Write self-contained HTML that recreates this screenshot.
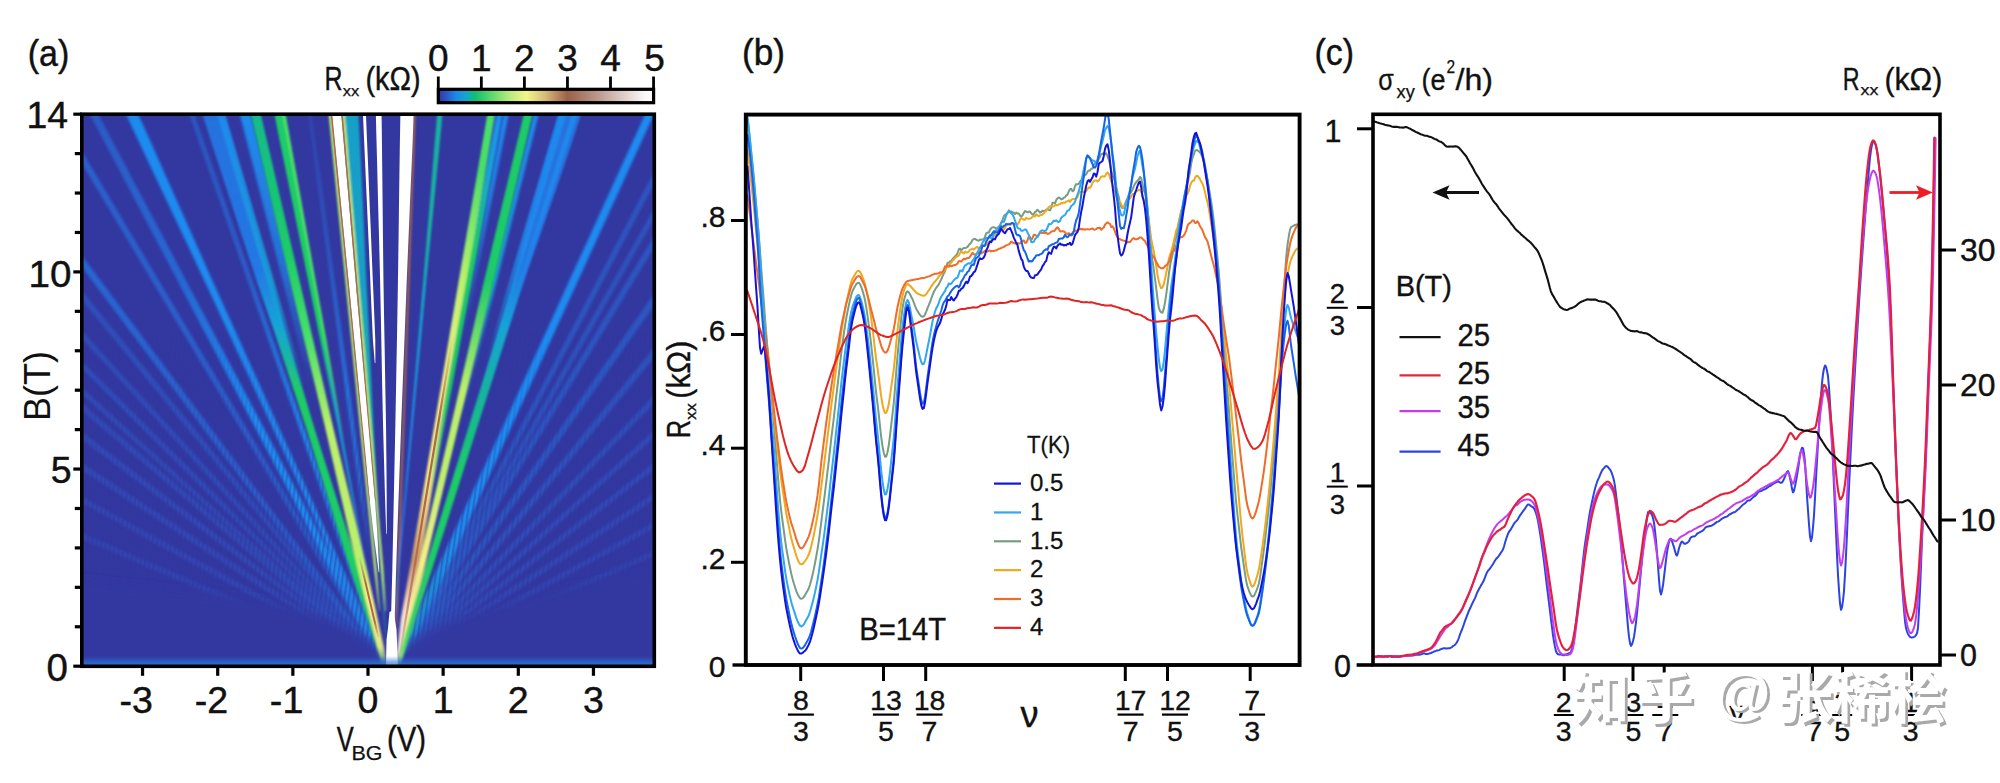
<!DOCTYPE html>
<html lang="en"><head><meta charset="utf-8"><title>Figure</title>
<style>
html,body{margin:0;padding:0;background:#fff;}
body{width:2000px;height:783px;overflow:hidden;font-family:"Liberation Sans", "Noto Sans CJK SC", sans-serif;}
svg{display:block;font-family:"Liberation Sans", "Noto Sans CJK SC", sans-serif;}
</style></head><body>
<svg width="2000" height="783" viewBox="0 0 2000 783">
<rect x="0" y="0" width="2000" height="783" fill="#ffffff"/>
<defs>
<clipPath id="clipA"><rect x="81.8" y="114.2" width="572.5" height="552.0999999999999"/></clipPath>
<filter id="blA" x="-5%" y="-5%" width="110%" height="110%"><feGaussianBlur stdDeviation="1.1"/></filter>
<filter id="blA0" x="-5%" y="-5%" width="110%" height="110%"><feGaussianBlur stdDeviation="0.6"/></filter>
<pattern id="dotsA" width="4.6" height="12" patternUnits="userSpaceOnUse" patternTransform="rotate(8)"><rect width="2.0" height="12" fill="#3337a0"/></pattern>
<linearGradient id="dotsG" gradientUnits="userSpaceOnUse" x1="0" y1="330" x2="0" y2="520"><stop offset="0" stop-color="#fff" stop-opacity="0"/><stop offset="1" stop-color="#fff" stop-opacity="1"/></linearGradient>
<mask id="dotsM" maskUnits="userSpaceOnUse" x="80" y="110" width="580" height="560"><rect x="80" y="110" width="580" height="560" fill="url(#dotsG)"/></mask>
<filter id="blA3" x="-5%" y="-20%" width="110%" height="140%"><feGaussianBlur stdDeviation="5"/></filter>
<filter id="blA2" x="-5%" y="-5%" width="110%" height="110%"><feGaussianBlur stdDeviation="1.6"/></filter>
<linearGradient id="cbar" x1="0" y1="0" x2="1" y2="0"><stop offset="0" stop-color="#3338a0"/><stop offset="0.03" stop-color="#2c50c0"/><stop offset="0.085" stop-color="#1c8ae8"/><stop offset="0.13" stop-color="#12a8c8"/><stop offset="0.175" stop-color="#14c070"/><stop offset="0.26" stop-color="#6cdc6c"/><stop offset="0.34" stop-color="#c0ec80"/><stop offset="0.41" stop-color="#f4f48c"/><stop offset="0.5" stop-color="#d4b878"/><stop offset="0.6" stop-color="#9c6048"/><stop offset="0.7" stop-color="#b08878"/><stop offset="0.85" stop-color="#dcc8c4"/><stop offset="0.95" stop-color="#f8f4f4"/><stop offset="1" stop-color="#ffffff"/></linearGradient>
<linearGradient id="botA" x1="0" y1="0" x2="0" y2="1"><stop offset="0" stop-color="#2a6cd8" stop-opacity="0"/><stop offset="0.6" stop-color="#2a78dc" stop-opacity="0.75"/><stop offset="1" stop-color="#2a84e0" stop-opacity="1"/></linearGradient>
<linearGradient id="fa0" gradientUnits="userSpaceOnUse" x1="0" y1="666.0" x2="0" y2="115.0"><stop offset="0.0" stop-color="#2a70e0" stop-opacity="0.0"/><stop offset="0.05" stop-color="#2a70e0" stop-opacity="0.125"/><stop offset="0.1" stop-color="#2a70e0" stop-opacity="0.25"/><stop offset="0.43" stop-color="#2a70e0" stop-opacity="0.25"/><stop offset="1.0" stop-color="#2a70e0" stop-opacity="0.22"/></linearGradient>
<linearGradient id="fa1" gradientUnits="userSpaceOnUse" x1="0" y1="666.0" x2="0" y2="115.0"><stop offset="0.0" stop-color="#2a70e0" stop-opacity="0.0"/><stop offset="0.05" stop-color="#2a70e0" stop-opacity="0.14"/><stop offset="0.1" stop-color="#2a70e0" stop-opacity="0.28"/><stop offset="0.43" stop-color="#2a70e0" stop-opacity="0.28"/><stop offset="1.0" stop-color="#2a70e0" stop-opacity="0.25"/></linearGradient>
<linearGradient id="fa2" gradientUnits="userSpaceOnUse" x1="0" y1="666.0" x2="0" y2="115.0"><stop offset="0.0" stop-color="#2a70e0" stop-opacity="0.0"/><stop offset="0.05" stop-color="#2a70e0" stop-opacity="0.15"/><stop offset="0.1" stop-color="#2a70e0" stop-opacity="0.3"/><stop offset="0.43" stop-color="#2a70e0" stop-opacity="0.32"/><stop offset="1.0" stop-color="#2a70e0" stop-opacity="0.28"/></linearGradient>
<linearGradient id="fa3" gradientUnits="userSpaceOnUse" x1="0" y1="666.0" x2="0" y2="115.0"><stop offset="0.0" stop-color="#2a70e0" stop-opacity="0.0"/><stop offset="0.05" stop-color="#2a70e0" stop-opacity="0.16"/><stop offset="0.1" stop-color="#2a70e0" stop-opacity="0.32"/><stop offset="0.43" stop-color="#2a70e0" stop-opacity="0.35"/><stop offset="1.0" stop-color="#2a70e0" stop-opacity="0.3"/></linearGradient>
<linearGradient id="fa4" gradientUnits="userSpaceOnUse" x1="0" y1="666.0" x2="0" y2="115.0"><stop offset="0.0" stop-color="#2a70e0" stop-opacity="0.0"/><stop offset="0.05" stop-color="#2a70e0" stop-opacity="0.16"/><stop offset="0.1" stop-color="#2a70e0" stop-opacity="0.32"/><stop offset="0.43" stop-color="#2a70e0" stop-opacity="0.35"/><stop offset="1.0" stop-color="#2a70e0" stop-opacity="0.3"/></linearGradient>
<linearGradient id="fa5" gradientUnits="userSpaceOnUse" x1="0" y1="666.0" x2="0" y2="115.0"><stop offset="0.0" stop-color="#2a70e0" stop-opacity="0.0"/><stop offset="0.05" stop-color="#2a70e0" stop-opacity="0.16"/><stop offset="0.1" stop-color="#2a70e0" stop-opacity="0.32"/><stop offset="0.43" stop-color="#2a70e0" stop-opacity="0.36"/><stop offset="1.0" stop-color="#2a70e0" stop-opacity="0.32"/></linearGradient>
<linearGradient id="fa6" gradientUnits="userSpaceOnUse" x1="0" y1="666.0" x2="0" y2="115.0"><stop offset="0.0" stop-color="#2a70e0" stop-opacity="0.0"/><stop offset="0.05" stop-color="#2a70e0" stop-opacity="0.175"/><stop offset="0.1" stop-color="#2a70e0" stop-opacity="0.35"/><stop offset="0.43" stop-color="#2a70e0" stop-opacity="0.4"/><stop offset="1.0" stop-color="#2a70e0" stop-opacity="0.38"/></linearGradient>
<linearGradient id="fa7" gradientUnits="userSpaceOnUse" x1="0" y1="666.0" x2="0" y2="115.0"><stop offset="0.0" stop-color="#2a70e0" stop-opacity="0.0"/><stop offset="0.05" stop-color="#2a70e0" stop-opacity="0.175"/><stop offset="0.1" stop-color="#2a70e0" stop-opacity="0.35"/><stop offset="0.43" stop-color="#2a70e0" stop-opacity="0.38"/><stop offset="1.0" stop-color="#2a70e0" stop-opacity="0.35"/></linearGradient>
<linearGradient id="fa8" gradientUnits="userSpaceOnUse" x1="0" y1="666.0" x2="0" y2="115.0"><stop offset="0.0" stop-color="#2a70e0" stop-opacity="0.0"/><stop offset="0.05" stop-color="#2a70e0" stop-opacity="0.19"/><stop offset="0.1" stop-color="#2a70e0" stop-opacity="0.38"/><stop offset="0.43" stop-color="#2a70e0" stop-opacity="0.42"/><stop offset="1.0" stop-color="#2a70e0" stop-opacity="0.4"/></linearGradient>
<linearGradient id="fa9" gradientUnits="userSpaceOnUse" x1="0" y1="666.0" x2="0" y2="115.0"><stop offset="0.0" stop-color="#2478e4" stop-opacity="0.0"/><stop offset="0.05" stop-color="#2478e4" stop-opacity="0.25"/><stop offset="0.1" stop-color="#2478e4" stop-opacity="0.5"/><stop offset="0.43" stop-color="#2478e4" stop-opacity="0.65"/><stop offset="1.0" stop-color="#2478e4" stop-opacity="0.8"/></linearGradient>
<linearGradient id="fa10" gradientUnits="userSpaceOnUse" x1="0" y1="666.0" x2="0" y2="115.0"><stop offset="0.0" stop-color="#2478e4" stop-opacity="0.0"/><stop offset="0.05" stop-color="#2478e4" stop-opacity="0.25"/><stop offset="0.1" stop-color="#2478e4" stop-opacity="0.5"/><stop offset="0.43" stop-color="#2478e4" stop-opacity="0.6"/><stop offset="1.0" stop-color="#2478e4" stop-opacity="0.65"/></linearGradient>
<linearGradient id="fa11" gradientUnits="userSpaceOnUse" x1="0" y1="666.0" x2="0" y2="115.0"><stop offset="0.0" stop-color="#1e8cf0" stop-opacity="0.0"/><stop offset="0.05" stop-color="#1e8cf0" stop-opacity="0.35"/><stop offset="0.06" stop-color="#1e8cf0" stop-opacity="0.7"/><stop offset="0.2" stop-color="#1e8cf0" stop-opacity="1"/><stop offset="0.45" stop-color="#1e8cf0" stop-opacity="1.0"/><stop offset="0.7" stop-color="#2478e4" stop-opacity="0.75"/><stop offset="1" stop-color="#2478e4" stop-opacity="0.55"/></linearGradient>
<linearGradient id="fa12" gradientUnits="userSpaceOnUse" x1="0" y1="666.0" x2="0" y2="115.0"><stop offset="0.0" stop-color="#1e8cf0" stop-opacity="0.0"/><stop offset="0.05" stop-color="#1e8cf0" stop-opacity="0.35"/><stop offset="0.06" stop-color="#1e8cf0" stop-opacity="0.7"/><stop offset="0.2" stop-color="#1e8cf0" stop-opacity="0.95"/><stop offset="0.45" stop-color="#1e8cf0" stop-opacity="0.95"/><stop offset="0.7" stop-color="#1e8cf0" stop-opacity="1"/><stop offset="1" stop-color="#1e8cf0" stop-opacity="1"/></linearGradient>
<linearGradient id="fa13" gradientUnits="userSpaceOnUse" x1="0" y1="666.0" x2="0" y2="115.0"><stop offset="0.0" stop-color="#1e8cf0" stop-opacity="0.0"/><stop offset="0.05" stop-color="#1e8cf0" stop-opacity="0.3"/><stop offset="0.08" stop-color="#1e8cf0" stop-opacity="0.6"/><stop offset="0.43" stop-color="#1e8cf0" stop-opacity="0.95"/><stop offset="0.7" stop-color="#2478e4" stop-opacity="0.6"/><stop offset="1" stop-color="#2478e4" stop-opacity="0.5"/></linearGradient>
<linearGradient id="fa14" gradientUnits="userSpaceOnUse" x1="0" y1="666.0" x2="0" y2="115.0"><stop offset="0.0" stop-color="#1ccc68" stop-opacity="0.0"/><stop offset="0.035" stop-color="#1ccc68" stop-opacity="0.85"/><stop offset="0.19" stop-color="#1ccc68" stop-opacity="1"/><stop offset="0.35" stop-color="#1ccc68" stop-opacity="1"/><stop offset="0.5" stop-color="#1ccc68" stop-opacity="1"/><stop offset="0.62" stop-color="#16a4d8" stop-opacity="1"/><stop offset="0.72" stop-color="#2478e4" stop-opacity="1"/><stop offset="1" stop-color="#2478e4" stop-opacity="0.9"/></linearGradient>
<linearGradient id="fa15" gradientUnits="userSpaceOnUse" x1="0" y1="666.0" x2="0" y2="115.0"><stop offset="0.0" stop-color="#16a4d8" stop-opacity="0.0"/><stop offset="0.05" stop-color="#16a4d8" stop-opacity="0.0"/><stop offset="0.5" stop-color="#16a4d8" stop-opacity="0"/><stop offset="0.7" stop-color="#16a4d8" stop-opacity="0.8"/><stop offset="1" stop-color="#1e8cf0" stop-opacity="0.95"/></linearGradient>
<linearGradient id="fa16" gradientUnits="userSpaceOnUse" x1="0" y1="666.0" x2="0" y2="115.0"><stop offset="0.0" stop-color="#1e8cf0" stop-opacity="0.0"/><stop offset="0.05" stop-color="#1e8cf0" stop-opacity="0.0"/><stop offset="0.5" stop-color="#1e8cf0" stop-opacity="0"/><stop offset="0.75" stop-color="#1e8cf0" stop-opacity="0.7"/><stop offset="1" stop-color="#1e8cf0" stop-opacity="1"/></linearGradient>
<linearGradient id="fa17" gradientUnits="userSpaceOnUse" x1="0" y1="666.0" x2="0" y2="115.0"><stop offset="0.0" stop-color="#f4f088" stop-opacity="0.0"/><stop offset="0.035" stop-color="#f4f088" stop-opacity="0.9"/><stop offset="0.12" stop-color="#f4f088" stop-opacity="1"/><stop offset="0.19" stop-color="#bcf06c" stop-opacity="1"/><stop offset="0.43" stop-color="#bcf06c" stop-opacity="1"/><stop offset="0.6" stop-color="#48e068" stop-opacity="1"/><stop offset="0.75" stop-color="#1ccc68" stop-opacity="1"/><stop offset="1" stop-color="#14bc88" stop-opacity="1"/></linearGradient>
<linearGradient id="fa18" gradientUnits="userSpaceOnUse" x1="0" y1="666.0" x2="0" y2="115.0"><stop offset="0.0" stop-color="#b06848" stop-opacity="0.0"/><stop offset="0.05" stop-color="#b06848" stop-opacity="0"/><stop offset="0.08" stop-color="#b06848" stop-opacity="1"/><stop offset="0.15" stop-color="#b06848" stop-opacity="1"/><stop offset="0.2" stop-color="#b06848" stop-opacity="0"/></linearGradient>
<linearGradient id="fa19" gradientUnits="userSpaceOnUse" x1="0" y1="666.0" x2="0" y2="115.0"><stop offset="0.0" stop-color="#16a4d8" stop-opacity="0.0"/><stop offset="0.05" stop-color="#16a4d8" stop-opacity="0.0"/><stop offset="0.15" stop-color="#16a4d8" stop-opacity="0"/><stop offset="0.3" stop-color="#16a4d8" stop-opacity="0.7"/><stop offset="0.45" stop-color="#16a4d8" stop-opacity="0.9"/><stop offset="0.6" stop-color="#1ccc68" stop-opacity="1"/><stop offset="1" stop-color="#1ccc68" stop-opacity="1"/></linearGradient>
<linearGradient id="fa20" gradientUnits="userSpaceOnUse" x1="0" y1="666.0" x2="0" y2="115.0"><stop offset="0.0" stop-color="#48e068" stop-opacity="0.0"/><stop offset="0.05" stop-color="#48e068" stop-opacity="0.0"/><stop offset="0.4" stop-color="#48e068" stop-opacity="0"/><stop offset="0.6" stop-color="#48e068" stop-opacity="1"/><stop offset="1" stop-color="#48e068" stop-opacity="1"/></linearGradient>
<linearGradient id="fa21" gradientUnits="userSpaceOnUse" x1="0" y1="666.0" x2="0" y2="115.0"><stop offset="0.0" stop-color="#1e8cf0" stop-opacity="0.0"/><stop offset="0.05" stop-color="#1e8cf0" stop-opacity="0.0"/><stop offset="0.2" stop-color="#1e8cf0" stop-opacity="0"/><stop offset="0.35" stop-color="#1e8cf0" stop-opacity="0.7"/><stop offset="0.5" stop-color="#1e8cf0" stop-opacity="0.8"/><stop offset="0.75" stop-color="#2478e4" stop-opacity="0.5"/><stop offset="1" stop-color="#2478e4" stop-opacity="0.2"/></linearGradient>
<linearGradient id="fa22" gradientUnits="userSpaceOnUse" x1="0" y1="666.0" x2="0" y2="115.0"><stop offset="0.0" stop-color="#14b4a0" stop-opacity="0.0"/><stop offset="0.05" stop-color="#14b4a0" stop-opacity="0.3"/><stop offset="0.1" stop-color="#14b4a0" stop-opacity="0.6"/><stop offset="0.4" stop-color="#14b4a0" stop-opacity="1"/><stop offset="0.7" stop-color="#12a0c8" stop-opacity="1"/><stop offset="1" stop-color="#12a0c8" stop-opacity="1"/></linearGradient>
<linearGradient id="fa23" gradientUnits="userSpaceOnUse" x1="0" y1="666.0" x2="0" y2="115.0"><stop offset="0.0" stop-color="#ffffff" stop-opacity="0.0"/><stop offset="0.04" stop-color="#ffffff" stop-opacity="1"/><stop offset="0.12" stop-color="#ffffff" stop-opacity="1"/><stop offset="0.35" stop-color="#ffffff" stop-opacity="1"/><stop offset="0.6" stop-color="#ffffff" stop-opacity="1.0"/><stop offset="1.0" stop-color="#ffffff" stop-opacity="1"/></linearGradient>
<linearGradient id="fa24" gradientUnits="userSpaceOnUse" x1="0" y1="666.0" x2="0" y2="115.0"><stop offset="0.0" stop-color="#bcf06c" stop-opacity="0.0"/><stop offset="0.04" stop-color="#bcf06c" stop-opacity="0.5"/><stop offset="0.12" stop-color="#bcf06c" stop-opacity="1"/><stop offset="0.35" stop-color="#bcf06c" stop-opacity="1"/><stop offset="0.6" stop-color="#bcf06c" stop-opacity="1.0"/><stop offset="1.0" stop-color="#bcf06c" stop-opacity="1"/></linearGradient>
<linearGradient id="fa25" gradientUnits="userSpaceOnUse" x1="0" y1="666.0" x2="0" y2="115.0"><stop offset="0.0" stop-color="#bcf06c" stop-opacity="0.0"/><stop offset="0.04" stop-color="#bcf06c" stop-opacity="0.5"/><stop offset="0.12" stop-color="#bcf06c" stop-opacity="1"/><stop offset="0.35" stop-color="#bcf06c" stop-opacity="1"/><stop offset="0.6" stop-color="#bcf06c" stop-opacity="1.0"/><stop offset="1.0" stop-color="#bcf06c" stop-opacity="1"/></linearGradient>
<linearGradient id="fa26" gradientUnits="userSpaceOnUse" x1="0" y1="666.0" x2="0" y2="115.0"><stop offset="0.0" stop-color="#b06848" stop-opacity="0.0"/><stop offset="0.04" stop-color="#b06848" stop-opacity="0.5"/><stop offset="0.12" stop-color="#b06848" stop-opacity="1"/><stop offset="0.35" stop-color="#b06848" stop-opacity="1"/><stop offset="0.6" stop-color="#b06848" stop-opacity="1.0"/><stop offset="1.0" stop-color="#b06848" stop-opacity="1"/></linearGradient>
<linearGradient id="fa27" gradientUnits="userSpaceOnUse" x1="0" y1="666.0" x2="0" y2="115.0"><stop offset="0.0" stop-color="#b06848" stop-opacity="0.0"/><stop offset="0.04" stop-color="#b06848" stop-opacity="0.5"/><stop offset="0.12" stop-color="#b06848" stop-opacity="1"/><stop offset="0.35" stop-color="#b06848" stop-opacity="1"/><stop offset="0.6" stop-color="#b06848" stop-opacity="1.0"/><stop offset="1.0" stop-color="#b06848" stop-opacity="1"/></linearGradient>
<linearGradient id="fa28" gradientUnits="userSpaceOnUse" x1="0" y1="666.0" x2="0" y2="115.0"><stop offset="0.0" stop-color="#ffffff" stop-opacity="0.0"/><stop offset="0.04" stop-color="#ffffff" stop-opacity="1"/><stop offset="0.12" stop-color="#ffffff" stop-opacity="1"/><stop offset="0.35" stop-color="#ffffff" stop-opacity="1"/><stop offset="0.6" stop-color="#ffffff" stop-opacity="1.0"/><stop offset="1.0" stop-color="#ffffff" stop-opacity="1"/></linearGradient>
<linearGradient id="fa29" gradientUnits="userSpaceOnUse" x1="0" y1="666.0" x2="0" y2="115.0"><stop offset="0.0" stop-color="#ffffff" stop-opacity="0.0"/><stop offset="0.04" stop-color="#ffffff" stop-opacity="1"/><stop offset="0.12" stop-color="#ffffff" stop-opacity="1"/><stop offset="0.35" stop-color="#ffffff" stop-opacity="1"/><stop offset="0.6" stop-color="#ffffff" stop-opacity="1.0"/><stop offset="1.0" stop-color="#ffffff" stop-opacity="1"/></linearGradient>
<linearGradient id="fa30" gradientUnits="userSpaceOnUse" x1="0" y1="666.0" x2="0" y2="115.0"><stop offset="0.0" stop-color="#ffffff" stop-opacity="0.0"/><stop offset="0.04" stop-color="#ffffff" stop-opacity="1"/><stop offset="0.12" stop-color="#ffffff" stop-opacity="1"/><stop offset="0.35" stop-color="#ffffff" stop-opacity="1"/><stop offset="0.6" stop-color="#ffffff" stop-opacity="1.0"/><stop offset="1.0" stop-color="#ffffff" stop-opacity="1"/></linearGradient>
<linearGradient id="fa31" gradientUnits="userSpaceOnUse" x1="0" y1="666.0" x2="0" y2="115.0"><stop offset="0.0" stop-color="#b06848" stop-opacity="0.0"/><stop offset="0.04" stop-color="#b06848" stop-opacity="0.5"/><stop offset="0.12" stop-color="#b06848" stop-opacity="1"/><stop offset="0.35" stop-color="#b06848" stop-opacity="1"/><stop offset="0.6" stop-color="#b06848" stop-opacity="1.0"/><stop offset="1.0" stop-color="#b06848" stop-opacity="1"/></linearGradient>
<linearGradient id="fa32" gradientUnits="userSpaceOnUse" x1="0" y1="666.0" x2="0" y2="115.0"><stop offset="0.0" stop-color="#1e8cf0" stop-opacity="0.0"/><stop offset="0.05" stop-color="#1e8cf0" stop-opacity="0.25"/><stop offset="0.1" stop-color="#1e8cf0" stop-opacity="0.5"/><stop offset="0.4" stop-color="#1e8cf0" stop-opacity="0.9"/><stop offset="0.6" stop-color="#16a4d8" stop-opacity="1"/><stop offset="0.8" stop-color="#14b4a0" stop-opacity="1"/><stop offset="1" stop-color="#14b4a0" stop-opacity="1"/></linearGradient>
<linearGradient id="fa33" gradientUnits="userSpaceOnUse" x1="0" y1="666.0" x2="0" y2="115.0"><stop offset="0.0" stop-color="#f8f0ec" stop-opacity="0.0"/><stop offset="0.025" stop-color="#f8f0ec" stop-opacity="0.9"/><stop offset="0.1" stop-color="#f4dccc" stop-opacity="1"/><stop offset="0.19" stop-color="#c8946c" stop-opacity="1"/><stop offset="0.28" stop-color="#e8cc80" stop-opacity="1"/><stop offset="0.35" stop-color="#f4f088" stop-opacity="1"/><stop offset="0.5" stop-color="#f4f088" stop-opacity="1"/><stop offset="0.7" stop-color="#bcf06c" stop-opacity="1"/><stop offset="0.9" stop-color="#48e068" stop-opacity="1"/><stop offset="1" stop-color="#48e068" stop-opacity="1"/></linearGradient>
<linearGradient id="fa34" gradientUnits="userSpaceOnUse" x1="0" y1="666.0" x2="0" y2="115.0"><stop offset="0.0" stop-color="#b06848" stop-opacity="0.0"/><stop offset="0.05" stop-color="#b06848" stop-opacity="0.3"/><stop offset="0.1" stop-color="#b06848" stop-opacity="0.6"/><stop offset="0.25" stop-color="#b06848" stop-opacity="1"/><stop offset="0.45" stop-color="#b06848" stop-opacity="1"/><stop offset="0.6" stop-color="#b06848" stop-opacity="0"/></linearGradient>
<linearGradient id="fa35" gradientUnits="userSpaceOnUse" x1="0" y1="666.0" x2="0" y2="115.0"><stop offset="0.0" stop-color="#1ccc68" stop-opacity="0.0"/><stop offset="0.05" stop-color="#1ccc68" stop-opacity="0.0"/><stop offset="0.3" stop-color="#1ccc68" stop-opacity="0"/><stop offset="0.5" stop-color="#1ccc68" stop-opacity="0.9"/><stop offset="0.75" stop-color="#1ccc68" stop-opacity="1"/><stop offset="0.9" stop-color="#16a4d8" stop-opacity="1"/><stop offset="1" stop-color="#1e8cf0" stop-opacity="1"/></linearGradient>
<linearGradient id="fa36" gradientUnits="userSpaceOnUse" x1="0" y1="666.0" x2="0" y2="115.0"><stop offset="0.0" stop-color="#1e8cf0" stop-opacity="0.0"/><stop offset="0.05" stop-color="#1e8cf0" stop-opacity="0.0"/><stop offset="0.6" stop-color="#1e8cf0" stop-opacity="0"/><stop offset="0.85" stop-color="#1e8cf0" stop-opacity="0.8"/><stop offset="1" stop-color="#1e8cf0" stop-opacity="1"/></linearGradient>
<linearGradient id="fa37" gradientUnits="userSpaceOnUse" x1="0" y1="666.0" x2="0" y2="115.0"><stop offset="0.0" stop-color="#f4f088" stop-opacity="0.0"/><stop offset="0.03" stop-color="#f4f088" stop-opacity="0.8"/><stop offset="0.19" stop-color="#f4f088" stop-opacity="1"/><stop offset="0.35" stop-color="#bcf06c" stop-opacity="1"/><stop offset="0.5" stop-color="#bcf06c" stop-opacity="1"/><stop offset="0.7" stop-color="#1ccc68" stop-opacity="1"/><stop offset="1" stop-color="#1ccc68" stop-opacity="1"/></linearGradient>
<linearGradient id="fa38" gradientUnits="userSpaceOnUse" x1="0" y1="666.0" x2="0" y2="115.0"><stop offset="0.0" stop-color="#16a4d8" stop-opacity="0.0"/><stop offset="0.05" stop-color="#16a4d8" stop-opacity="0.0"/><stop offset="0.45" stop-color="#16a4d8" stop-opacity="0"/><stop offset="0.7" stop-color="#16a4d8" stop-opacity="0.9"/><stop offset="1" stop-color="#1e8cf0" stop-opacity="1"/></linearGradient>
<linearGradient id="fa39" gradientUnits="userSpaceOnUse" x1="0" y1="666.0" x2="0" y2="115.0"><stop offset="0.0" stop-color="#48e068" stop-opacity="0.0"/><stop offset="0.03" stop-color="#48e068" stop-opacity="0.85"/><stop offset="0.19" stop-color="#1ccc68" stop-opacity="1"/><stop offset="0.35" stop-color="#1ccc68" stop-opacity="1"/><stop offset="0.5" stop-color="#14b4a0" stop-opacity="1"/><stop offset="0.62" stop-color="#16a4d8" stop-opacity="1"/><stop offset="0.72" stop-color="#2478e4" stop-opacity="1"/><stop offset="1" stop-color="#2478e4" stop-opacity="0.9"/></linearGradient>
<linearGradient id="fa40" gradientUnits="userSpaceOnUse" x1="0" y1="666.0" x2="0" y2="115.0"><stop offset="0.0" stop-color="#16a4d8" stop-opacity="0.0"/><stop offset="0.05" stop-color="#16a4d8" stop-opacity="0.0"/><stop offset="0.55" stop-color="#16a4d8" stop-opacity="0"/><stop offset="0.75" stop-color="#1e8cf0" stop-opacity="0.8"/><stop offset="1" stop-color="#1e8cf0" stop-opacity="0.95"/></linearGradient>
<linearGradient id="fa41" gradientUnits="userSpaceOnUse" x1="0" y1="666.0" x2="0" y2="115.0"><stop offset="0.0" stop-color="#1e8cf0" stop-opacity="0.0"/><stop offset="0.05" stop-color="#1e8cf0" stop-opacity="0.0"/><stop offset="0.6" stop-color="#1e8cf0" stop-opacity="0"/><stop offset="0.8" stop-color="#1e8cf0" stop-opacity="0.7"/><stop offset="1" stop-color="#1e8cf0" stop-opacity="0.9"/></linearGradient>
<linearGradient id="fa42" gradientUnits="userSpaceOnUse" x1="0" y1="666.0" x2="0" y2="115.0"><stop offset="0.0" stop-color="#16a4d8" stop-opacity="0.0"/><stop offset="0.05" stop-color="#16a4d8" stop-opacity="0.4"/><stop offset="0.06" stop-color="#16a4d8" stop-opacity="0.8"/><stop offset="0.25" stop-color="#1e8cf0" stop-opacity="1"/><stop offset="1" stop-color="#1e8cf0" stop-opacity="1"/></linearGradient>
<linearGradient id="fa43" gradientUnits="userSpaceOnUse" x1="0" y1="666.0" x2="0" y2="115.0"><stop offset="0.0" stop-color="#2478e4" stop-opacity="0.0"/><stop offset="0.05" stop-color="#2478e4" stop-opacity="0.225"/><stop offset="0.1" stop-color="#2478e4" stop-opacity="0.45"/><stop offset="0.43" stop-color="#2478e4" stop-opacity="0.5"/><stop offset="1.0" stop-color="#2478e4" stop-opacity="0.45"/></linearGradient>
<linearGradient id="fa44" gradientUnits="userSpaceOnUse" x1="0" y1="666.0" x2="0" y2="115.0"><stop offset="0.0" stop-color="#2478e4" stop-opacity="0.0"/><stop offset="0.05" stop-color="#2478e4" stop-opacity="0.2"/><stop offset="0.1" stop-color="#2478e4" stop-opacity="0.4"/><stop offset="0.43" stop-color="#2478e4" stop-opacity="0.45"/><stop offset="1.0" stop-color="#2478e4" stop-opacity="0.4"/></linearGradient>
<linearGradient id="fa45" gradientUnits="userSpaceOnUse" x1="0" y1="666.0" x2="0" y2="115.0"><stop offset="0.0" stop-color="#2478e4" stop-opacity="0.0"/><stop offset="0.05" stop-color="#2478e4" stop-opacity="0.225"/><stop offset="0.1" stop-color="#2478e4" stop-opacity="0.45"/><stop offset="0.43" stop-color="#2478e4" stop-opacity="0.5"/><stop offset="1.0" stop-color="#2478e4" stop-opacity="0.45"/></linearGradient>
<linearGradient id="fa46" gradientUnits="userSpaceOnUse" x1="0" y1="666.0" x2="0" y2="115.0"><stop offset="0.0" stop-color="#2478e4" stop-opacity="0.0"/><stop offset="0.05" stop-color="#2478e4" stop-opacity="0.25"/><stop offset="0.1" stop-color="#2478e4" stop-opacity="0.5"/><stop offset="0.43" stop-color="#2478e4" stop-opacity="0.5"/><stop offset="1.0" stop-color="#2478e4" stop-opacity="0.45"/></linearGradient>
<linearGradient id="fa47" gradientUnits="userSpaceOnUse" x1="0" y1="666.0" x2="0" y2="115.0"><stop offset="0.0" stop-color="#2478e4" stop-opacity="0.0"/><stop offset="0.05" stop-color="#2478e4" stop-opacity="0.225"/><stop offset="0.1" stop-color="#2478e4" stop-opacity="0.45"/><stop offset="0.43" stop-color="#2478e4" stop-opacity="0.42"/><stop offset="1.0" stop-color="#2478e4" stop-opacity="0.35"/></linearGradient>
<linearGradient id="fa48" gradientUnits="userSpaceOnUse" x1="0" y1="666.0" x2="0" y2="115.0"><stop offset="0.0" stop-color="#2a70e0" stop-opacity="0.0"/><stop offset="0.05" stop-color="#2a70e0" stop-opacity="0.2"/><stop offset="0.1" stop-color="#2a70e0" stop-opacity="0.4"/><stop offset="0.43" stop-color="#2a70e0" stop-opacity="0.4"/><stop offset="1.0" stop-color="#2a70e0" stop-opacity="0.35"/></linearGradient>
<linearGradient id="fa49" gradientUnits="userSpaceOnUse" x1="0" y1="666.0" x2="0" y2="115.0"><stop offset="0.0" stop-color="#2a70e0" stop-opacity="0.0"/><stop offset="0.05" stop-color="#2a70e0" stop-opacity="0.19"/><stop offset="0.1" stop-color="#2a70e0" stop-opacity="0.38"/><stop offset="0.43" stop-color="#2a70e0" stop-opacity="0.38"/><stop offset="1.0" stop-color="#2a70e0" stop-opacity="0.3"/></linearGradient>
<linearGradient id="fa50" gradientUnits="userSpaceOnUse" x1="0" y1="666.0" x2="0" y2="115.0"><stop offset="0.0" stop-color="#2a70e0" stop-opacity="0.0"/><stop offset="0.05" stop-color="#2a70e0" stop-opacity="0.175"/><stop offset="0.1" stop-color="#2a70e0" stop-opacity="0.35"/><stop offset="0.43" stop-color="#2a70e0" stop-opacity="0.35"/><stop offset="1.0" stop-color="#2a70e0" stop-opacity="0.3"/></linearGradient>
<linearGradient id="fa51" gradientUnits="userSpaceOnUse" x1="0" y1="666.0" x2="0" y2="115.0"><stop offset="0.0" stop-color="#2a70e0" stop-opacity="0.0"/><stop offset="0.05" stop-color="#2a70e0" stop-opacity="0.16"/><stop offset="0.1" stop-color="#2a70e0" stop-opacity="0.32"/><stop offset="0.43" stop-color="#2a70e0" stop-opacity="0.32"/><stop offset="1.0" stop-color="#2a70e0" stop-opacity="0.28"/></linearGradient>
<linearGradient id="fa52" gradientUnits="userSpaceOnUse" x1="0" y1="666.0" x2="0" y2="115.0"><stop offset="0.0" stop-color="#2a70e0" stop-opacity="0.0"/><stop offset="0.05" stop-color="#2a70e0" stop-opacity="0.14"/><stop offset="0.1" stop-color="#2a70e0" stop-opacity="0.28"/><stop offset="0.43" stop-color="#2a70e0" stop-opacity="0.28"/><stop offset="1.0" stop-color="#2a70e0" stop-opacity="0.25"/></linearGradient>
<linearGradient id="fa53" gradientUnits="userSpaceOnUse" x1="0" y1="666.0" x2="0" y2="115.0"><stop offset="0.0" stop-color="#2a70e0" stop-opacity="0.0"/><stop offset="0.05" stop-color="#2a70e0" stop-opacity="0.125"/><stop offset="0.1" stop-color="#2a70e0" stop-opacity="0.25"/><stop offset="0.43" stop-color="#2a70e0" stop-opacity="0.25"/><stop offset="1.0" stop-color="#2a70e0" stop-opacity="0.22"/></linearGradient>
</defs>
<g clip-path="url(#clipA)">
<rect x="81.8" y="114.2" width="572.5" height="552.0999999999999" fill="#3337a0"/>
<g filter="url(#blA2)">
<polygon points="378.2,666.0 266.7,618.2 155.1,570.5 43.6,522.7 -68.0,475.0 -179.6,427.2 -291.1,379.5 -402.7,331.7 -514.2,284.0 -625.8,236.2 -737.4,188.5 -848.9,140.7 -960.5,93.0 -942.3,93.0 -831.1,140.7 -720.0,188.5 -608.8,236.2 -497.6,284.0 -386.5,331.7 -275.3,379.5 -164.1,427.2 -52.9,475.0 58.2,522.7 169.4,570.5 280.6,618.2 391.8,666.0" fill="url(#fa0)"/>
<polygon points="379.4,666.0 292.1,618.2 204.8,570.5 117.6,522.7 30.3,475.0 -56.9,427.2 -144.2,379.5 -231.5,331.7 -318.7,284.0 -406.0,236.2 -493.2,188.5 -580.5,140.7 -667.8,93.0 -652.6,93.0 -565.7,140.7 -478.8,188.5 -391.8,236.2 -304.9,284.0 -217.9,331.7 -131.0,379.5 -44.1,427.2 42.9,475.0 129.8,522.7 216.7,570.5 303.7,618.2 390.6,666.0" fill="url(#fa1)"/>
<polygon points="380.1,666.0 307.4,618.2 234.8,570.5 162.1,522.7 89.4,475.0 16.7,427.2 -56.0,379.5 -128.6,331.7 -201.3,284.0 -274.0,236.2 -346.7,188.5 -419.4,140.7 -492.0,93.0 -478.9,93.0 -406.5,140.7 -334.1,188.5 -261.7,236.2 -189.3,284.0 -116.9,331.7 -44.5,379.5 27.9,427.2 100.3,475.0 172.7,522.7 245.1,570.5 317.5,618.2 389.9,666.0" fill="url(#fa2)"/>
<polygon points="380.9,666.0 317.9,618.2 255.0,570.5 192.0,522.7 129.1,475.0 66.1,427.2 3.2,379.5 -59.8,331.7 -122.7,284.0 -185.7,236.2 -248.7,188.5 -311.6,140.7 -374.6,93.0 -363.4,93.0 -300.7,140.7 -238.0,188.5 -175.3,236.2 -112.6,284.0 -49.9,331.7 12.8,379.5 75.6,427.2 138.3,475.0 201.0,522.7 263.7,570.5 326.4,618.2 389.1,666.0" fill="url(#fa3)"/>
<polygon points="381.2,666.0 325.2,618.2 269.2,570.5 213.2,522.7 157.2,475.0 101.2,427.2 45.2,379.5 -10.8,331.7 -66.8,284.0 -122.8,236.2 -178.8,188.5 -234.8,140.7 -290.9,93.0 -280.8,93.0 -225.0,140.7 -169.2,188.5 -113.4,236.2 -57.6,284.0 -1.8,331.7 54.0,379.5 109.8,427.2 165.6,475.0 221.4,522.7 277.2,570.5 333.0,618.2 388.8,666.0" fill="url(#fa4)"/>
<polygon points="382.0,666.0 329.3,618.2 276.6,570.5 223.9,522.7 171.2,475.0 118.5,427.2 65.8,379.5 13.1,331.7 -39.5,284.0 -92.2,236.2 -144.9,188.5 -197.6,140.7 -250.3,93.0 -242.2,93.0 -189.7,140.7 -137.2,188.5 -84.7,236.2 -32.2,284.0 20.4,331.7 72.9,379.5 125.4,427.2 177.9,475.0 230.4,522.7 283.0,570.5 335.5,618.2 388.0,666.0" fill="url(#fa5)"/>
<polygon points="382.0,666.0 333.8,618.2 285.6,570.5 237.4,522.7 189.3,475.0 141.1,427.2 92.9,379.5 44.7,331.7 -3.5,284.0 -51.7,236.2 -99.9,188.5 -148.1,140.7 -196.2,93.0 -188.2,93.0 -140.1,140.7 -92.1,188.5 -44.1,236.2 3.9,284.0 51.9,331.7 99.9,379.5 147.9,427.2 195.9,475.0 244.0,522.7 292.0,570.5 340.0,618.2 388.0,666.0" fill="url(#fa6)"/>
<polygon points="382.0,666.0 338.2,618.2 294.5,570.5 250.7,522.7 206.9,475.0 163.2,427.2 119.4,379.5 75.6,331.7 31.9,284.0 -11.9,236.2 -55.7,188.5 -99.4,140.7 -143.2,93.0 -135.1,93.0 -91.5,140.7 -47.9,188.5 -4.3,236.2 39.3,284.0 82.8,331.7 126.4,379.5 170.0,427.2 213.6,475.0 257.2,522.7 300.8,570.5 344.4,618.2 388.0,666.0" fill="url(#fa7)"/>
<polygon points="382.0,666.0 342.9,618.2 303.7,570.5 264.6,522.7 225.4,475.0 186.3,427.2 147.2,379.5 108.0,331.7 68.9,284.0 29.8,236.2 -9.4,188.5 -48.5,140.7 -87.7,93.0 -79.6,93.0 -40.6,140.7 -1.7,188.5 37.3,236.2 76.3,284.0 115.2,331.7 154.2,379.5 193.2,427.2 232.1,475.0 271.1,522.7 310.1,570.5 349.0,618.2 388.0,666.0" fill="url(#fa8)"/>
<polygon points="381.6,666.0 345.8,618.2 309.9,570.5 274.1,522.7 238.2,475.0 202.3,427.2 166.5,379.5 130.6,331.7 94.8,284.0 58.9,236.2 23.1,188.5 -12.8,140.7 -48.6,93.0 -39.6,93.0 -3.9,140.7 31.8,188.5 67.4,236.2 103.1,284.0 138.7,331.7 174.4,379.5 210.1,427.2 245.7,475.0 281.4,522.7 317.1,570.5 352.7,618.2 388.4,666.0" fill="url(#fa9)"/>
<polygon points="382.2,666.0 353.7,618.2 325.1,570.5 296.6,522.7 268.1,475.0 239.5,427.2 211.0,379.5 182.5,331.7 153.9,284.0 125.4,236.2 96.8,188.5 68.3,140.7 39.8,93.0 47.4,93.0 75.7,140.7 104.1,188.5 132.5,236.2 160.8,284.0 189.2,331.7 217.6,379.5 246.0,427.2 274.3,475.0 302.7,522.7 331.1,570.5 359.4,618.2 387.8,666.0" fill="url(#fa10)"/>
<polygon points="380.8,666.0 355.6,618.2 330.4,570.5 305.2,522.7 280.0,475.0 254.9,427.2 229.7,379.5 204.5,331.7 179.3,284.0 154.2,236.2 129.0,188.5 103.8,140.7 78.6,93.0 87.1,93.0 112.3,140.7 137.5,188.5 162.7,236.2 187.8,284.0 213.0,331.7 238.2,379.5 263.4,427.2 288.5,475.0 313.7,522.7 338.9,570.5 364.1,618.2 389.2,666.0" fill="url(#fa11)"/>
<polygon points="382.5,666.0 360.5,618.2 338.4,570.5 316.4,522.7 294.4,475.0 272.3,427.2 250.2,379.5 228.1,331.7 206.0,284.0 183.5,236.2 160.9,188.5 138.4,140.7 116.1,93.0 128.6,93.0 150.2,140.7 171.4,188.5 192.7,236.2 213.9,284.0 235.6,331.7 257.2,379.5 278.8,427.2 300.6,475.0 322.3,522.7 344.0,570.5 365.8,618.2 387.5,666.0" fill="url(#fa12)"/>
<polygon points="382.5,666.0 365.8,618.2 349.0,570.5 332.3,522.7 315.6,475.0 298.9,427.2 282.1,379.5 265.4,331.7 248.7,284.0 232.0,236.2 215.2,188.5 198.5,140.7 181.8,93.0 186.8,93.0 203.5,140.7 220.2,188.5 237.0,236.2 253.7,284.0 270.4,331.7 287.1,379.5 303.9,427.2 320.6,475.0 337.3,522.7 354.0,570.5 370.8,618.2 387.5,666.0" fill="url(#fa13)"/>
<polygon points="381.7,666.0 369.4,618.2 357.1,570.5 344.9,522.7 332.6,475.0 320.3,427.2 308.0,379.5 295.7,331.7 283.5,284.0 271.2,236.2 258.9,188.5 246.6,140.7 234.3,93.0 245.5,93.0 257.4,140.7 269.3,188.5 281.2,236.2 293.1,284.0 305.0,331.7 316.9,379.5 328.8,427.2 340.7,475.0 352.6,522.7 364.5,570.5 376.4,618.2 388.3,666.0" fill="url(#fa16)"/>
<polygon points="383.0,666.0 376.5,618.2 370.0,570.5 363.5,522.7 357.0,475.0 350.5,427.2 344.0,379.5 337.5,331.7 331.0,284.0 324.5,236.2 318.0,188.5 311.5,140.7 305.0,93.0 309.0,93.0 315.5,140.7 322.0,188.5 328.5,236.2 335.0,284.0 341.5,331.7 348.0,379.5 354.5,427.2 361.0,475.0 367.5,522.7 374.0,570.5 380.5,618.2 387.0,666.0" fill="url(#fa21)"/>
<polygon points="396.0,666.0 405.3,618.2 414.6,570.5 423.9,522.7 433.3,475.0 442.6,427.2 451.9,379.5 461.2,331.7 470.5,284.0 479.9,236.2 489.2,188.5 498.5,140.7 507.8,93.0 512.8,93.0 503.4,140.7 494.0,188.5 484.6,236.2 475.2,284.0 465.8,331.7 456.4,379.5 447.0,427.2 437.6,475.0 428.2,522.7 418.8,570.5 409.4,618.2 400.0,666.0" fill="url(#fa36)"/>
<polygon points="396.0,666.0 407.9,618.2 419.8,570.5 431.8,522.7 443.7,475.0 455.6,427.2 467.5,379.5 479.4,331.7 491.3,284.0 503.2,236.2 515.2,188.5 527.1,140.7 539.0,93.0 544.0,93.0 532.0,140.7 520.0,188.5 508.0,236.2 496.0,284.0 484.0,331.7 472.0,379.5 460.0,427.2 448.0,475.0 436.0,522.7 424.0,570.5 412.0,618.2 400.0,666.0" fill="url(#fa38)"/>
<polygon points="394.5,666.0 415.4,618.2 436.2,570.5 458.2,522.7 480.4,475.0 502.6,427.2 524.3,379.5 546.1,331.7 567.8,284.0 589.6,236.2 611.3,188.5 633.1,140.7 654.8,93.0 663.6,93.0 641.9,140.7 620.1,188.5 598.3,236.2 576.5,284.0 554.7,331.7 532.9,379.5 511.2,427.2 489.8,475.0 468.5,522.7 446.9,570.5 424.2,618.2 401.5,666.0" fill="url(#fa42)"/>
<polygon points="395.6,666.0 420.5,618.2 445.5,570.5 470.5,522.7 495.5,475.0 520.4,427.2 545.4,379.5 570.4,331.7 595.4,284.0 620.3,236.2 645.3,188.5 670.3,140.7 695.3,93.0 701.8,93.0 676.7,140.7 651.6,188.5 626.5,236.2 601.4,284.0 576.3,331.7 551.1,379.5 526.0,427.2 500.9,475.0 475.8,522.7 450.7,570.5 425.6,618.2 400.4,666.0" fill="url(#fa43)"/>
<polygon points="395.6,666.0 422.5,618.2 449.5,570.5 476.5,522.7 503.4,475.0 530.4,427.2 557.4,379.5 584.3,331.7 611.3,284.0 638.3,236.2 665.3,188.5 692.2,140.7 719.2,93.0 725.8,93.0 698.7,140.7 671.5,188.5 644.4,236.2 617.3,284.0 590.2,331.7 563.1,379.5 536.0,427.2 508.9,475.0 481.8,522.7 454.7,570.5 427.5,618.2 400.4,666.0" fill="url(#fa44)"/>
<polygon points="395.2,666.0 423.9,618.2 452.7,570.5 481.4,522.7 510.2,475.0 538.9,427.2 567.7,379.5 596.4,331.7 625.1,284.0 653.9,236.2 682.6,188.5 711.4,140.7 740.1,93.0 747.7,93.0 718.8,140.7 689.9,188.5 661.0,236.2 632.1,284.0 603.2,331.7 574.3,379.5 545.3,427.2 516.4,475.0 487.5,522.7 458.6,570.5 429.7,618.2 400.8,666.0" fill="url(#fa45)"/>
<polygon points="394.6,666.0 427.9,618.2 461.2,570.5 494.4,522.7 527.7,475.0 561.0,427.2 594.2,379.5 627.5,331.7 660.8,284.0 694.0,236.2 727.3,188.5 760.6,140.7 793.9,93.0 802.9,93.0 769.5,140.7 736.0,188.5 702.6,236.2 669.1,284.0 635.6,331.7 602.2,379.5 568.7,427.2 535.2,475.0 501.8,522.7 468.3,570.5 434.8,618.2 401.4,666.0" fill="url(#fa46)"/>
<polygon points="394.6,666.0 433.5,618.2 472.4,570.5 511.3,522.7 550.2,475.0 589.1,427.2 628.0,379.5 666.9,331.7 705.8,284.0 744.7,236.2 783.6,188.5 822.6,140.7 861.5,93.0 870.5,93.0 831.4,140.7 792.4,188.5 753.3,236.2 714.2,284.0 675.1,331.7 636.0,379.5 596.9,427.2 557.8,475.0 518.7,522.7 479.6,570.5 440.5,618.2 401.4,666.0" fill="url(#fa47)"/>
<polygon points="394.6,666.0 440.4,618.2 486.1,570.5 531.9,522.7 577.6,475.0 623.4,427.2 669.1,379.5 714.9,331.7 760.6,284.0 806.4,236.2 852.1,188.5 897.9,140.7 943.6,93.0 952.7,93.0 906.8,140.7 860.8,188.5 814.9,236.2 768.9,284.0 723.0,331.7 677.0,379.5 631.1,427.2 585.2,475.0 539.2,522.7 493.3,570.5 447.3,618.2 401.4,666.0" fill="url(#fa48)"/>
<polygon points="394.6,666.0 447.2,618.2 499.8,570.5 552.4,522.7 605.0,475.0 657.6,427.2 710.2,379.5 762.8,331.7 815.4,284.0 868.0,236.2 920.6,188.5 973.2,140.7 1025.8,93.0 1034.9,93.0 982.1,140.7 929.3,188.5 876.5,236.2 823.7,284.0 770.9,331.7 718.1,379.5 665.3,427.2 612.5,475.0 559.7,522.7 507.0,570.5 454.2,618.2 401.4,666.0" fill="url(#fa49)"/>
<polygon points="394.2,666.0 455.2,618.2 516.2,570.5 577.2,522.7 638.2,475.0 699.2,427.2 760.2,379.5 821.2,331.7 882.2,284.0 943.2,236.2 1004.2,188.5 1065.2,140.7 1126.2,93.0 1136.2,93.0 1075.0,140.7 1013.8,188.5 952.6,236.2 891.4,284.0 830.2,331.7 769.0,379.5 707.8,427.2 646.6,475.0 585.4,522.7 524.2,570.5 463.0,618.2 401.8,666.0" fill="url(#fa50)"/>
<polygon points="393.5,666.0 465.5,618.2 537.5,570.5 609.4,522.7 681.4,475.0 753.4,427.2 825.4,379.5 897.3,331.7 969.3,284.0 1041.3,236.2 1113.3,188.5 1185.2,140.7 1257.2,93.0 1269.3,93.0 1197.1,140.7 1124.9,188.5 1052.6,236.2 980.4,284.0 908.2,331.7 835.9,379.5 763.7,427.2 691.4,475.0 619.2,522.7 547.0,570.5 474.7,618.2 402.5,666.0" fill="url(#fa51)"/>
<polygon points="392.8,666.0 479.4,618.2 566.1,570.5 652.8,522.7 739.5,475.0 826.2,427.2 912.9,379.5 999.6,331.7 1086.3,284.0 1172.9,236.2 1259.6,188.5 1346.3,140.7 1433.0,93.0 1447.1,93.0 1360.2,140.7 1273.2,188.5 1186.2,236.2 1099.2,284.0 1012.2,331.7 925.2,379.5 838.2,427.2 751.2,475.0 664.2,522.7 577.2,570.5 490.2,618.2 403.2,666.0" fill="url(#fa52)"/>
<polygon points="392.0,666.0 500.3,618.2 608.7,570.5 717.0,522.7 825.3,475.0 933.7,427.2 1042.0,379.5 1150.3,331.7 1258.7,284.0 1367.0,236.2 1475.3,188.5 1583.7,140.7 1692.0,93.0 1708.2,93.0 1599.5,140.7 1490.8,188.5 1382.1,236.2 1273.4,284.0 1164.8,331.7 1056.1,379.5 947.4,427.2 838.7,475.0 730.0,522.7 621.4,570.5 512.7,618.2 404.0,666.0" fill="url(#fa53)"/>
</g>
<g mask="url(#dotsM)" opacity="0.42"><rect x="80" y="300" width="580" height="370" fill="url(#dotsA)" filter="url(#blA0)"/></g>
<g filter="url(#blA3)" fill="#3337a0"><polygon points="40.0,576.0 45.0,576.6 50.0,577.1 55.0,577.7 60.0,578.2 65.0,578.8 70.0,579.4 75.0,579.9 80.0,580.5 85.0,581.0 90.0,581.5 95.0,582.1 100.0,582.6 105.0,583.2 110.0,583.8 115.0,584.3 120.0,584.9 125.0,585.4 130.0,586.0 135.0,586.5 140.0,587.0 145.0,587.6 150.0,588.1 155.0,588.7 160.0,589.2 165.0,589.8 170.0,590.4 175.0,590.9 180.0,591.5 185.0,592.0 190.0,592.5 195.0,593.1 200.0,593.6 205.0,594.2 210.0,594.8 215.0,595.3 220.0,595.9 225.0,596.4 230.0,597.0 235.0,597.5 240.0,598.0 245.0,598.6 250.0,599.1 255.0,599.7 260.0,600.2 265.0,601.4 270.0,602.7 275.0,604.1 280.0,605.5 285.0,607.0 290.0,608.5 295.0,610.0 300.0,611.6 305.0,613.2 310.0,614.9 315.0,616.6 320.0,618.4 325.0,620.3 330.0,622.2 335.0,624.3 340.0,626.4 345.0,628.7 350.0,631.1 355.0,633.7 360.0,636.5 365.0,639.6 370.0,643.1 375.0,647.3 380.0,652.8 385.0,666.0 385,700 40,700"/><polygon points="398.0,666.0 403.0,652.8 408.0,647.3 413.0,643.1 418.0,639.6 423.0,636.5 428.0,633.7 433.0,631.1 438.0,628.7 443.0,626.4 448.0,624.3 453.0,622.2 458.0,620.3 463.0,618.4 468.0,616.6 473.0,614.9 478.0,613.2 483.0,611.6 488.0,610.0 493.0,608.5 498.0,607.0 503.0,605.5 508.0,604.1 513.0,602.7 518.0,601.4 523.0,600.0 528.0,598.7 533.0,597.4 538.0,596.2 543.0,595.0 548.0,593.7 553.0,592.5 558.0,591.4 563.0,590.2 568.0,589.1 573.0,588.0 578.0,586.8 583.0,585.8 588.0,584.7 593.0,583.6 598.0,582.6 603.0,581.5 608.0,580.5 613.0,579.5 618.0,578.5 623.0,577.5 628.0,576.5 633.0,575.6 638.0,574.6 643.0,573.7 648.0,572.7 653.0,571.8 658.0,570.9 663.0,570.0 668.0,569.1 673.0,568.2 678.0,567.3 683.0,566.4 688.0,565.5 693.0,564.7 698.0,563.8 700,700 398,700"/></g>
<g filter="url(#blA)">
<polygon points="382.5,666.0 366.6,618.2 350.7,570.5 335.7,522.7 320.9,475.0 306.0,427.2 290.2,379.5 274.4,331.7 257.7,284.0 242.0,236.2 226.5,188.5 210.9,140.7 195.6,93.0 214.6,93.0 229.3,140.7 243.7,188.5 258.1,236.2 272.4,284.0 285.7,331.7 299.8,379.5 314.1,427.2 329.2,475.0 344.4,522.7 359.3,570.5 373.4,618.2 387.5,666.0" fill="url(#fa14)"/>
<polygon points="382.6,666.0 368.3,618.2 354.0,570.5 339.7,522.7 325.4,475.0 311.1,427.2 296.7,379.5 282.4,331.7 268.1,284.0 253.8,236.2 239.5,188.5 225.2,140.7 210.9,93.0 219.0,93.0 233.1,140.7 247.1,188.5 261.1,236.2 275.1,284.0 289.2,331.7 303.2,379.5 317.2,427.2 331.3,475.0 345.3,522.7 359.3,570.5 373.4,618.2 387.4,666.0" fill="url(#fa15)"/>
<polygon points="382.0,666.0 370.0,618.2 358.0,570.5 346.9,522.7 336.0,475.0 325.1,427.2 313.7,379.5 302.2,331.7 290.8,284.0 279.6,236.2 268.3,188.5 257.1,140.7 245.8,93.0 255.8,93.0 267.0,140.7 278.1,188.5 289.2,236.2 300.3,284.0 311.2,331.7 322.2,379.5 333.1,427.2 344.5,475.0 356.0,522.7 367.2,570.5 377.6,618.2 388.0,666.0" fill="url(#fa17)"/>
<polygon points="384.5,666.0 375.2,618.2 365.9,570.5 356.6,522.7 347.3,475.0 338.0,427.2 328.3,379.5 318.6,331.7 308.9,284.0 299.2,236.2 289.5,188.5 279.7,140.7 270.3,93.0 281.3,93.0 290.1,140.7 298.5,188.5 307.0,236.2 315.5,284.0 324.0,331.7 332.5,379.5 341.0,427.2 349.9,475.0 358.8,522.7 367.7,570.5 376.6,618.2 385.5,666.0" fill="url(#fa19)"/>
<polygon points="384.5,666.0 375.6,618.2 366.8,570.5 357.9,522.7 349.0,475.0 340.2,427.2 331.3,379.5 322.5,331.7 313.6,284.0 304.7,236.2 295.9,188.5 287.0,140.7 278.2,93.0 281.8,93.0 290.4,140.7 299.1,188.5 307.7,236.2 316.3,284.0 325.0,331.7 333.6,379.5 342.3,427.2 350.9,475.0 359.6,522.7 368.2,570.5 376.9,618.2 385.5,666.0" fill="url(#fa20)"/>
<polygon points="387.0,666.0 383.7,618.2 380.4,570.5 377.1,522.7 373.7,475.0 370.4,427.2 366.5,379.5 362.6,331.7 358.7,284.0 354.7,236.2 350.7,188.5 346.7,140.7 343.2,93.0 357.2,93.0 359.8,140.7 362.1,188.5 364.3,236.2 366.5,284.0 368.9,331.7 371.2,379.5 373.5,427.2 376.4,475.0 379.3,522.7 382.2,570.5 385.1,618.2 388.0,666.0" fill="url(#fa22)"/>
<polygon points="379.2,610.9 374.0,567.7 369.7,524.6 365.3,481.4 361.0,438.3 356.7,395.1 352.4,351.9 348.1,308.8 343.8,265.6 339.4,222.4 335.1,179.3 330.8,136.1 326.5,93.0 329.5,93.0 333.8,136.1 338.1,179.3 342.3,222.4 346.6,265.6 350.9,308.8 355.1,351.9 359.4,395.1 363.7,438.3 367.9,481.4 372.2,524.6 376.5,567.7 379.8,610.9" fill="url(#fa24)"/>
<polygon points="385.4,610.9 380.8,567.7 377.1,524.6 373.4,481.4 369.6,438.3 365.9,395.1 362.2,351.9 358.5,308.8 354.8,265.6 351.1,222.4 347.4,179.3 343.7,136.1 340.0,93.0 343.0,93.0 346.7,136.1 350.3,179.3 354.0,222.4 357.7,265.6 361.3,308.8 365.0,351.9 368.6,395.1 372.3,438.3 376.0,481.4 379.6,524.6 383.3,567.7 386.0,610.9" fill="url(#fa25)"/>
<polygon points="393.8,666.0 395.5,618.2 397.2,570.5 398.9,522.7 400.6,475.0 402.3,427.2 404.0,379.5 405.7,331.7 407.4,284.0 409.1,236.2 410.8,188.5 412.5,140.7 414.2,93.0 416.4,93.0 414.7,140.7 412.9,188.5 411.2,236.2 409.5,284.0 407.7,331.7 406.0,379.5 404.3,427.2 402.5,475.0 400.8,522.7 399.1,570.5 397.3,618.2 395.6,666.0" fill="url(#fa31)"/>
<polygon points="389.2,666.0 393.5,618.2 397.7,570.5 402.0,522.7 406.2,475.0 410.5,427.2 414.7,379.5 418.9,331.7 423.0,284.0 427.0,236.2 431.0,188.5 434.9,140.7 439.0,93.0 444.5,93.0 440.0,140.7 435.4,188.5 430.7,236.2 426.0,284.0 421.6,331.7 417.1,379.5 412.7,427.2 408.3,475.0 403.9,522.7 399.5,570.5 395.1,618.2 390.8,666.0" fill="url(#fa32)"/>
<polygon points="395.5,666.0 400.9,618.2 409.4,570.5 417.7,522.7 425.9,475.0 434.0,427.2 442.1,379.5 450.1,331.7 458.2,284.0 466.4,236.2 474.6,188.5 482.8,140.7 491.0,93.0 498.5,93.0 490.5,140.7 482.6,188.5 474.7,236.2 466.8,284.0 458.7,331.7 450.7,379.5 442.6,427.2 434.6,475.0 426.6,522.7 418.8,570.5 411.2,618.2 400.5,666.0" fill="url(#fa33)"/>
<polygon points="395.6,666.0 404.3,618.2 413.1,570.5 421.8,522.7 430.6,475.0 439.3,427.2 448.1,379.5 456.8,331.7 465.6,284.0 474.3,236.2 483.0,188.5 491.8,140.7 500.5,93.0 506.6,93.0 497.7,140.7 488.9,188.5 480.0,236.2 471.2,284.0 462.3,331.7 453.5,379.5 444.6,427.2 435.8,475.0 426.9,522.7 418.1,570.5 409.2,618.2 400.4,666.0" fill="url(#fa35)"/>
<polygon points="396.0,666.0 406.7,618.2 417.4,570.5 428.4,522.7 439.5,475.0 450.6,427.2 461.6,379.5 472.5,331.7 483.4,284.0 494.7,236.2 506.1,188.5 517.5,140.7 528.8,93.0 537.6,93.0 526.4,140.7 515.2,188.5 504.1,236.2 492.9,284.0 481.3,331.7 469.7,379.5 458.0,427.2 446.6,475.0 435.2,522.7 423.7,570.5 411.8,618.2 400.0,666.0" fill="url(#fa37)"/>
<polygon points="395.5,666.0 409.9,618.2 424.3,570.5 439.0,522.7 453.7,475.0 468.5,427.2 483.2,379.5 497.8,331.7 512.5,284.0 525.7,236.2 539.0,188.5 552.8,140.7 567.1,93.0 588.1,93.0 572.5,140.7 556.4,188.5 539.7,236.2 523.0,284.0 507.7,331.7 492.5,379.5 477.2,427.2 462.0,475.0 446.8,522.7 431.6,570.5 416.0,618.2 400.5,666.0" fill="url(#fa39)"/>
<polygon points="395.6,666.0 409.7,618.2 423.7,570.5 437.8,522.7 451.9,475.0 466.0,427.2 480.0,379.5 494.1,331.7 508.2,284.0 522.3,236.2 536.3,188.5 550.4,140.7 564.5,93.0 572.6,93.0 558.3,140.7 543.9,188.5 529.6,236.2 515.2,284.0 500.9,331.7 486.5,379.5 472.2,427.2 457.8,475.0 443.5,522.7 429.1,570.5 414.8,618.2 400.4,666.0" fill="url(#fa40)"/>
<polygon points="396.5,666.0 411.7,618.2 426.9,570.5 442.1,522.7 457.3,475.0 472.6,427.2 487.8,379.5 503.0,331.7 518.2,284.0 533.4,236.2 548.6,188.5 563.8,140.7 579.0,93.0 584.1,93.0 568.7,140.7 553.3,188.5 537.9,236.2 522.6,284.0 507.2,331.7 491.8,379.5 476.4,427.2 461.0,475.0 445.6,522.7 430.3,570.5 414.9,618.2 399.5,666.0" fill="url(#fa41)"/>
</g>
<g filter="url(#blA0)">
<polygon points="384.0,666.0 372.9,618.2 361.7,570.5 350.6,522.7 339.5,475.0 328.3,427.2 317.2,379.5 306.0,331.7 294.9,284.0 283.8,236.2 272.6,188.5 261.5,140.7 250.4,93.0 252.4,93.0 263.5,140.7 274.6,188.5 285.8,236.2 296.9,284.0 308.0,331.7 319.2,379.5 330.3,427.2 341.5,475.0 352.6,522.7 363.7,570.5 374.9,618.2 386.0,666.0" fill="url(#fa18)"/>
<polygon points="378.7,572.3 373.4,532.4 368.8,492.4 364.8,452.5 360.9,412.5 357.2,372.6 353.4,332.6 349.7,292.7 345.7,252.8 341.7,212.8 337.7,172.9 333.7,132.9 329.9,93.0 339.4,93.0 343.0,132.9 346.4,172.9 349.8,212.8 353.2,252.8 356.6,292.7 360.3,332.6 363.9,372.6 367.6,412.5 371.1,452.5 374.4,492.4 377.3,532.4 379.3,572.3" fill="url(#fa23)"/>
<polygon points="369.2,500.7 365.7,466.7 362.4,432.7 359.0,398.8 355.6,364.8 352.3,330.8 348.9,296.8 345.5,262.9 342.2,228.9 338.8,194.9 335.4,160.9 332.1,126.9 328.7,93.0 330.1,93.0 333.5,126.9 336.8,160.9 340.1,194.9 343.4,228.9 346.7,262.9 350.1,296.8 353.4,330.8 356.7,364.8 360.0,398.8 363.4,432.7 366.7,466.7 369.8,500.7" fill="url(#fa26)"/>
<polygon points="375.0,500.7 371.9,466.7 369.0,432.7 366.0,398.8 363.0,364.8 360.1,330.8 357.1,296.8 354.2,262.9 351.2,228.9 348.3,194.9 345.3,160.9 342.3,126.9 339.4,93.0 340.8,93.0 343.7,126.9 346.6,160.9 349.6,194.9 352.5,228.9 355.4,262.9 358.3,296.8 361.2,330.8 364.1,364.8 367.0,398.8 369.9,432.7 372.9,466.7 375.6,500.7" fill="url(#fa27)"/>
<polygon points="374.8,362.9 372.9,340.5 371.9,318.0 370.9,295.5 370.0,273.0 369.0,250.5 368.0,228.0 367.0,205.5 366.0,183.0 365.0,160.5 364.0,138.0 363.0,115.5 362.0,93.0 365.1,93.0 366.0,115.5 366.9,138.0 367.9,160.5 368.8,183.0 369.7,205.5 370.7,228.0 371.6,250.5 372.5,273.0 373.5,295.5 374.4,318.0 375.3,340.5 375.4,362.9" fill="url(#fa28)"/>
<polygon points="386.2,533.8 385.0,497.0 384.0,460.3 383.0,423.6 382.2,386.8 381.5,350.1 380.8,313.4 380.0,276.6 379.1,239.9 378.1,203.2 377.2,166.4 376.2,129.7 375.4,93.0 381.2,93.0 381.8,129.7 382.2,166.4 382.6,203.2 383.0,239.9 383.4,276.6 384.0,313.4 384.7,350.1 385.3,386.8 386.0,423.6 386.4,460.3 386.7,497.0 386.8,533.8" fill="url(#fa29)"/>
<polygon points="389.8,666.0 391.0,618.2 392.3,570.5 393.3,522.7 394.3,475.0 395.3,427.2 396.2,379.5 397.1,331.7 397.9,284.0 398.6,236.2 399.2,188.5 399.9,140.7 400.8,93.0 414.4,93.0 412.7,140.7 410.6,188.5 408.6,236.2 406.6,284.0 404.8,331.7 402.9,379.5 401.1,427.2 399.4,475.0 397.7,522.7 396.1,570.5 394.7,618.2 393.2,666.0" fill="url(#fa30)"/>
<polygon points="396.9,666.0 404.8,618.2 412.8,570.5 420.7,522.7 428.6,475.0 436.5,427.2 444.5,379.5 452.4,331.7 460.3,284.0 468.3,236.2 476.2,188.5 484.1,140.7 492.1,93.0 494.3,93.0 486.3,140.7 478.4,188.5 470.5,236.2 462.5,284.0 454.6,331.7 446.7,379.5 438.8,427.2 430.8,475.0 422.9,522.7 415.0,570.5 407.0,618.2 399.1,666.0" fill="url(#fa34)"/>
<polygon points="389.5,612 393.5,610 396.5,630 398,667 386,667 386.5,640 388,628" fill="#fff"/>
</g>
<rect x="81.8" y="656" width="572.5" height="10" fill="url(#botA)" opacity="0.8"/>
</g>
<rect x="81.8" y="114.2" width="572.5" height="552.0999999999999" fill="none" stroke="#000" stroke-width="3.6"/>
<line x1="73.3" y1="666.2" x2="81.8" y2="666.2" stroke="#000" stroke-width="3.2"/>
<line x1="74.8" y1="626.7700000000001" x2="81.8" y2="626.7700000000001" stroke="#000" stroke-width="3.2"/>
<line x1="74.8" y1="587.34" x2="81.8" y2="587.34" stroke="#000" stroke-width="3.2"/>
<line x1="74.8" y1="547.9100000000001" x2="81.8" y2="547.9100000000001" stroke="#000" stroke-width="3.2"/>
<line x1="74.8" y1="508.48" x2="81.8" y2="508.48" stroke="#000" stroke-width="3.2"/>
<line x1="73.3" y1="469.05000000000007" x2="81.8" y2="469.05000000000007" stroke="#000" stroke-width="3.2"/>
<line x1="74.8" y1="429.62000000000006" x2="81.8" y2="429.62000000000006" stroke="#000" stroke-width="3.2"/>
<line x1="74.8" y1="390.19000000000005" x2="81.8" y2="390.19000000000005" stroke="#000" stroke-width="3.2"/>
<line x1="74.8" y1="350.76000000000005" x2="81.8" y2="350.76000000000005" stroke="#000" stroke-width="3.2"/>
<line x1="74.8" y1="311.33000000000004" x2="81.8" y2="311.33000000000004" stroke="#000" stroke-width="3.2"/>
<line x1="73.3" y1="271.90000000000003" x2="81.8" y2="271.90000000000003" stroke="#000" stroke-width="3.2"/>
<line x1="74.8" y1="232.47000000000003" x2="81.8" y2="232.47000000000003" stroke="#000" stroke-width="3.2"/>
<line x1="74.8" y1="193.04000000000008" x2="81.8" y2="193.04000000000008" stroke="#000" stroke-width="3.2"/>
<line x1="74.8" y1="153.61" x2="81.8" y2="153.61" stroke="#000" stroke-width="3.2"/>
<line x1="73.3" y1="114.18000000000006" x2="81.8" y2="114.18000000000006" stroke="#000" stroke-width="3.2"/>
<line x1="142.54999999999998" y1="666.3" x2="142.54999999999998" y2="675.8" stroke="#000" stroke-width="3.2"/>
<text x="142.54999999999998" y="712.8" font-size="37.5" text-anchor="middle" fill="#111" stroke="#111" stroke-width="0.45">3</text>
<text x="132.04999999999998" y="712.8" font-size="37.5" text-anchor="end" fill="#111" stroke="#111" stroke-width="0.45">-</text>
<line x1="217.7" y1="666.3" x2="217.7" y2="675.8" stroke="#000" stroke-width="3.2"/>
<text x="217.7" y="712.8" font-size="37.5" text-anchor="middle" fill="#111" stroke="#111" stroke-width="0.45">2</text>
<text x="207.2" y="712.8" font-size="37.5" text-anchor="end" fill="#111" stroke="#111" stroke-width="0.45">-</text>
<line x1="292.85" y1="666.3" x2="292.85" y2="675.8" stroke="#000" stroke-width="3.2"/>
<text x="292.85" y="712.8" font-size="37.5" text-anchor="middle" fill="#111" stroke="#111" stroke-width="0.45">1</text>
<text x="282.35" y="712.8" font-size="37.5" text-anchor="end" fill="#111" stroke="#111" stroke-width="0.45">-</text>
<line x1="368.0" y1="666.3" x2="368.0" y2="675.8" stroke="#000" stroke-width="3.2"/>
<text x="368.0" y="712.8" font-size="37.5" text-anchor="middle" fill="#111" stroke="#111" stroke-width="0.45">0</text>
<line x1="443.15" y1="666.3" x2="443.15" y2="675.8" stroke="#000" stroke-width="3.2"/>
<text x="443.15" y="712.8" font-size="37.5" text-anchor="middle" fill="#111" stroke="#111" stroke-width="0.45">1</text>
<line x1="518.3" y1="666.3" x2="518.3" y2="675.8" stroke="#000" stroke-width="3.2"/>
<text x="518.3" y="712.8" font-size="37.5" text-anchor="middle" fill="#111" stroke="#111" stroke-width="0.45">2</text>
<line x1="593.45" y1="666.3" x2="593.45" y2="675.8" stroke="#000" stroke-width="3.2"/>
<text x="593.45" y="712.8" font-size="37.5" text-anchor="middle" fill="#111" stroke="#111" stroke-width="0.45">3</text>
<text x="68.0" y="128.0" font-size="37.5" text-anchor="end" textLength="41.5" lengthAdjust="spacingAndGlyphs" fill="#111" stroke="#111" stroke-width="0.45">14</text>
<text x="71.5" y="286.5" font-size="37.5" text-anchor="end" textLength="43" lengthAdjust="spacingAndGlyphs" fill="#111" stroke="#111" stroke-width="0.45">10</text>
<text x="71.5" y="483.0" font-size="37.5" text-anchor="end" fill="#111" stroke="#111" stroke-width="0.45">5</text>
<text x="68.0" y="681.0" font-size="38.5" text-anchor="end" fill="#111" stroke="#111" stroke-width="0.46">0</text>
<text transform="translate(49.8,421) rotate(-90)" font-size="37" textLength="70" lengthAdjust="spacingAndGlyphs" fill="#111">B(T)</text>
<text x="27.8" y="65.5" font-size="36.5" textLength="41.5" lengthAdjust="spacingAndGlyphs" fill="#111" stroke="#111" stroke-width="0.44">(a)</text>
<rect x="438.3" y="89.3" width="215.3" height="13.4" fill="url(#cbar)" stroke="#000" stroke-width="3.2"/>
<line x1="438.3" y1="76.5" x2="438.3" y2="89.3" stroke="#000" stroke-width="2.8"/>
<text x="438.3" y="70.9" font-size="37" text-anchor="middle" fill="#111" stroke="#111" stroke-width="0.44">0</text>
<line x1="481.35" y1="76.5" x2="481.35" y2="89.3" stroke="#000" stroke-width="2.8"/>
<text x="481.35" y="70.9" font-size="37" text-anchor="middle" fill="#111" stroke="#111" stroke-width="0.44">1</text>
<line x1="524.4" y1="76.5" x2="524.4" y2="89.3" stroke="#000" stroke-width="2.8"/>
<text x="524.4" y="70.9" font-size="37" text-anchor="middle" fill="#111" stroke="#111" stroke-width="0.44">2</text>
<line x1="567.45" y1="76.5" x2="567.45" y2="89.3" stroke="#000" stroke-width="2.8"/>
<text x="567.45" y="70.9" font-size="37" text-anchor="middle" fill="#111" stroke="#111" stroke-width="0.44">3</text>
<line x1="610.5" y1="76.5" x2="610.5" y2="89.3" stroke="#000" stroke-width="2.8"/>
<text x="610.5" y="70.9" font-size="37" text-anchor="middle" fill="#111" stroke="#111" stroke-width="0.44">4</text>
<line x1="653.55" y1="76.5" x2="653.55" y2="89.3" stroke="#000" stroke-width="2.8"/>
<text x="654.55" y="70.9" font-size="37" text-anchor="middle" fill="#111" stroke="#111" stroke-width="0.44">5</text>
<text x="324.5" y="89.9" font-size="33" textLength="18" lengthAdjust="spacingAndGlyphs" fill="#111" stroke="#111" stroke-width="0.40">R</text>
<text x="342.7" y="95.5" font-size="15.5" textLength="16.5" lengthAdjust="spacingAndGlyphs" fill="#111" stroke="#111" stroke-width="0.25">xx</text>
<text x="365.5" y="89.9" font-size="33" textLength="55" lengthAdjust="spacingAndGlyphs" fill="#111" stroke="#111" stroke-width="0.40">(kΩ)</text>
<text x="336.8" y="750.7" font-size="35" textLength="17" lengthAdjust="spacingAndGlyphs" fill="#111" stroke="#111" stroke-width="0.42">V</text>
<text x="351.5" y="760.3" font-size="21" textLength="31" lengthAdjust="spacingAndGlyphs" fill="#111" stroke="#111" stroke-width="0.25">BG</text>
<text x="387" y="750.7" font-size="35" textLength="39" lengthAdjust="spacingAndGlyphs" fill="#111" stroke="#111" stroke-width="0.42">(V)</text>
<defs><clipPath id="clipB"><rect x="745.8" y="114.6" width="553.8" height="550.4"/></clipPath></defs>
<g clip-path="url(#clipB)" fill="none" stroke-width="2.0" stroke-linejoin="round" stroke-linecap="round">
<path d="M747.5,117.0 L748.8,128.5 L750.0,140.4 L751.2,152.7 L752.5,165.4 L753.8,178.4 L755.0,192.2 L756.2,206.2 L757.5,220.7 L758.8,236.2 L760.0,251.9 L761.2,268.1 L762.5,284.9 L763.8,301.5 L765.0,317.5 L766.2,333.1 L767.5,348.6 L768.8,363.7 L770.0,378.1 L771.2,392.2 L772.5,407.0 L773.8,422.3 L775.0,437.7 L776.2,454.1 L777.5,470.9 L778.8,486.7 L780.0,499.9 L781.2,511.0 L782.5,521.0 L783.8,530.5 L785.0,539.4 L786.2,547.7 L787.5,555.0 L788.8,561.7 L790.0,567.8 L791.2,573.5 L792.5,578.8 L793.8,583.3 L795.0,587.0 L796.2,590.8 L797.5,593.9 L798.8,596.3 L800.0,598.2 L801.2,598.8 L802.5,598.4 L803.8,597.0 L805.0,595.1 L806.2,593.0 L807.5,590.8 L808.8,588.3 L810.0,584.7 L811.2,580.2 L812.5,575.1 L813.8,569.1 L815.0,563.0 L816.2,556.7 L817.5,549.3 L818.8,541.1 L820.0,532.2 L821.2,522.5 L822.5,512.3 L823.8,502.1 L825.0,492.5 L826.2,482.3 L827.5,471.7 L828.8,460.9 L830.0,450.1 L831.2,439.2 L832.5,428.6 L833.8,418.0 L835.0,407.7 L836.2,397.0 L837.5,385.8 L838.8,374.9 L840.0,364.2 L841.2,353.7 L842.5,343.5 L843.8,334.0 L845.0,325.8 L846.2,318.7 L847.5,311.8 L848.8,305.5 L850.0,299.9 L851.2,294.9 L852.5,291.0 L853.8,288.5 L855.0,286.2 L856.2,284.2 L857.5,283.0 L858.8,282.8 L860.0,284.1 L861.2,286.9 L862.5,290.6 L863.8,295.1 L865.0,300.0 L866.2,306.9 L867.5,315.6 L868.8,325.1 L870.0,334.6 L871.2,345.2 L872.5,357.1 L873.8,369.7 L875.0,381.9 L876.2,393.3 L877.5,403.7 L878.8,414.8 L880.0,426.2 L881.2,437.0 L882.5,446.1 L883.8,453.0 L885.0,456.8 L886.2,456.6 L887.5,452.3 L888.8,445.0 L890.0,435.7 L891.2,425.2 L892.5,414.1 L893.8,402.8 L895.0,388.5 L896.2,372.4 L897.5,356.4 L898.8,342.5 L900.0,330.3 L901.2,318.6 L902.5,308.3 L903.8,301.0 L905.0,296.5 L906.2,292.7 L907.5,291.3 L908.8,292.3 L910.0,294.3 L911.2,296.7 L912.5,299.2 L913.8,302.5 L915.0,305.8 L916.2,308.7 L917.5,310.9 L918.8,313.1 L920.0,314.9 L921.2,316.2 L922.5,316.8 L923.8,316.3 L925.0,314.5 L926.2,311.6 L927.5,308.2 L928.8,305.2 L930.0,302.2 L931.2,298.7 L932.5,295.2 L933.8,292.0 L935.0,289.7 L936.2,287.8 L937.5,286.1 L938.8,284.4 L940.0,281.9 L941.2,279.5 L942.5,276.3 L943.8,273.5 L945.0,271.5 L946.2,267.0 L947.5,262.7 L948.8,262.8 L950.0,261.3 L951.2,261.0 L952.5,259.2 L953.8,257.7 L955.0,256.4 L956.2,255.1 L957.5,253.2 L958.8,249.4 L960.0,248.6 L961.2,250.3 L962.5,249.1 L963.8,247.9 L965.0,248.0 L966.2,247.8 L967.5,246.9 L968.8,245.1 L970.0,243.8 L971.2,242.6 L972.5,239.9 L973.8,239.2 L975.0,238.7 L976.2,239.6 L977.5,240.4 L978.8,240.7 L980.0,239.6 L981.2,239.7 L982.5,239.5 L983.8,239.5 L985.0,236.6 L986.2,233.4 L987.5,232.6 L988.8,232.6 L990.0,229.9 L991.2,228.3 L992.5,227.3 L993.8,227.3 L995.0,227.7 L996.2,228.5 L997.5,227.8 L998.8,226.3 L1000.0,225.5 L1001.2,223.0 L1002.5,220.3 L1003.8,216.2 L1005.0,214.8 L1006.2,214.2 L1007.5,213.2 L1008.8,210.3 L1010.0,211.6 L1011.2,211.5 L1012.5,212.2 L1013.8,212.7 L1015.0,214.1 L1016.2,212.6 L1017.5,213.5 L1018.8,213.5 L1020.0,215.5 L1021.2,216.8 L1022.5,215.3 L1023.8,212.9 L1025.0,211.0 L1026.2,211.6 L1027.5,212.3 L1028.8,211.8 L1030.0,211.5 L1031.2,213.3 L1032.5,214.5 L1033.8,214.1 L1035.0,212.0 L1036.2,211.4 L1037.5,209.7 L1038.8,211.1 L1040.0,212.6 L1041.2,212.0 L1042.5,210.7 L1043.8,211.0 L1045.0,210.8 L1046.2,209.6 L1047.5,209.1 L1048.8,209.9 L1050.0,210.4 L1051.2,207.9 L1052.5,202.7 L1053.8,202.7 L1055.0,203.5 L1056.2,200.1 L1057.5,198.4 L1058.8,197.5 L1060.0,198.1 L1061.2,199.4 L1062.5,199.0 L1063.8,197.6 L1065.0,197.2 L1066.2,195.4 L1067.5,194.6 L1068.8,191.3 L1070.0,189.1 L1071.2,188.8 L1072.5,191.3 L1073.8,190.5 L1075.0,186.0 L1076.2,184.1 L1077.5,184.4 L1078.8,183.7 L1080.0,181.5 L1081.2,180.5 L1082.5,179.2 L1083.8,175.9 L1085.0,175.1 L1086.2,174.4 L1087.5,171.7 L1088.8,170.4 L1090.0,170.6 L1091.2,168.7 L1092.5,168.5 L1093.8,164.9 L1095.0,163.4 L1096.2,162.3 L1097.5,161.9 L1098.8,159.1 L1100.0,156.7 L1101.2,154.1 L1102.5,154.1 L1103.8,152.9 L1105.0,154.1 L1106.2,153.3 L1107.5,156.1 L1108.8,159.7 L1110.0,164.1 L1111.2,170.2 L1112.5,175.8 L1113.8,177.5 L1115.0,182.0 L1116.2,188.0 L1117.5,192.2 L1118.8,197.3 L1120.0,203.8 L1121.2,206.6 L1122.5,208.0 L1123.8,207.6 L1125.0,204.0 L1126.2,200.9 L1127.5,198.2 L1128.8,194.6 L1130.0,192.6 L1131.2,192.1 L1132.5,189.6 L1133.8,186.1 L1135.0,183.8 L1136.2,182.2 L1137.5,180.6 L1138.8,179.4 L1140.0,177.0 L1141.2,178.2 L1142.5,184.2 L1143.8,190.7 L1145.0,192.8 L1146.2,198.3 L1147.5,208.4 L1148.8,220.8 L1150.0,234.1 L1151.2,248.9 L1152.5,260.9 L1153.8,269.9 L1155.0,278.6 L1156.2,288.3 L1157.5,299.1 L1158.8,307.8 L1160.0,310.8 L1161.2,312.4 L1162.5,312.8 L1163.8,308.6 L1165.0,302.6 L1166.2,294.7 L1167.5,284.7 L1168.8,274.6 L1170.0,266.0 L1171.2,259.9 L1172.5,254.5 L1173.8,246.7 L1175.0,240.5 L1176.2,237.2 L1177.5,230.0 L1178.8,223.0 L1180.0,216.9 L1181.2,211.2 L1182.5,208.1 L1183.8,202.6 L1185.0,194.8 L1186.2,189.1 L1187.5,183.4 L1188.8,177.7 L1190.0,171.8 L1191.2,163.6 L1192.5,157.8 L1193.8,154.4 L1195.0,151.1 L1196.2,150.1 L1197.5,150.3 L1198.8,151.1 L1200.0,152.5 L1201.2,154.3 L1202.5,157.4 L1203.8,161.7 L1205.0,167.1 L1206.2,173.4 L1207.5,179.7 L1208.8,187.2 L1210.0,194.9 L1211.2,201.8 L1212.5,210.8 L1213.8,221.1 L1215.0,232.7 L1216.2,245.1 L1217.5,258.4 L1218.8,272.3 L1220.0,287.4 L1221.2,304.7 L1222.5,323.3 L1223.8,341.4 L1225.0,358.5 L1226.2,375.4 L1227.5,392.1 L1228.8,408.7 L1230.0,425.1 L1231.2,441.6 L1232.5,458.3 L1233.8,474.5 L1235.0,489.4 L1236.2,502.8 L1237.5,515.0 L1238.8,526.3 L1240.0,537.0 L1241.2,547.3 L1242.5,556.7 L1243.8,565.3 L1245.0,573.6 L1246.2,581.1 L1247.5,586.7 L1248.8,590.2 L1250.0,593.3 L1251.2,595.6 L1252.5,596.6 L1253.8,596.0 L1255.0,593.9 L1256.2,591.2 L1257.5,587.8 L1258.8,583.7 L1260.0,577.4 L1261.2,569.1 L1262.5,559.7 L1263.8,550.0 L1265.0,540.4 L1266.2,530.1 L1267.5,519.0 L1268.8,507.2 L1270.0,495.1 L1271.2,482.3 L1272.5,469.0 L1273.8,455.2 L1275.0,440.4 L1276.2,424.3 L1277.5,407.2 L1278.8,388.1 L1280.0,364.8 L1281.2,340.0 L1282.5,315.5 L1283.8,293.6 L1285.0,274.9 L1286.2,257.4 L1287.5,244.9 L1288.8,236.3 L1290.0,229.6 L1291.2,226.9 L1292.5,226.3 L1293.8,225.5 L1295.0,225.0 L1296.2,224.6 L1297.5,224.5 L1298.8,224.3" stroke="#789c84"/>
<path d="M747.5,149.9 L748.8,160.5 L750.0,171.4 L751.2,182.8 L752.5,194.8 L753.8,207.0 L755.0,219.4 L756.2,232.2 L757.5,245.3 L758.8,259.4 L760.0,274.1 L761.2,287.9 L762.5,300.5 L763.8,312.8 L765.0,325.3 L766.2,337.8 L767.5,350.4 L768.8,362.9 L770.0,375.5 L771.2,388.2 L772.5,400.8 L773.8,412.8 L775.0,424.7 L776.2,436.8 L777.5,448.5 L778.8,459.8 L780.0,470.1 L781.2,479.6 L782.5,488.8 L783.8,497.1 L785.0,505.3 L786.2,513.0 L787.5,519.7 L788.8,526.1 L790.0,532.4 L791.2,538.0 L792.5,543.1 L793.8,547.3 L795.0,551.5 L796.2,555.4 L797.5,559.2 L798.8,562.0 L800.0,563.8 L801.2,564.4 L802.5,564.0 L803.8,562.6 L805.0,561.0 L806.2,559.2 L807.5,557.0 L808.8,554.6 L810.0,550.9 L811.2,546.2 L812.5,541.0 L813.8,535.2 L815.0,528.9 L816.2,522.6 L817.5,515.3 L818.8,506.6 L820.0,497.2 L821.2,487.3 L822.5,477.1 L823.8,467.0 L825.0,457.2 L826.2,447.2 L827.5,437.2 L828.8,426.8 L830.0,416.4 L831.2,406.3 L832.5,396.5 L833.8,386.9 L835.0,377.9 L836.2,368.8 L837.5,359.5 L838.8,350.3 L840.0,341.3 L841.2,332.9 L842.5,324.8 L843.8,317.1 L845.0,309.8 L846.2,303.4 L847.5,297.6 L848.8,292.0 L850.0,286.5 L851.2,282.0 L852.5,278.7 L853.8,276.6 L855.0,274.4 L856.2,272.4 L857.5,271.1 L858.8,270.9 L860.0,271.8 L861.2,273.9 L862.5,277.0 L863.8,280.4 L865.0,284.1 L866.2,289.3 L867.5,295.6 L868.8,302.7 L870.0,310.0 L871.2,318.4 L872.5,328.3 L873.8,339.0 L875.0,349.7 L876.2,359.6 L877.5,368.2 L878.8,377.6 L880.0,387.1 L881.2,396.4 L882.5,404.4 L883.8,410.0 L885.0,412.9 L886.2,412.8 L887.5,409.6 L888.8,403.8 L890.0,396.2 L891.2,387.1 L892.5,378.3 L893.8,369.2 L895.0,357.4 L896.2,343.9 L897.5,330.8 L898.8,319.8 L900.0,311.2 L901.2,302.8 L902.5,295.9 L903.8,291.1 L905.0,287.8 L906.2,285.1 L907.5,284.0 L908.8,284.7 L910.0,285.8 L911.2,287.0 L912.5,288.5 L913.8,290.0 L915.0,291.2 L916.2,292.6 L917.5,293.5 L918.8,294.1 L920.0,294.7 L921.2,295.3 L922.5,295.6 L923.8,295.8 L925.0,295.3 L926.2,294.1 L927.5,292.2 L928.8,290.4 L930.0,288.7 L931.2,286.6 L932.5,284.6 L933.8,282.8 L935.0,281.5 L936.2,280.2 L937.5,278.7 L938.8,276.5 L940.0,275.2 L941.2,273.9 L942.5,272.7 L943.8,271.5 L945.0,269.0 L946.2,267.3 L947.5,267.2 L948.8,267.0 L950.0,264.2 L951.2,262.6 L952.5,260.8 L953.8,259.5 L955.0,258.1 L956.2,257.0 L957.5,256.3 L958.8,255.4 L960.0,253.2 L961.2,251.6 L962.5,252.4 L963.8,253.4 L965.0,251.7 L966.2,252.4 L967.5,252.5 L968.8,251.5 L970.0,249.7 L971.2,249.4 L972.5,248.5 L973.8,249.6 L975.0,248.6 L976.2,247.3 L977.5,246.9 L978.8,248.5 L980.0,247.6 L981.2,245.4 L982.5,244.4 L983.8,245.3 L985.0,245.9 L986.2,244.7 L987.5,243.2 L988.8,241.8 L990.0,241.2 L991.2,240.7 L992.5,239.6 L993.8,235.9 L995.0,233.5 L996.2,235.0 L997.5,234.1 L998.8,232.2 L1000.0,231.4 L1001.2,228.6 L1002.5,227.6 L1003.8,229.4 L1005.0,227.7 L1006.2,225.4 L1007.5,224.1 L1008.8,223.7 L1010.0,224.8 L1011.2,224.4 L1012.5,223.4 L1013.8,223.9 L1015.0,224.1 L1016.2,223.9 L1017.5,224.5 L1018.8,222.8 L1020.0,219.7 L1021.2,218.2 L1022.5,218.8 L1023.8,219.7 L1025.0,219.8 L1026.2,217.9 L1027.5,218.5 L1028.8,218.8 L1030.0,218.5 L1031.2,218.1 L1032.5,216.8 L1033.8,215.9 L1035.0,216.5 L1036.2,214.3 L1037.5,215.5 L1038.8,216.1 L1040.0,215.3 L1041.2,215.0 L1042.5,214.5 L1043.8,213.2 L1045.0,211.6 L1046.2,210.7 L1047.5,209.1 L1048.8,207.0 L1050.0,206.3 L1051.2,206.0 L1052.5,206.4 L1053.8,206.3 L1055.0,205.3 L1056.2,205.0 L1057.5,205.3 L1058.8,204.4 L1060.0,204.1 L1061.2,203.0 L1062.5,203.3 L1063.8,202.6 L1065.0,202.7 L1066.2,201.4 L1067.5,201.3 L1068.8,200.2 L1070.0,201.9 L1071.2,200.1 L1072.5,199.0 L1073.8,198.9 L1075.0,198.8 L1076.2,198.4 L1077.5,197.3 L1078.8,193.2 L1080.0,192.1 L1081.2,191.9 L1082.5,191.4 L1083.8,192.0 L1085.0,192.4 L1086.2,190.9 L1087.5,189.0 L1088.8,187.4 L1090.0,187.9 L1091.2,186.0 L1092.5,182.9 L1093.8,180.9 L1095.0,180.5 L1096.2,180.3 L1097.5,181.5 L1098.8,180.7 L1100.0,178.6 L1101.2,176.6 L1102.5,176.3 L1103.8,176.5 L1105.0,176.4 L1106.2,173.9 L1107.5,172.3 L1108.8,173.8 L1110.0,177.6 L1111.2,181.3 L1112.5,184.4 L1113.8,186.8 L1115.0,191.5 L1116.2,195.8 L1117.5,199.7 L1118.8,201.0 L1120.0,202.0 L1121.2,204.1 L1122.5,207.1 L1123.8,207.1 L1125.0,206.5 L1126.2,203.3 L1127.5,200.7 L1128.8,199.2 L1130.0,198.7 L1131.2,196.4 L1132.5,193.9 L1133.8,194.0 L1135.0,193.4 L1136.2,191.6 L1137.5,190.9 L1138.8,189.6 L1140.0,190.2 L1141.2,191.8 L1142.5,195.3 L1143.8,199.0 L1145.0,202.7 L1146.2,205.0 L1147.5,211.9 L1148.8,220.0 L1150.0,229.9 L1151.2,238.9 L1152.5,245.5 L1153.8,251.4 L1155.0,258.5 L1156.2,265.8 L1157.5,274.6 L1158.8,281.5 L1160.0,285.4 L1161.2,288.3 L1162.5,287.5 L1163.8,284.2 L1165.0,279.0 L1166.2,273.3 L1167.5,266.7 L1168.8,259.0 L1170.0,255.1 L1171.2,251.6 L1172.5,246.7 L1173.8,241.5 L1175.0,235.9 L1176.2,230.5 L1177.5,227.6 L1178.8,221.8 L1180.0,216.6 L1181.2,211.1 L1182.5,207.0 L1183.8,202.8 L1185.0,198.0 L1186.2,195.0 L1187.5,194.0 L1188.8,190.7 L1190.0,186.1 L1191.2,182.7 L1192.5,180.7 L1193.8,180.8 L1195.0,177.8 L1196.2,175.9 L1197.5,175.8 L1198.8,177.4 L1200.0,179.1 L1201.2,181.6 L1202.5,183.8 L1203.8,187.4 L1205.0,192.1 L1206.2,197.6 L1207.5,202.4 L1208.8,208.6 L1210.0,215.9 L1211.2,223.5 L1212.5,231.7 L1213.8,240.6 L1215.0,250.2 L1216.2,260.6 L1217.5,271.5 L1218.8,282.7 L1220.0,294.1 L1221.2,306.7 L1222.5,319.6 L1223.8,332.4 L1225.0,344.9 L1226.2,356.9 L1227.5,369.1 L1228.8,381.7 L1230.0,394.7 L1231.2,408.6 L1232.5,423.5 L1233.8,438.7 L1235.0,453.6 L1236.2,467.9 L1237.5,482.2 L1238.8,496.9 L1240.0,510.7 L1241.2,523.9 L1242.5,535.9 L1243.8,546.6 L1245.0,556.8 L1246.2,566.1 L1247.5,573.3 L1248.8,578.1 L1250.0,582.2 L1251.2,585.4 L1252.5,586.7 L1253.8,585.5 L1255.0,582.9 L1256.2,579.0 L1257.5,574.6 L1258.8,569.6 L1260.0,563.0 L1261.2,555.0 L1262.5,546.1 L1263.8,536.7 L1265.0,527.4 L1266.2,516.9 L1267.5,505.4 L1268.8,493.2 L1270.0,480.8 L1271.2,467.8 L1272.5,453.5 L1273.8,438.7 L1275.0,423.6 L1276.2,408.0 L1277.5,391.8 L1278.8,374.7 L1280.0,355.5 L1281.2,335.9 L1282.5,317.8 L1283.8,303.0 L1285.0,291.8 L1286.2,282.6 L1287.5,275.1 L1288.8,268.4 L1290.0,263.0 L1291.2,259.4 L1292.5,256.2 L1293.8,253.5 L1295.0,251.2 L1296.2,249.4 L1297.5,248.5 L1298.8,248.1" stroke="#f0a820"/>
<path d="M747.5,195.2 L748.8,205.4 L750.0,215.4 L751.2,225.3 L752.5,235.2 L753.8,244.9 L755.0,254.4 L756.2,263.9 L757.5,273.7 L758.8,283.1 L760.0,292.6 L761.2,302.1 L762.5,311.2 L763.8,320.2 L765.0,329.9 L766.2,340.1 L767.5,350.6 L768.8,361.5 L770.0,372.9 L771.2,384.6 L772.5,396.6 L773.8,408.1 L775.0,419.0 L776.2,430.0 L777.5,440.7 L778.8,450.7 L780.0,460.4 L781.2,469.5 L782.5,478.1 L783.8,486.5 L785.0,494.2 L786.2,501.1 L787.5,507.4 L788.8,513.1 L790.0,518.2 L791.2,522.9 L792.5,526.7 L793.8,530.7 L795.0,534.8 L796.2,538.9 L797.5,542.5 L798.8,545.7 L800.0,547.8 L801.2,548.5 L802.5,547.8 L803.8,546.3 L805.0,544.1 L806.2,541.7 L807.5,539.2 L808.8,536.3 L810.0,532.6 L811.2,528.0 L812.5,522.5 L813.8,516.6 L815.0,510.3 L816.2,503.6 L817.5,495.4 L818.8,485.5 L820.0,474.4 L821.2,463.2 L822.5,452.2 L823.8,441.9 L825.0,432.4 L826.2,423.0 L827.5,413.8 L828.8,404.9 L830.0,396.0 L831.2,387.5 L832.5,378.9 L833.8,370.9 L835.0,363.4 L836.2,356.0 L837.5,348.6 L838.8,341.4 L840.0,334.1 L841.2,326.9 L842.5,320.5 L843.8,314.8 L845.0,309.2 L846.2,304.0 L847.5,299.3 L848.8,294.6 L850.0,290.2 L851.2,286.7 L852.5,283.7 L853.8,281.6 L855.0,279.5 L856.2,277.6 L857.5,276.4 L858.8,276.0 L860.0,276.6 L861.2,278.6 L862.5,281.2 L863.8,283.7 L865.0,286.5 L866.2,290.4 L867.5,295.0 L868.8,300.1 L870.0,304.9 L871.2,309.7 L872.5,314.9 L873.8,319.7 L875.0,324.8 L876.2,329.6 L877.5,333.7 L878.8,337.6 L880.0,341.8 L881.2,345.8 L882.5,349.1 L883.8,351.4 L885.0,352.6 L886.2,352.6 L887.5,350.6 L888.8,347.3 L890.0,343.2 L891.2,338.8 L892.5,333.9 L893.8,328.9 L895.0,322.1 L896.2,314.5 L897.5,307.3 L898.8,301.2 L900.0,296.4 L901.2,292.2 L902.5,288.6 L903.8,285.8 L905.0,283.7 L906.2,281.9 L907.5,281.2 L908.8,280.8 L910.0,280.4 L911.2,280.3 L912.5,280.0 L913.8,279.7 L915.0,279.5 L916.2,279.3 L917.5,279.0 L918.8,278.9 L920.0,278.5 L921.2,278.2 L922.5,278.1 L923.8,278.1 L925.0,277.7 L926.2,277.1 L927.5,276.7 L928.8,276.4 L930.0,276.0 L931.2,275.4 L932.5,274.6 L933.8,274.2 L935.0,273.8 L936.2,273.8 L937.5,273.5 L938.8,273.2 L940.0,272.2 L941.2,272.6 L942.5,272.0 L943.8,269.7 L945.0,266.4 L946.2,266.8 L947.5,265.8 L948.8,265.4 L950.0,266.0 L951.2,266.2 L952.5,265.7 L953.8,265.2 L955.0,265.1 L956.2,264.6 L957.5,263.5 L958.8,261.3 L960.0,261.1 L961.2,261.7 L962.5,260.2 L963.8,258.7 L965.0,259.4 L966.2,258.7 L967.5,257.9 L968.8,258.1 L970.0,256.7 L971.2,254.9 L972.5,252.8 L973.8,254.2 L975.0,254.9 L976.2,254.1 L977.5,253.6 L978.8,252.7 L980.0,251.4 L981.2,253.5 L982.5,252.7 L983.8,251.7 L985.0,250.8 L986.2,251.6 L987.5,251.4 L988.8,250.8 L990.0,250.4 L991.2,251.4 L992.5,250.9 L993.8,251.0 L995.0,250.5 L996.2,250.4 L997.5,249.7 L998.8,248.8 L1000.0,248.5 L1001.2,248.0 L1002.5,247.4 L1003.8,247.0 L1005.0,246.2 L1006.2,245.2 L1007.5,244.9 L1008.8,244.4 L1010.0,243.3 L1011.2,241.6 L1012.5,242.4 L1013.8,243.2 L1015.0,243.7 L1016.2,243.0 L1017.5,243.1 L1018.8,243.4 L1020.0,243.4 L1021.2,242.2 L1022.5,240.9 L1023.8,240.5 L1025.0,242.8 L1026.2,242.8 L1027.5,240.2 L1028.8,236.6 L1030.0,237.2 L1031.2,240.2 L1032.5,238.0 L1033.8,234.8 L1035.0,234.8 L1036.2,235.7 L1037.5,236.5 L1038.8,234.7 L1040.0,232.8 L1041.2,232.7 L1042.5,232.9 L1043.8,232.7 L1045.0,233.2 L1046.2,232.6 L1047.5,233.9 L1048.8,233.8 L1050.0,232.8 L1051.2,231.7 L1052.5,231.3 L1053.8,231.1 L1055.0,230.3 L1056.2,228.4 L1057.5,227.4 L1058.8,228.8 L1060.0,231.2 L1061.2,231.4 L1062.5,231.1 L1063.8,231.5 L1065.0,232.1 L1066.2,233.8 L1067.5,233.9 L1068.8,233.1 L1070.0,235.3 L1071.2,235.5 L1072.5,232.6 L1073.8,231.1 L1075.0,230.4 L1076.2,231.3 L1077.5,230.4 L1078.8,229.9 L1080.0,228.6 L1081.2,229.4 L1082.5,229.0 L1083.8,229.6 L1085.0,229.3 L1086.2,229.4 L1087.5,229.1 L1088.8,229.4 L1090.0,229.3 L1091.2,228.9 L1092.5,228.5 L1093.8,229.6 L1095.0,229.7 L1096.2,229.2 L1097.5,228.1 L1098.8,228.0 L1100.0,227.7 L1101.2,229.8 L1102.5,228.3 L1103.8,227.5 L1105.0,224.7 L1106.2,223.4 L1107.5,222.4 L1108.8,223.3 L1110.0,223.8 L1111.2,227.0 L1112.5,226.4 L1113.8,228.4 L1115.0,231.7 L1116.2,234.9 L1117.5,237.3 L1118.8,238.7 L1120.0,238.9 L1121.2,239.9 L1122.5,240.2 L1123.8,240.6 L1125.0,241.0 L1126.2,241.1 L1127.5,242.5 L1128.8,241.9 L1130.0,242.1 L1131.2,240.7 L1132.5,238.7 L1133.8,238.1 L1135.0,239.2 L1136.2,239.2 L1137.5,239.1 L1138.8,238.1 L1140.0,237.5 L1141.2,237.4 L1142.5,238.7 L1143.8,239.9 L1145.0,241.0 L1146.2,243.7 L1147.5,245.7 L1148.8,248.8 L1150.0,251.7 L1151.2,254.6 L1152.5,255.3 L1153.8,256.9 L1155.0,259.0 L1156.2,261.8 L1157.5,264.3 L1158.8,266.7 L1160.0,267.5 L1161.2,268.3 L1162.5,268.2 L1163.8,267.7 L1165.0,266.1 L1166.2,265.3 L1167.5,264.1 L1168.8,262.1 L1170.0,259.4 L1171.2,254.7 L1172.5,251.2 L1173.8,251.1 L1175.0,248.5 L1176.2,245.5 L1177.5,243.1 L1178.8,240.9 L1180.0,237.2 L1181.2,237.2 L1182.5,236.8 L1183.8,235.5 L1185.0,233.4 L1186.2,230.8 L1187.5,225.7 L1188.8,223.6 L1190.0,222.9 L1191.2,221.9 L1192.5,220.4 L1193.8,220.5 L1195.0,222.9 L1196.2,222.7 L1197.5,221.3 L1198.8,223.4 L1200.0,226.2 L1201.2,228.0 L1202.5,230.3 L1203.8,233.9 L1205.0,237.2 L1206.2,238.9 L1207.5,241.2 L1208.8,246.2 L1210.0,251.0 L1211.2,256.0 L1212.5,260.8 L1213.8,265.5 L1215.0,270.6 L1216.2,276.2 L1217.5,282.1 L1218.8,288.5 L1220.0,296.1 L1221.2,304.9 L1222.5,314.4 L1223.8,323.3 L1225.0,331.5 L1226.2,339.7 L1227.5,347.8 L1228.8,355.9 L1230.0,365.1 L1231.2,374.9 L1232.5,385.2 L1233.8,395.7 L1235.0,406.5 L1236.2,417.0 L1237.5,427.7 L1238.8,438.8 L1240.0,450.0 L1241.2,460.9 L1242.5,471.0 L1243.8,480.3 L1245.0,490.2 L1246.2,499.3 L1247.5,506.1 L1248.8,510.5 L1250.0,514.5 L1251.2,517.4 L1252.5,518.4 L1253.8,517.3 L1255.0,514.6 L1256.2,510.9 L1257.5,506.4 L1258.8,501.7 L1260.0,495.6 L1261.2,488.2 L1262.5,480.1 L1263.8,471.6 L1265.0,462.7 L1266.2,452.7 L1267.5,441.7 L1268.8,430.5 L1270.0,419.1 L1271.2,407.8 L1272.5,396.6 L1273.8,385.1 L1275.0,373.5 L1276.2,361.6 L1277.5,349.6 L1278.8,337.5 L1280.0,324.5 L1281.2,311.5 L1282.5,299.0 L1283.8,287.3 L1285.0,276.6 L1286.2,266.7 L1287.5,258.1 L1288.8,250.6 L1290.0,244.1 L1291.2,239.4 L1292.5,235.6 L1293.8,232.3 L1295.0,229.7 L1296.2,227.2 L1297.5,225.5 L1298.8,225.0" stroke="#f06c28"/>
<path d="M747.5,118.3 L748.8,128.4 L750.0,139.7 L751.2,151.8 L752.5,164.7 L753.8,178.1 L755.0,192.0 L756.2,206.1 L757.5,221.1 L758.8,237.2 L760.0,254.8 L761.2,273.5 L762.5,293.7 L763.8,313.9 L765.0,332.8 L766.2,351.0 L767.5,368.6 L768.8,385.3 L770.0,400.8 L771.2,416.0 L772.5,431.4 L773.8,447.0 L775.0,463.6 L776.2,481.8 L777.5,499.9 L778.8,516.6 L780.0,530.4 L781.2,541.8 L782.5,552.2 L783.8,561.5 L785.0,570.3 L786.2,578.1 L787.5,585.1 L788.8,591.2 L790.0,596.6 L791.2,601.7 L792.5,606.4 L793.8,610.3 L795.0,613.9 L796.2,617.6 L797.5,621.1 L798.8,623.8 L800.0,625.7 L801.2,626.5 L802.5,625.9 L803.8,624.4 L805.0,622.3 L806.2,620.1 L807.5,617.8 L808.8,615.3 L810.0,611.8 L811.2,607.6 L812.5,602.7 L813.8,597.5 L815.0,592.4 L816.2,586.7 L817.5,580.1 L818.8,572.4 L820.0,564.0 L821.2,555.4 L822.5,546.7 L823.8,537.7 L825.0,528.4 L826.2,518.5 L827.5,508.1 L828.8,497.6 L830.0,486.7 L831.2,475.7 L832.5,464.6 L833.8,453.5 L835.0,442.5 L836.2,431.1 L837.5,419.3 L838.8,407.5 L840.0,395.8 L841.2,384.1 L842.5,372.8 L843.8,362.0 L845.0,352.1 L846.2,343.3 L847.5,334.9 L848.8,326.2 L850.0,318.3 L851.2,311.8 L852.5,306.8 L853.8,303.1 L855.0,299.9 L856.2,297.2 L857.5,295.4 L858.8,295.0 L860.0,297.1 L861.2,300.8 L862.5,305.6 L863.8,311.0 L865.0,317.4 L866.2,326.0 L867.5,336.1 L868.8,346.6 L870.0,357.6 L871.2,369.5 L872.5,382.3 L873.8,395.5 L875.0,408.9 L876.2,421.4 L877.5,432.6 L878.8,445.0 L880.0,458.0 L881.2,470.5 L882.5,481.6 L883.8,489.8 L885.0,494.5 L886.2,494.0 L887.5,489.0 L888.8,481.3 L890.0,471.8 L891.2,460.9 L892.5,449.5 L893.8,437.7 L895.0,422.4 L896.2,404.9 L897.5,387.3 L898.8,371.1 L900.0,356.0 L901.2,340.8 L902.5,327.1 L903.8,316.3 L905.0,308.8 L906.2,302.7 L907.5,300.0 L908.8,302.5 L910.0,307.9 L911.2,314.4 L912.5,320.6 L913.8,327.5 L915.0,334.6 L916.2,341.6 L917.5,347.0 L918.8,352.4 L920.0,357.7 L921.2,362.0 L922.5,364.3 L923.8,364.0 L925.0,360.3 L926.2,354.5 L927.5,347.8 L928.8,341.5 L930.0,335.5 L931.2,328.5 L932.5,321.6 L933.8,315.9 L935.0,311.8 L936.2,308.2 L937.5,306.1 L938.8,302.9 L940.0,299.2 L941.2,296.7 L942.5,294.9 L943.8,292.7 L945.0,291.2 L946.2,287.9 L947.5,286.7 L948.8,283.5 L950.0,284.0 L951.2,283.7 L952.5,282.0 L953.8,280.3 L955.0,279.1 L956.2,278.0 L957.5,277.7 L958.8,274.1 L960.0,270.5 L961.2,270.6 L962.5,271.5 L963.8,267.9 L965.0,265.5 L966.2,265.0 L967.5,263.6 L968.8,263.3 L970.0,263.6 L971.2,262.8 L972.5,260.8 L973.8,259.3 L975.0,256.7 L976.2,254.9 L977.5,252.3 L978.8,249.6 L980.0,247.7 L981.2,246.2 L982.5,242.5 L983.8,240.8 L985.0,239.1 L986.2,237.8 L987.5,238.3 L988.8,237.2 L990.0,236.9 L991.2,238.4 L992.5,238.2 L993.8,233.5 L995.0,230.8 L996.2,230.1 L997.5,230.6 L998.8,229.2 L1000.0,225.9 L1001.2,222.4 L1002.5,222.1 L1003.8,222.0 L1005.0,219.2 L1006.2,215.2 L1007.5,212.6 L1008.8,211.9 L1010.0,211.7 L1011.2,213.3 L1012.5,214.5 L1013.8,217.0 L1015.0,220.7 L1016.2,223.9 L1017.5,227.8 L1018.8,228.6 L1020.0,228.7 L1021.2,230.8 L1022.5,230.8 L1023.8,230.1 L1025.0,229.4 L1026.2,229.8 L1027.5,232.5 L1028.8,235.0 L1030.0,237.8 L1031.2,242.0 L1032.5,242.2 L1033.8,241.8 L1035.0,239.2 L1036.2,237.9 L1037.5,236.9 L1038.8,234.5 L1040.0,231.9 L1041.2,230.7 L1042.5,230.3 L1043.8,230.9 L1045.0,230.9 L1046.2,230.3 L1047.5,227.7 L1048.8,224.1 L1050.0,224.3 L1051.2,223.9 L1052.5,222.4 L1053.8,220.6 L1055.0,221.1 L1056.2,220.3 L1057.5,221.5 L1058.8,222.1 L1060.0,220.9 L1061.2,217.9 L1062.5,216.5 L1063.8,215.7 L1065.0,215.0 L1066.2,212.9 L1067.5,210.6 L1068.8,210.3 L1070.0,208.6 L1071.2,206.0 L1072.5,205.0 L1073.8,203.7 L1075.0,201.7 L1076.2,198.0 L1077.5,194.5 L1078.8,191.2 L1080.0,186.4 L1081.2,181.4 L1082.5,176.1 L1083.8,169.2 L1085.0,163.9 L1086.2,158.6 L1087.5,155.7 L1088.8,156.4 L1090.0,157.9 L1091.2,159.9 L1092.5,160.2 L1093.8,161.0 L1095.0,161.5 L1096.2,162.9 L1097.5,159.3 L1098.8,154.7 L1100.0,150.9 L1101.2,145.7 L1102.5,141.4 L1103.8,135.7 L1105.0,130.1 L1106.2,128.0 L1107.5,125.8 L1108.8,128.6 L1110.0,134.7 L1111.2,142.5 L1112.5,153.9 L1113.8,162.5 L1115.0,172.8 L1116.2,186.2 L1117.5,196.8 L1118.8,205.2 L1120.0,211.1 L1121.2,215.0 L1122.5,215.6 L1123.8,214.2 L1125.0,209.0 L1126.2,203.8 L1127.5,199.7 L1128.8,195.6 L1130.0,189.1 L1131.2,184.6 L1132.5,177.3 L1133.8,172.7 L1135.0,168.5 L1136.2,162.9 L1137.5,156.4 L1138.8,152.2 L1140.0,150.7 L1141.2,158.2 L1142.5,166.5 L1143.8,173.4 L1145.0,180.8 L1146.2,193.1 L1147.5,208.7 L1148.8,226.5 L1150.0,244.7 L1151.2,264.3 L1152.5,284.3 L1153.8,301.9 L1155.0,317.5 L1156.2,332.4 L1157.5,346.4 L1158.8,359.0 L1160.0,367.7 L1161.2,371.1 L1162.5,369.5 L1163.8,361.5 L1165.0,349.9 L1166.2,336.4 L1167.5,321.3 L1168.8,307.9 L1170.0,297.0 L1171.2,286.4 L1172.5,277.5 L1173.8,269.1 L1175.0,259.6 L1176.2,249.7 L1177.5,238.0 L1178.8,227.2 L1180.0,220.7 L1181.2,214.6 L1182.5,206.1 L1183.8,198.8 L1185.0,192.4 L1186.2,186.6 L1187.5,181.5 L1188.8,172.7 L1190.0,164.7 L1191.2,158.0 L1192.5,151.7 L1193.8,147.3 L1195.0,143.8 L1196.2,141.0 L1197.5,141.3 L1198.8,142.6 L1200.0,147.8 L1201.2,151.8 L1202.5,155.6 L1203.8,159.1 L1205.0,164.9 L1206.2,172.7 L1207.5,180.7 L1208.8,189.6 L1210.0,198.3 L1211.2,206.6 L1212.5,217.3 L1213.8,228.5 L1215.0,240.4 L1216.2,253.5 L1217.5,267.3 L1218.8,282.1 L1220.0,298.6 L1221.2,317.4 L1222.5,336.9 L1223.8,356.1 L1225.0,375.2 L1226.2,394.2 L1227.5,412.7 L1228.8,431.3 L1230.0,450.1 L1231.2,468.9 L1232.5,488.2 L1233.8,506.6 L1235.0,523.3 L1236.2,537.3 L1237.5,549.8 L1238.8,561.1 L1240.0,571.4 L1241.2,580.8 L1242.5,589.0 L1243.8,596.3 L1245.0,603.1 L1246.2,609.2 L1247.5,614.4 L1248.8,618.3 L1250.0,622.1 L1251.2,625.0 L1252.5,625.8 L1253.8,624.8 L1255.0,622.6 L1256.2,619.4 L1257.5,615.5 L1258.8,611.0 L1260.0,604.6 L1261.2,596.4 L1262.5,587.2 L1263.8,577.6 L1265.0,567.6 L1266.2,557.0 L1267.5,545.7 L1268.8,533.6 L1270.0,520.5 L1271.2,506.8 L1272.5,492.6 L1273.8,477.4 L1275.0,461.1 L1276.2,444.3 L1277.5,427.4 L1278.8,409.3 L1280.0,388.9 L1281.2,367.8 L1282.5,348.5 L1283.8,332.8 L1285.0,320.5 L1286.2,309.4 L1287.5,304.9 L1288.8,307.7 L1290.0,313.6 L1291.2,318.5 L1292.5,322.5 L1293.8,326.1 L1295.0,329.6 L1296.2,333.0 L1297.5,336.4 L1298.8,339.5" stroke="#30a8f0"/>
<path d="M747.5,135.1 L748.8,144.2 L750.0,154.6 L751.2,166.5 L752.5,179.6 L753.8,194.1 L755.0,209.6 L756.2,225.4 L757.5,242.1 L758.8,262.5 L760.0,283.9 L761.2,303.6 L762.5,320.7 L763.8,336.5 L765.0,352.6 L766.2,368.5 L767.5,384.1 L768.8,400.0 L770.0,416.4 L771.2,433.2 L772.5,450.3 L773.8,467.0 L775.0,483.9 L776.2,501.6 L777.5,519.3 L778.8,536.1 L780.0,550.4 L781.2,561.8 L782.5,572.4 L783.8,582.1 L785.0,590.8 L786.2,598.5 L787.5,605.3 L788.8,611.8 L790.0,617.7 L791.2,623.0 L792.5,628.1 L793.8,632.5 L795.0,636.3 L796.2,639.8 L797.5,643.2 L798.8,646.1 L800.0,648.1 L801.2,648.6 L802.5,648.2 L803.8,646.9 L805.0,645.1 L806.2,643.0 L807.5,640.7 L808.8,638.2 L810.0,635.3 L811.2,631.3 L812.5,626.2 L813.8,621.1 L815.0,615.9 L816.2,610.5 L817.5,604.3 L818.8,597.4 L820.0,589.7 L821.2,581.6 L822.5,573.0 L823.8,563.9 L825.0,554.7 L826.2,544.7 L827.5,534.4 L828.8,523.8 L830.0,513.0 L831.2,501.3 L832.5,489.9 L833.8,478.6 L835.0,467.3 L836.2,455.4 L837.5,443.4 L838.8,430.7 L840.0,418.2 L841.2,405.6 L842.5,393.6 L843.8,381.9 L845.0,370.9 L846.2,360.6 L847.5,350.2 L848.8,339.8 L850.0,330.0 L851.2,321.2 L852.5,314.4 L853.8,309.6 L855.0,304.8 L856.2,301.1 L857.5,298.4 L858.8,297.8 L860.0,300.1 L861.2,304.6 L862.5,310.3 L863.8,316.9 L865.0,324.7 L866.2,334.5 L867.5,346.0 L868.8,357.8 L870.0,369.9 L871.2,382.7 L872.5,396.8 L873.8,411.5 L875.0,425.9 L876.2,439.1 L877.5,451.4 L878.8,464.7 L880.0,479.0 L881.2,493.0 L882.5,505.0 L883.8,513.6 L885.0,518.1 L886.2,517.6 L887.5,512.8 L888.8,504.5 L890.0,494.0 L891.2,482.2 L892.5,470.3 L893.8,458.0 L895.0,442.5 L896.2,424.6 L897.5,406.1 L898.8,388.6 L900.0,372.1 L901.2,355.1 L902.5,339.5 L903.8,326.8 L905.0,317.0 L906.2,308.6 L907.5,305.0 L908.8,308.0 L910.0,315.7 L911.2,325.4 L912.5,334.3 L913.8,344.8 L915.0,356.4 L916.2,367.4 L917.5,375.8 L918.8,384.4 L920.0,393.0 L921.2,399.8 L922.5,403.7 L923.8,403.2 L925.0,396.9 L926.2,387.7 L927.5,377.4 L928.8,368.0 L930.0,359.8 L931.2,350.9 L932.5,342.2 L933.8,335.4 L935.0,330.6 L936.2,326.3 L937.5,321.8 L938.8,317.9 L940.0,314.2 L941.2,310.7 L942.5,305.7 L943.8,302.4 L945.0,301.0 L946.2,298.7 L947.5,296.3 L948.8,295.4 L950.0,293.1 L951.2,291.2 L952.5,289.5 L953.8,288.1 L955.0,287.0 L956.2,286.1 L957.5,285.8 L958.8,287.5 L960.0,285.6 L961.2,281.9 L962.5,279.8 L963.8,277.7 L965.0,275.1 L966.2,274.3 L967.5,271.8 L968.8,271.2 L970.0,268.2 L971.2,265.8 L972.5,264.6 L973.8,265.0 L975.0,260.9 L976.2,257.9 L977.5,257.3 L978.8,256.1 L980.0,253.2 L981.2,250.5 L982.5,245.7 L983.8,246.1 L985.0,245.3 L986.2,241.3 L987.5,239.5 L988.8,237.4 L990.0,235.2 L991.2,235.4 L992.5,233.0 L993.8,231.3 L995.0,232.3 L996.2,232.1 L997.5,232.6 L998.8,231.0 L1000.0,228.0 L1001.2,226.4 L1002.5,227.1 L1003.8,225.8 L1005.0,225.5 L1006.2,223.8 L1007.5,224.4 L1008.8,224.2 L1010.0,224.2 L1011.2,223.3 L1012.5,222.9 L1013.8,223.9 L1015.0,229.5 L1016.2,233.9 L1017.5,235.2 L1018.8,235.1 L1020.0,236.0 L1021.2,239.6 L1022.5,246.1 L1023.8,250.1 L1025.0,251.7 L1026.2,254.6 L1027.5,258.5 L1028.8,261.5 L1030.0,261.0 L1031.2,261.5 L1032.5,261.0 L1033.8,258.8 L1035.0,257.5 L1036.2,255.5 L1037.5,255.2 L1038.8,255.2 L1040.0,254.4 L1041.2,253.9 L1042.5,253.1 L1043.8,250.8 L1045.0,250.0 L1046.2,249.2 L1047.5,249.8 L1048.8,246.2 L1050.0,245.8 L1051.2,244.9 L1052.5,244.2 L1053.8,244.0 L1055.0,243.2 L1056.2,242.6 L1057.5,242.2 L1058.8,238.9 L1060.0,238.7 L1061.2,238.6 L1062.5,238.6 L1063.8,237.3 L1065.0,234.8 L1066.2,236.5 L1067.5,237.3 L1068.8,235.8 L1070.0,234.8 L1071.2,234.2 L1072.5,234.7 L1073.8,231.6 L1075.0,225.0 L1076.2,220.1 L1077.5,217.5 L1078.8,212.7 L1080.0,204.3 L1081.2,195.3 L1082.5,185.3 L1083.8,176.8 L1085.0,168.4 L1086.2,158.5 L1087.5,155.4 L1088.8,157.2 L1090.0,158.2 L1091.2,161.1 L1092.5,164.0 L1093.8,167.5 L1095.0,167.6 L1096.2,165.7 L1097.5,161.8 L1098.8,155.1 L1100.0,148.0 L1101.2,140.9 L1102.5,134.2 L1103.8,127.3 L1105.0,119.3 L1106.2,112.6 L1107.5,112.1 L1108.8,119.6 L1110.0,130.9 L1111.2,142.7 L1112.5,156.2 L1113.8,167.9 L1115.0,181.6 L1116.2,193.5 L1117.5,202.2 L1118.8,214.6 L1120.0,226.0 L1121.2,228.9 L1122.5,227.9 L1123.8,228.3 L1125.0,223.3 L1126.2,215.6 L1127.5,208.3 L1128.8,198.4 L1130.0,191.6 L1131.2,184.4 L1132.5,175.0 L1133.8,167.1 L1135.0,160.1 L1136.2,151.8 L1137.5,148.1 L1138.8,145.8 L1140.0,147.0 L1141.2,152.2 L1142.5,159.8 L1143.8,171.0 L1145.0,185.9 L1146.2,199.8 L1147.5,217.6 L1148.8,238.3 L1150.0,260.1 L1151.2,282.2 L1152.5,303.5 L1153.8,321.0 L1155.0,338.7 L1156.2,355.2 L1157.5,372.9 L1158.8,387.4 L1160.0,397.6 L1161.2,401.2 L1162.5,398.3 L1163.8,387.6 L1165.0,373.5 L1166.2,359.5 L1167.5,342.2 L1168.8,325.1 L1170.0,308.8 L1171.2,295.9 L1172.5,286.1 L1173.8,277.6 L1175.0,267.6 L1176.2,259.2 L1177.5,248.7 L1178.8,238.5 L1180.0,228.7 L1181.2,219.6 L1182.5,211.1 L1183.8,201.5 L1185.0,194.3 L1186.2,188.1 L1187.5,180.0 L1188.8,170.0 L1190.0,162.6 L1191.2,156.1 L1192.5,148.7 L1193.8,142.5 L1195.0,137.8 L1196.2,135.2 L1197.5,137.4 L1198.8,142.1 L1200.0,143.7 L1201.2,147.6 L1202.5,152.7 L1203.8,161.7 L1205.0,168.5 L1206.2,173.7 L1207.5,182.0 L1208.8,191.8 L1210.0,200.9 L1211.2,210.2 L1212.5,220.8 L1213.8,232.1 L1215.0,244.1 L1216.2,257.2 L1217.5,271.6 L1218.8,286.8 L1220.0,303.9 L1221.2,323.6 L1222.5,344.6 L1223.8,365.9 L1225.0,386.1 L1226.2,406.1 L1227.5,426.4 L1228.8,446.1 L1230.0,464.5 L1231.2,482.9 L1232.5,501.0 L1233.8,518.4 L1235.0,533.9 L1236.2,547.1 L1237.5,558.3 L1238.8,568.6 L1240.0,578.2 L1241.2,586.9 L1242.5,594.3 L1243.8,601.0 L1245.0,607.0 L1246.2,612.3 L1247.5,616.4 L1248.8,619.6 L1250.0,622.7 L1251.2,624.9 L1252.5,625.8 L1253.8,625.0 L1255.0,623.2 L1256.2,620.1 L1257.5,616.9 L1258.8,613.3 L1260.0,607.6 L1261.2,599.9 L1262.5,591.0 L1263.8,581.4 L1265.0,572.2 L1266.2,562.1 L1267.5,550.6 L1268.8,538.2 L1270.0,525.7 L1271.2,512.2 L1272.5,497.4 L1273.8,481.9 L1275.0,465.4 L1276.2,448.6 L1277.5,431.5 L1278.8,413.8 L1280.0,393.8 L1281.2,373.9 L1282.5,355.6 L1283.8,341.8 L1285.0,332.0 L1286.2,324.1 L1287.5,320.8 L1288.8,326.1 L1290.0,336.6 L1291.2,346.5 L1292.5,355.0 L1293.8,363.2 L1295.0,371.3 L1296.2,379.1 L1297.5,386.9 L1298.8,394.8" stroke="#1464ec"/>
<path d="M747.5,166.4 L748.8,184.4 L750.0,202.3 L751.2,220.2 L752.5,237.2 L753.8,254.8 L755.0,272.0 L756.2,289.3 L757.5,307.3 L758.8,329.3 L760.0,347.6 L761.2,353.8 L762.5,350.3 L763.8,346.9 L765.0,350.4 L766.2,362.8 L767.5,378.9 L768.8,394.3 L770.0,412.4 L771.2,433.2 L772.5,454.6 L773.8,474.4 L775.0,492.8 L776.2,511.8 L777.5,529.8 L778.8,546.1 L780.0,559.7 L781.2,571.2 L782.5,582.0 L783.8,591.5 L785.0,600.1 L786.2,607.9 L787.5,614.4 L788.8,620.7 L790.0,626.3 L791.2,631.6 L792.5,636.6 L793.8,640.7 L795.0,644.1 L796.2,647.1 L797.5,649.9 L798.8,652.3 L800.0,653.6 L801.2,653.6 L802.5,652.9 L803.8,651.7 L805.0,650.8 L806.2,649.4 L807.5,647.1 L808.8,644.5 L810.0,641.7 L811.2,637.7 L812.5,633.0 L813.8,627.8 L815.0,622.3 L816.2,616.8 L817.5,610.6 L818.8,603.9 L820.0,596.5 L821.2,588.6 L822.5,580.2 L823.8,571.2 L825.0,562.5 L826.2,553.6 L827.5,543.3 L828.8,532.5 L830.0,521.5 L831.2,510.3 L832.5,499.2 L833.8,488.2 L835.0,477.0 L836.2,465.3 L837.5,453.2 L838.8,441.2 L840.0,428.8 L841.2,416.1 L842.5,403.9 L843.8,391.9 L845.0,380.2 L846.2,369.4 L847.5,358.9 L848.8,348.1 L850.0,337.4 L851.2,327.7 L852.5,320.3 L853.8,315.1 L855.0,310.2 L856.2,306.0 L857.5,303.0 L858.8,302.3 L860.0,304.1 L861.2,308.5 L862.5,314.2 L863.8,320.4 L865.0,327.8 L866.2,338.2 L867.5,350.2 L868.8,362.9 L870.0,374.7 L871.2,387.2 L872.5,401.0 L873.8,415.3 L875.0,429.2 L876.2,442.3 L877.5,454.5 L878.8,468.2 L880.0,482.4 L881.2,495.8 L882.5,507.4 L883.8,515.8 L885.0,520.3 L886.2,520.2 L887.5,515.5 L888.8,507.6 L890.0,497.3 L891.2,486.2 L892.5,474.5 L893.8,462.1 L895.0,446.4 L896.2,429.2 L897.5,410.8 L898.8,393.3 L900.0,377.3 L901.2,361.0 L902.5,345.6 L903.8,332.9 L905.0,321.7 L906.2,311.8 L907.5,307.6 L908.8,310.8 L910.0,318.9 L911.2,329.1 L912.5,339.0 L913.8,350.0 L915.0,361.5 L916.2,372.2 L917.5,381.1 L918.8,390.0 L920.0,398.3 L921.2,405.1 L922.5,408.9 L923.8,408.2 L925.0,402.5 L926.2,393.6 L927.5,383.2 L928.8,373.8 L930.0,365.6 L931.2,356.6 L932.5,348.3 L933.8,341.1 L935.0,335.7 L936.2,331.1 L937.5,327.6 L938.8,325.3 L940.0,323.1 L941.2,319.4 L942.5,314.7 L943.8,312.2 L945.0,309.7 L946.2,306.1 L947.5,299.6 L948.8,300.2 L950.0,300.1 L951.2,297.0 L952.5,299.2 L953.8,300.5 L955.0,298.6 L956.2,297.4 L957.5,294.8 L958.8,290.7 L960.0,290.8 L961.2,288.8 L962.5,288.1 L963.8,286.1 L965.0,283.6 L966.2,281.7 L967.5,283.2 L968.8,280.5 L970.0,276.6 L971.2,276.0 L972.5,274.5 L973.8,272.1 L975.0,271.5 L976.2,268.3 L977.5,264.4 L978.8,260.1 L980.0,258.2 L981.2,259.1 L982.5,258.7 L983.8,257.5 L985.0,254.8 L986.2,250.5 L987.5,248.1 L988.8,243.9 L990.0,241.6 L991.2,242.2 L992.5,239.8 L993.8,239.3 L995.0,239.3 L996.2,236.7 L997.5,234.9 L998.8,233.9 L1000.0,231.1 L1001.2,228.8 L1002.5,230.7 L1003.8,232.3 L1005.0,233.3 L1006.2,231.2 L1007.5,229.3 L1008.8,229.1 L1010.0,228.0 L1011.2,230.6 L1012.5,233.7 L1013.8,237.6 L1015.0,240.2 L1016.2,242.9 L1017.5,245.0 L1018.8,251.1 L1020.0,254.9 L1021.2,258.9 L1022.5,260.7 L1023.8,266.7 L1025.0,269.4 L1026.2,270.9 L1027.5,270.9 L1028.8,273.5 L1030.0,276.3 L1031.2,277.5 L1032.5,277.9 L1033.8,278.1 L1035.0,275.3 L1036.2,275.0 L1037.5,274.5 L1038.8,272.4 L1040.0,270.8 L1041.2,269.4 L1042.5,266.2 L1043.8,264.4 L1045.0,262.1 L1046.2,261.1 L1047.5,255.4 L1048.8,252.2 L1050.0,253.3 L1051.2,253.8 L1052.5,249.5 L1053.8,246.8 L1055.0,246.7 L1056.2,248.5 L1057.5,245.8 L1058.8,244.4 L1060.0,243.4 L1061.2,244.8 L1062.5,244.4 L1063.8,245.6 L1065.0,244.9 L1066.2,245.4 L1067.5,243.9 L1068.8,244.0 L1070.0,242.7 L1071.2,244.9 L1072.5,243.7 L1073.8,239.2 L1075.0,235.1 L1076.2,233.4 L1077.5,232.1 L1078.8,227.4 L1080.0,218.8 L1081.2,211.9 L1082.5,205.8 L1083.8,197.6 L1085.0,191.8 L1086.2,185.8 L1087.5,181.2 L1088.8,180.1 L1090.0,181.8 L1091.2,179.5 L1092.5,177.4 L1093.8,173.5 L1095.0,173.9 L1096.2,176.6 L1097.5,172.2 L1098.8,164.0 L1100.0,162.7 L1101.2,162.0 L1102.5,161.0 L1103.8,155.9 L1105.0,148.9 L1106.2,145.6 L1107.5,144.2 L1108.8,150.4 L1110.0,161.1 L1111.2,173.6 L1112.5,186.0 L1113.8,196.6 L1115.0,207.9 L1116.2,224.0 L1117.5,235.1 L1118.8,245.3 L1120.0,253.2 L1121.2,255.5 L1122.5,254.5 L1123.8,250.8 L1125.0,246.0 L1126.2,242.1 L1127.5,234.0 L1128.8,227.5 L1130.0,222.5 L1131.2,217.1 L1132.5,207.4 L1133.8,197.1 L1135.0,193.0 L1136.2,190.0 L1137.5,186.0 L1138.8,182.5 L1140.0,181.6 L1141.2,187.1 L1142.5,196.8 L1143.8,201.3 L1145.0,208.9 L1146.2,220.0 L1147.5,235.8 L1148.8,253.4 L1150.0,272.9 L1151.2,293.1 L1152.5,312.9 L1153.8,328.5 L1155.0,345.9 L1156.2,365.7 L1157.5,382.0 L1158.8,393.4 L1160.0,404.5 L1161.2,410.4 L1162.5,406.5 L1163.8,397.4 L1165.0,384.9 L1166.2,368.0 L1167.5,350.7 L1168.8,333.7 L1170.0,319.6 L1171.2,309.4 L1172.5,297.1 L1173.8,282.4 L1175.0,268.9 L1176.2,259.1 L1177.5,248.6 L1178.8,240.2 L1180.0,233.8 L1181.2,227.6 L1182.5,217.9 L1183.8,209.1 L1185.0,203.0 L1186.2,194.8 L1187.5,181.8 L1188.8,168.9 L1190.0,161.6 L1191.2,152.9 L1192.5,143.0 L1193.8,137.1 L1195.0,133.6 L1196.2,132.7 L1197.5,136.6 L1198.8,140.0 L1200.0,143.3 L1201.2,149.0 L1202.5,155.9 L1203.8,161.6 L1205.0,169.8 L1206.2,177.9 L1207.5,185.6 L1208.8,195.1 L1210.0,205.6 L1211.2,216.4 L1212.5,228.3 L1213.8,240.7 L1215.0,252.8 L1216.2,266.0 L1217.5,280.7 L1218.8,296.9 L1220.0,314.8 L1221.2,336.1 L1222.5,358.8 L1223.8,380.7 L1225.0,401.0 L1226.2,421.2 L1227.5,440.7 L1228.8,460.0 L1230.0,477.6 L1231.2,493.8 L1232.5,509.0 L1233.8,523.1 L1235.0,535.9 L1236.2,547.1 L1237.5,556.8 L1238.8,566.0 L1240.0,574.6 L1241.2,582.2 L1242.5,588.3 L1243.8,593.0 L1245.0,596.8 L1246.2,599.9 L1247.5,602.5 L1248.8,604.7 L1250.0,606.6 L1251.2,608.5 L1252.5,609.3 L1253.8,608.4 L1255.0,606.3 L1256.2,603.3 L1257.5,599.6 L1258.8,596.2 L1260.0,591.8 L1261.2,586.1 L1262.5,579.7 L1263.8,573.0 L1265.0,566.1 L1266.2,558.6 L1267.5,549.6 L1268.8,539.8 L1270.0,529.3 L1271.2,517.5 L1272.5,504.6 L1273.8,490.0 L1275.0,473.7 L1276.2,456.0 L1277.5,437.3 L1278.8,416.4 L1280.0,390.3 L1281.2,362.0 L1282.5,335.1 L1283.8,313.0 L1285.0,295.5 L1286.2,279.7 L1287.5,272.9 L1288.8,276.3 L1290.0,283.7 L1291.2,291.2 L1292.5,298.9 L1293.8,306.9 L1295.0,315.4 L1296.2,324.1 L1297.5,333.7 L1298.8,344.1" stroke="#1414d8"/>
<path d="M747.0,290.0 L749.0,295.9 L751.0,301.9 L753.0,307.9 L755.0,314.0 L757.0,320.1 L759.0,326.2 L761.0,332.4 L763.0,339.2 L765.0,347.1 L767.0,356.6 L769.0,367.2 L771.0,378.2 L773.0,389.2 L775.0,399.7 L777.0,409.1 L779.0,418.3 L781.0,427.3 L783.0,435.9 L785.0,443.7 L787.0,450.6 L789.0,456.3 L791.0,460.9 L793.0,464.8 L795.0,467.9 L797.0,470.9 L799.0,472.5 L801.0,471.7 L803.0,470.0 L805.0,465.5 L807.0,458.5 L809.0,451.6 L811.0,444.2 L813.0,436.5 L815.0,428.8 L817.0,421.3 L819.0,413.7 L821.0,406.1 L823.0,398.7 L825.0,392.0 L827.0,385.7 L829.0,379.7 L831.0,373.7 L833.0,368.1 L835.0,362.9 L837.0,358.0 L839.0,353.3 L841.0,348.6 L843.0,344.2 L845.0,340.1 L847.0,336.5 L849.0,333.6 L851.0,331.3 L853.0,329.2 L855.0,327.6 L857.0,326.5 L859.0,325.5 L861.0,325.0 L863.0,325.3 L865.0,325.8 L867.0,326.5 L869.0,327.3 L871.0,328.5 L873.0,329.7 L875.0,331.1 L877.0,332.6 L879.0,334.0 L881.0,335.1 L883.0,335.8 L885.0,336.5 L887.0,337.0 L889.0,336.9 L891.0,336.2 L893.0,335.1 L895.0,334.1 L897.0,333.1 L899.0,332.1 L901.0,331.1 L903.0,330.0 L905.0,329.0 L907.0,327.9 L909.0,326.9 L911.0,325.9 L913.0,324.9 L915.0,323.9 L917.0,323.1 L919.0,322.2 L921.0,321.4 L923.0,320.6 L925.0,319.8 L927.0,319.1 L929.0,318.4 L931.0,317.7 L933.0,317.0 L935.0,316.3 L937.0,315.8 L939.0,315.5 L941.0,314.9 L943.0,314.8 L945.0,314.1 L947.0,313.2 L949.0,312.5 L951.0,312.3 L953.0,312.1 L955.0,311.6 L957.0,310.9 L959.0,309.7 L961.0,309.1 L963.0,309.1 L965.0,309.0 L967.0,308.3 L969.0,308.0 L971.0,307.7 L973.0,307.3 L975.0,307.5 L977.0,307.5 L979.0,306.6 L981.0,305.4 L983.0,305.0 L985.0,304.9 L987.0,304.6 L989.0,303.5 L991.0,303.4 L993.0,303.6 L995.0,303.5 L997.0,303.6 L999.0,303.1 L1001.0,302.8 L1003.0,302.9 L1005.0,302.8 L1007.0,302.5 L1009.0,301.8 L1011.0,300.9 L1013.0,301.2 L1015.0,301.4 L1017.0,301.3 L1019.0,300.5 L1021.0,299.9 L1023.0,299.4 L1025.0,299.7 L1027.0,299.5 L1029.0,299.3 L1031.0,299.3 L1033.0,299.0 L1035.0,298.8 L1037.0,298.6 L1039.0,298.3 L1041.0,297.9 L1043.0,297.7 L1045.0,297.7 L1047.0,297.8 L1049.0,296.9 L1051.0,296.6 L1053.0,296.9 L1055.0,297.4 L1057.0,297.7 L1059.0,298.3 L1061.0,298.5 L1063.0,298.8 L1065.0,298.7 L1067.0,298.6 L1069.0,299.0 L1071.0,299.8 L1073.0,300.3 L1075.0,300.8 L1077.0,301.0 L1079.0,301.2 L1081.0,302.1 L1083.0,302.3 L1085.0,302.3 L1087.0,302.1 L1089.0,302.6 L1091.0,302.2 L1093.0,302.6 L1095.0,303.2 L1097.0,303.8 L1099.0,304.1 L1101.0,304.8 L1103.0,304.9 L1105.0,305.5 L1107.0,305.6 L1109.0,305.4 L1111.0,305.3 L1113.0,306.0 L1115.0,306.5 L1117.0,307.1 L1119.0,307.7 L1121.0,308.5 L1123.0,309.3 L1125.0,309.7 L1127.0,309.9 L1129.0,310.5 L1131.0,312.0 L1133.0,313.0 L1135.0,313.7 L1137.0,314.0 L1139.0,314.6 L1141.0,315.1 L1143.0,316.4 L1145.0,317.3 L1147.0,319.0 L1149.0,319.9 L1151.0,320.5 L1153.0,320.9 L1155.0,321.6 L1157.0,321.8 L1159.0,321.4 L1161.0,321.2 L1163.0,321.3 L1165.0,320.9 L1167.0,320.6 L1169.0,320.6 L1171.0,320.8 L1173.0,320.7 L1175.0,320.1 L1177.0,319.2 L1179.0,318.6 L1181.0,318.4 L1183.0,318.2 L1185.0,317.6 L1187.0,317.0 L1189.0,316.5 L1191.0,316.0 L1193.0,315.7 L1195.0,315.5 L1197.0,316.0 L1199.0,317.6 L1201.0,319.9 L1203.0,321.8 L1205.0,323.8 L1207.0,326.4 L1209.0,329.5 L1211.0,332.6 L1213.0,336.0 L1215.0,340.3 L1217.0,345.1 L1219.0,350.1 L1221.0,355.3 L1223.0,360.9 L1225.0,366.9 L1227.0,373.2 L1229.0,379.8 L1231.0,386.6 L1233.0,393.3 L1235.0,399.8 L1237.0,406.4 L1239.0,413.1 L1241.0,420.2 L1243.0,426.9 L1245.0,433.0 L1247.0,438.5 L1249.0,442.5 L1251.0,446.2 L1253.0,448.6 L1255.0,448.9 L1257.0,447.8 L1259.0,446.2 L1261.0,443.6 L1263.0,440.0 L1265.0,434.1 L1267.0,426.8 L1269.0,419.2 L1271.0,410.7 L1273.0,401.8 L1275.0,393.2 L1277.0,385.1 L1279.0,377.1 L1281.0,369.1 L1283.0,361.1 L1285.0,353.2 L1287.0,345.9 L1289.0,339.2 L1291.0,333.0 L1293.0,326.9 L1295.0,320.9 L1297.0,315.1 L1299.0,309.4" stroke="#e02424"/>
</g>
<rect x="745.8" y="114.6" width="553.8" height="550.4" fill="none" stroke="#000" stroke-width="3.9"/>
<line x1="731" y1="220.5" x2="745.8" y2="220.5" stroke="#000" stroke-width="3.0"/>
<text x="725.5" y="227.3" font-size="30" text-anchor="end" fill="#111" stroke="#111" stroke-width="0.36">.8</text>
<line x1="731" y1="334.5" x2="745.8" y2="334.5" stroke="#000" stroke-width="3.0"/>
<text x="725.5" y="341.3" font-size="30" text-anchor="end" fill="#111" stroke="#111" stroke-width="0.36">.6</text>
<line x1="731" y1="448.2" x2="745.8" y2="448.2" stroke="#000" stroke-width="3.0"/>
<text x="725.5" y="455.0" font-size="30" text-anchor="end" fill="#111" stroke="#111" stroke-width="0.36">.4</text>
<line x1="731" y1="562.3" x2="745.8" y2="562.3" stroke="#000" stroke-width="3.0"/>
<text x="725.5" y="569.0999999999999" font-size="30" text-anchor="end" fill="#111" stroke="#111" stroke-width="0.36">.2</text>
<line x1="732.5" y1="665.0" x2="745.8" y2="665.0" stroke="#000" stroke-width="3.4"/>
<text x="725.5" y="677.0" font-size="30" text-anchor="end" fill="#111" stroke="#111" stroke-width="0.36">0</text>
<line x1="800.7" y1="665.0" x2="800.7" y2="681" stroke="#000" stroke-width="3.0"/>
<text x="800.9" y="709.7" font-size="28.5" text-anchor="middle" fill="#111" stroke="#111" stroke-width="0.34">8</text>
<line x1="787.9" y1="714.6" x2="813.9" y2="714.6" stroke="#000" stroke-width="2.2"/>
<text x="800.9" y="740.7" font-size="28.5" text-anchor="middle" fill="#111" stroke="#111" stroke-width="0.34">3</text>
<line x1="883.5" y1="665.0" x2="883.5" y2="681" stroke="#000" stroke-width="3.0"/>
<text x="885.9" y="709.7" font-size="28.5" text-anchor="middle" fill="#111" stroke="#111" stroke-width="0.34">13</text>
<line x1="872.9" y1="714.6" x2="898.9" y2="714.6" stroke="#000" stroke-width="2.2"/>
<text x="885.9" y="740.7" font-size="28.5" text-anchor="middle" fill="#111" stroke="#111" stroke-width="0.34">5</text>
<line x1="925.7" y1="665.0" x2="925.7" y2="681" stroke="#000" stroke-width="3.0"/>
<text x="929.5" y="709.7" font-size="28.5" text-anchor="middle" fill="#111" stroke="#111" stroke-width="0.34">18</text>
<line x1="916.5" y1="714.6" x2="942.5" y2="714.6" stroke="#000" stroke-width="2.2"/>
<text x="929.5" y="740.7" font-size="28.5" text-anchor="middle" fill="#111" stroke="#111" stroke-width="0.34">7</text>
<line x1="1125.3" y1="665.0" x2="1125.3" y2="681" stroke="#000" stroke-width="3.0"/>
<text x="1130.6" y="709.7" font-size="28.5" text-anchor="middle" fill="#111" stroke="#111" stroke-width="0.34">17</text>
<line x1="1117.6" y1="714.6" x2="1143.6" y2="714.6" stroke="#000" stroke-width="2.2"/>
<text x="1130.6" y="740.7" font-size="28.5" text-anchor="middle" fill="#111" stroke="#111" stroke-width="0.34">7</text>
<line x1="1167.5" y1="665.0" x2="1167.5" y2="681" stroke="#000" stroke-width="3.0"/>
<text x="1175.0" y="709.7" font-size="28.5" text-anchor="middle" fill="#111" stroke="#111" stroke-width="0.34">12</text>
<line x1="1162.0" y1="714.6" x2="1188.0" y2="714.6" stroke="#000" stroke-width="2.2"/>
<text x="1175.0" y="740.7" font-size="28.5" text-anchor="middle" fill="#111" stroke="#111" stroke-width="0.34">5</text>
<line x1="1250.2" y1="665.0" x2="1250.2" y2="681" stroke="#000" stroke-width="3.0"/>
<text x="1252.1" y="709.7" font-size="28.5" text-anchor="middle" fill="#111" stroke="#111" stroke-width="0.34">7</text>
<line x1="1239.1" y1="714.6" x2="1265.1" y2="714.6" stroke="#000" stroke-width="2.2"/>
<text x="1252.1" y="740.7" font-size="28.5" text-anchor="middle" fill="#111" stroke="#111" stroke-width="0.34">3</text>
<text x="1029.5" y="727.4" font-size="36" text-anchor="middle" fill="#111" stroke="#111" stroke-width="0.43">ν</text>
<text x="742" y="65.3" font-size="36.5" textLength="43" lengthAdjust="spacingAndGlyphs" fill="#111" stroke="#111" stroke-width="0.44">(b)</text>
<text transform="translate(689.8,438.2) rotate(-90)" font-size="32.5" fill="#111" stroke="#111" stroke-width="0.35"><tspan textLength="18.5" lengthAdjust="spacingAndGlyphs">R</tspan><tspan dy="6" font-size="15.5" textLength="16.5" lengthAdjust="spacingAndGlyphs">xx</tspan><tspan dy="-6" dx="4.5" textLength="58" lengthAdjust="spacingAndGlyphs">(kΩ)</tspan></text>
<text x="859.2" y="640.0" font-size="31" textLength="87" lengthAdjust="spacingAndGlyphs" fill="#111" stroke="#111" stroke-width="0.37">B=14T</text>
<text x="1027" y="453.1" font-size="24.5" textLength="43" lengthAdjust="spacingAndGlyphs" fill="#111" stroke="#111" stroke-width="0.29">T(K)</text>
<line x1="994" y1="483.6" x2="1021" y2="483.6" stroke="#1414d8" stroke-width="2.2"/>
<text x="1030" y="490.8" font-size="24" fill="#111" stroke="#111" stroke-width="0.29">0.5</text>
<line x1="994" y1="512.45" x2="1021" y2="512.45" stroke="#30a8f0" stroke-width="2.2"/>
<text x="1030" y="519.6500000000001" font-size="24" fill="#111" stroke="#111" stroke-width="0.29">1</text>
<line x1="994" y1="541.3000000000001" x2="1021" y2="541.3000000000001" stroke="#789c84" stroke-width="2.2"/>
<text x="1030" y="548.5000000000001" font-size="24" fill="#111" stroke="#111" stroke-width="0.29">1.5</text>
<line x1="994" y1="570.1500000000001" x2="1021" y2="570.1500000000001" stroke="#f0a820" stroke-width="2.2"/>
<text x="1030" y="577.3500000000001" font-size="24" fill="#111" stroke="#111" stroke-width="0.29">2</text>
<line x1="994" y1="599.0" x2="1021" y2="599.0" stroke="#f06c28" stroke-width="2.2"/>
<text x="1030" y="606.2" font-size="24" fill="#111" stroke="#111" stroke-width="0.29">3</text>
<line x1="994" y1="627.85" x2="1021" y2="627.85" stroke="#e02424" stroke-width="2.2"/>
<text x="1030" y="635.0500000000001" font-size="24" fill="#111" stroke="#111" stroke-width="0.29">4</text>
<defs><clipPath id="clipC"><rect x="1373.0" y="114.3" width="567.0" height="550.7"/></clipPath></defs>
<g clip-path="url(#clipC)" fill="none" stroke-linejoin="round" stroke-linecap="round">
<path d="M1375.0,657.2 L1376.0,657.1 L1377.0,656.5 L1378.0,655.9 L1379.0,656.0 L1380.0,656.3 L1381.0,656.6 L1382.0,656.7 L1383.0,656.7 L1384.0,656.5 L1385.0,656.2 L1386.0,656.3 L1387.0,656.7 L1388.0,656.8 L1389.0,656.4 L1390.0,656.1 L1391.0,656.5 L1392.0,657.0 L1393.0,657.0 L1394.0,656.7 L1395.0,656.6 L1396.0,656.7 L1397.0,656.9 L1398.0,657.0 L1399.0,657.0 L1400.0,656.8 L1401.0,656.5 L1402.0,656.2 L1403.0,655.9 L1404.0,655.7 L1405.0,655.7 L1406.0,655.6 L1407.0,655.6 L1408.0,655.5 L1409.0,655.6 L1410.0,655.6 L1411.0,655.8 L1412.0,655.6 L1413.0,655.5 L1414.0,655.3 L1415.0,655.0 L1416.0,654.8 L1417.0,654.5 L1418.0,654.8 L1419.0,654.8 L1420.0,654.6 L1421.0,654.4 L1422.0,654.0 L1423.0,653.6 L1424.0,653.3 L1425.0,653.6 L1426.0,654.0 L1427.0,654.1 L1428.0,653.9 L1429.0,653.6 L1430.0,653.3 L1431.0,653.0 L1432.0,652.5 L1433.0,652.1 L1434.0,651.5 L1435.0,651.2 L1436.0,650.9 L1437.0,650.5 L1438.0,650.4 L1439.0,650.1 L1440.0,649.6 L1441.0,649.1 L1442.0,648.7 L1443.0,648.5 L1444.0,648.3 L1445.0,648.2 L1446.0,648.4 L1447.0,648.4 L1448.0,648.3 L1449.0,648.3 L1450.0,648.2 L1451.0,647.7 L1452.0,647.0 L1453.0,646.1 L1454.0,645.5 L1455.0,644.8 L1456.0,643.5 L1457.0,642.1 L1458.0,640.1 L1459.0,637.5 L1460.0,634.5 L1461.0,631.9 L1462.0,629.5 L1463.0,626.9 L1464.0,624.0 L1465.0,620.9 L1466.0,618.3 L1467.0,615.7 L1468.0,613.2 L1469.0,610.7 L1470.0,608.5 L1471.0,606.4 L1472.0,604.1 L1473.0,602.0 L1474.0,600.1 L1475.0,598.1 L1476.0,595.6 L1477.0,593.0 L1478.0,590.9 L1479.0,589.1 L1480.0,587.3 L1481.0,585.4 L1482.0,583.8 L1483.0,582.0 L1484.0,580.0 L1485.0,577.4 L1486.0,574.6 L1487.0,572.4 L1488.0,570.7 L1489.0,569.7 L1490.0,568.5 L1491.0,567.0 L1492.0,565.5 L1493.0,564.0 L1494.0,562.3 L1495.0,560.5 L1496.0,559.0 L1497.0,558.0 L1498.0,557.0 L1499.0,555.6 L1500.0,554.1 L1501.0,552.5 L1502.0,551.1 L1503.0,549.4 L1504.0,546.5 L1505.0,542.8 L1506.0,539.5 L1507.0,536.5 L1508.0,533.8 L1509.0,531.8 L1510.0,530.4 L1511.0,529.1 L1512.0,527.3 L1513.0,525.5 L1514.0,523.7 L1515.0,522.4 L1516.0,521.4 L1517.0,520.4 L1518.0,519.0 L1519.0,517.1 L1520.0,515.4 L1521.0,514.1 L1522.0,512.7 L1523.0,511.2 L1524.0,510.0 L1525.0,508.6 L1526.0,507.0 L1527.0,505.5 L1528.0,504.5 L1529.0,504.5 L1530.0,505.2 L1531.0,506.1 L1532.0,506.8 L1533.0,507.2 L1534.0,508.4 L1535.0,510.5 L1536.0,513.1 L1537.0,516.5 L1538.0,521.0 L1539.0,526.6 L1540.0,532.8 L1541.0,539.4 L1542.0,546.5 L1543.0,553.9 L1544.0,561.4 L1545.0,569.6 L1546.0,578.3 L1547.0,586.8 L1548.0,594.9 L1549.0,603.0 L1550.0,611.2 L1551.0,619.3 L1552.0,627.1 L1553.0,635.1 L1554.0,641.6 L1555.0,646.9 L1556.0,651.3 L1557.0,653.3 L1558.0,654.3 L1559.0,654.5 L1560.0,654.4 L1561.0,654.3 L1562.0,654.8 L1563.0,655.2 L1564.0,655.2 L1565.0,654.9 L1566.0,654.5 L1567.0,654.1 L1568.0,653.7 L1569.0,653.3 L1570.0,652.9 L1571.0,651.9 L1572.0,648.5 L1573.0,643.3 L1574.0,637.5 L1575.0,630.7 L1576.0,622.2 L1577.0,613.2 L1578.0,604.8 L1579.0,596.6 L1580.0,588.3 L1581.0,579.4 L1582.0,570.0 L1583.0,560.5 L1584.0,551.5 L1585.0,544.0 L1586.0,537.5 L1587.0,531.1 L1588.0,524.3 L1589.0,517.7 L1590.0,511.7 L1591.0,506.6 L1592.0,502.0 L1593.0,497.3 L1594.0,492.9 L1595.0,488.8 L1596.0,485.2 L1597.0,482.2 L1598.0,479.6 L1599.0,477.6 L1600.0,475.2 L1601.0,472.7 L1602.0,470.6 L1603.0,469.1 L1604.0,468.1 L1605.0,466.8 L1606.0,466.0 L1607.0,466.2 L1608.0,467.1 L1609.0,468.3 L1610.0,469.6 L1611.0,471.3 L1612.0,473.7 L1613.0,476.7 L1614.0,480.4 L1615.0,486.3 L1616.0,494.2 L1617.0,502.5 L1618.0,510.5 L1619.0,519.3 L1620.0,529.1 L1621.0,540.3 L1622.0,553.1 L1623.0,566.4 L1624.0,579.1 L1625.0,591.5 L1626.0,603.7 L1627.0,615.3 L1628.0,627.3 L1629.0,636.7 L1630.0,643.1 L1631.0,645.9 L1632.0,644.2 L1633.0,641.1 L1634.0,636.9 L1635.0,630.1 L1636.0,622.3 L1637.0,613.2 L1638.0,602.8 L1639.0,592.1 L1640.0,581.2 L1641.0,570.2 L1642.0,559.7 L1643.0,550.1 L1644.0,541.0 L1645.0,532.9 L1646.0,525.3 L1647.0,517.4 L1648.0,512.3 L1649.0,511.9 L1650.0,512.7 L1651.0,513.5 L1652.0,514.9 L1653.0,518.0 L1654.0,522.6 L1655.0,530.8 L1656.0,540.7 L1657.0,552.6 L1658.0,565.7 L1659.0,579.8 L1660.0,590.8 L1661.0,594.6 L1662.0,590.7 L1663.0,585.3 L1664.0,577.2 L1665.0,568.7 L1666.0,560.2 L1667.0,552.1 L1668.0,546.8 L1669.0,542.1 L1670.0,538.9 L1671.0,538.8 L1672.0,541.1 L1673.0,544.3 L1674.0,547.2 L1675.0,550.9 L1676.0,554.5 L1677.0,555.6 L1678.0,552.6 L1679.0,548.3 L1680.0,545.3 L1681.0,542.6 L1682.0,541.5 L1683.0,542.3 L1684.0,543.5 L1685.0,543.9 L1686.0,543.5 L1687.0,542.9 L1688.0,542.2 L1689.0,541.1 L1690.0,538.9 L1691.0,537.3 L1692.0,536.8 L1693.0,536.6 L1694.0,536.6 L1695.0,536.1 L1696.0,535.1 L1697.0,533.9 L1698.0,533.1 L1699.0,532.7 L1700.0,532.2 L1701.0,531.7 L1702.0,531.1 L1703.0,530.4 L1704.0,529.3 L1705.0,528.0 L1706.0,527.1 L1707.0,526.8 L1708.0,526.5 L1709.0,526.3 L1710.0,526.1 L1711.0,525.9 L1712.0,525.4 L1713.0,524.8 L1714.0,524.2 L1715.0,523.4 L1716.0,522.6 L1717.0,521.9 L1718.0,521.6 L1719.0,521.1 L1720.0,520.3 L1721.0,519.4 L1722.0,518.7 L1723.0,518.2 L1724.0,517.6 L1725.0,517.1 L1726.0,516.9 L1727.0,516.6 L1728.0,515.7 L1729.0,514.8 L1730.0,514.2 L1731.0,513.8 L1732.0,513.2 L1733.0,512.6 L1734.0,512.2 L1735.0,512.0 L1736.0,511.2 L1737.0,510.3 L1738.0,509.5 L1739.0,508.7 L1740.0,507.7 L1741.0,506.6 L1742.0,505.6 L1743.0,504.6 L1744.0,504.0 L1745.0,503.4 L1746.0,502.3 L1747.0,501.1 L1748.0,500.5 L1749.0,500.4 L1750.0,500.2 L1751.0,499.4 L1752.0,498.4 L1753.0,497.3 L1754.0,496.5 L1755.0,496.0 L1756.0,495.1 L1757.0,493.8 L1758.0,492.5 L1759.0,491.6 L1760.0,491.2 L1761.0,491.0 L1762.0,490.6 L1763.0,490.0 L1764.0,489.4 L1765.0,489.2 L1766.0,488.7 L1767.0,487.9 L1768.0,487.1 L1769.0,486.4 L1770.0,486.0 L1771.0,485.5 L1772.0,484.8 L1773.0,484.0 L1774.0,483.4 L1775.0,482.9 L1776.0,482.4 L1777.0,481.8 L1778.0,481.5 L1779.0,481.8 L1780.0,482.5 L1781.0,482.9 L1782.0,482.5 L1783.0,481.0 L1784.0,478.8 L1785.0,476.6 L1786.0,474.0 L1787.0,472.0 L1788.0,471.1 L1789.0,473.3 L1790.0,478.0 L1791.0,482.7 L1792.0,488.8 L1793.0,492.4 L1794.0,490.7 L1795.0,486.3 L1796.0,481.1 L1797.0,475.6 L1798.0,469.7 L1799.0,462.3 L1800.0,454.8 L1801.0,450.7 L1802.0,447.8 L1803.0,448.1 L1804.0,453.4 L1805.0,462.3 L1806.0,478.6 L1807.0,496.4 L1808.0,510.3 L1809.0,524.4 L1810.0,536.3 L1811.0,541.3 L1812.0,537.3 L1813.0,527.5 L1814.0,515.3 L1815.0,497.8 L1816.0,478.5 L1817.0,460.9 L1818.0,442.9 L1819.0,425.6 L1820.0,410.5 L1821.0,396.4 L1822.0,383.2 L1823.0,374.1 L1824.0,368.5 L1825.0,365.5 L1826.0,366.7 L1827.0,370.7 L1828.0,376.3 L1829.0,387.4 L1830.0,403.1 L1831.0,420.3 L1832.0,440.1 L1833.0,462.8 L1834.0,486.7 L1835.0,509.4 L1836.0,532.0 L1837.0,555.1 L1838.0,575.0 L1839.0,590.0 L1840.0,603.3 L1841.0,609.8 L1842.0,607.4 L1843.0,600.7 L1844.0,591.0 L1845.0,574.4 L1846.0,555.2 L1847.0,533.9 L1848.0,510.3 L1849.0,487.6 L1850.0,466.5 L1851.0,445.5 L1852.0,424.7 L1853.0,405.2 L1854.0,387.2 L1855.0,370.0 L1856.0,353.4 L1857.0,336.6 L1858.0,319.8 L1859.0,303.4 L1860.0,287.7 L1861.0,273.1 L1862.0,259.0 L1863.0,245.2 L1864.0,231.7 L1865.0,218.3 L1866.0,205.2 L1867.0,192.4 L1868.0,180.4 L1869.0,168.7 L1870.0,157.9 L1871.0,150.1 L1872.0,144.9 L1873.0,141.2 L1874.0,141.2 L1875.0,143.3 L1876.0,146.3 L1877.0,150.8 L1878.0,157.5 L1879.0,165.8 L1880.0,174.3 L1881.0,184.1 L1882.0,194.3 L1883.0,205.1 L1884.0,216.6 L1885.0,228.5 L1886.0,240.5 L1887.0,253.1 L1888.0,266.9 L1889.0,282.8 L1890.0,301.7 L1891.0,326.2 L1892.0,353.5 L1893.0,380.1 L1894.0,406.4 L1895.0,433.6 L1896.0,460.3 L1897.0,484.9 L1898.0,508.5 L1899.0,530.6 L1900.0,550.4 L1901.0,567.9 L1902.0,583.5 L1903.0,597.5 L1904.0,609.8 L1905.0,621.0 L1906.0,628.1 L1907.0,631.6 L1908.0,633.9 L1909.0,635.6 L1910.0,636.9 L1911.0,637.4 L1912.0,637.4 L1913.0,637.3 L1914.0,636.9 L1915.0,636.3 L1916.0,635.2 L1917.0,633.2 L1918.0,628.0 L1919.0,610.7 L1920.0,590.5 L1921.0,565.7 L1922.0,540.3 L1923.0,517.7 L1924.0,496.1 L1925.0,473.4 L1926.0,448.1 L1927.0,420.8 L1928.0,392.9 L1929.0,366.3 L1930.0,341.0 L1931.0,313.3 L1932.0,278.7 L1933.0,231.0 L1934.0,175.5 L1934.6,137.6" stroke="#2a44e4" stroke-width="2.0"/>
<path d="M1375.0,656.7 L1376.0,656.8 L1377.0,656.8 L1378.0,656.6 L1379.0,656.6 L1380.0,656.8 L1381.0,656.7 L1382.0,656.5 L1383.0,656.5 L1384.0,656.7 L1385.0,656.8 L1386.0,656.5 L1387.0,656.2 L1388.0,656.2 L1389.0,656.3 L1390.0,656.1 L1391.0,656.1 L1392.0,656.3 L1393.0,656.5 L1394.0,656.5 L1395.0,656.5 L1396.0,656.6 L1397.0,656.6 L1398.0,656.6 L1399.0,656.6 L1400.0,656.4 L1401.0,656.4 L1402.0,656.4 L1403.0,656.3 L1404.0,656.1 L1405.0,655.8 L1406.0,655.8 L1407.0,655.9 L1408.0,656.1 L1409.0,656.0 L1410.0,655.7 L1411.0,655.3 L1412.0,654.9 L1413.0,654.6 L1414.0,654.4 L1415.0,654.2 L1416.0,653.8 L1417.0,653.5 L1418.0,653.2 L1419.0,653.0 L1420.0,652.6 L1421.0,652.4 L1422.0,652.2 L1423.0,651.8 L1424.0,651.4 L1425.0,651.0 L1426.0,650.7 L1427.0,650.3 L1428.0,649.8 L1429.0,649.5 L1430.0,649.2 L1431.0,648.8 L1432.0,648.1 L1433.0,647.1 L1434.0,646.0 L1435.0,644.8 L1436.0,643.4 L1437.0,641.8 L1438.0,640.1 L1439.0,638.4 L1440.0,636.8 L1441.0,635.3 L1442.0,633.8 L1443.0,632.2 L1444.0,630.6 L1445.0,629.1 L1446.0,628.0 L1447.0,627.4 L1448.0,626.7 L1449.0,625.6 L1450.0,624.5 L1451.0,623.8 L1452.0,623.2 L1453.0,622.2 L1454.0,620.9 L1455.0,619.5 L1456.0,618.2 L1457.0,617.0 L1458.0,615.7 L1459.0,614.4 L1460.0,613.0 L1461.0,611.4 L1462.0,609.7 L1463.0,607.6 L1464.0,605.2 L1465.0,602.8 L1466.0,600.5 L1467.0,598.3 L1468.0,596.0 L1469.0,593.5 L1470.0,591.2 L1471.0,588.6 L1472.0,586.0 L1473.0,583.3 L1474.0,580.6 L1475.0,577.9 L1476.0,575.0 L1477.0,572.3 L1478.0,569.5 L1479.0,566.3 L1480.0,563.0 L1481.0,559.9 L1482.0,557.2 L1483.0,554.7 L1484.0,552.0 L1485.0,549.3 L1486.0,546.5 L1487.0,544.0 L1488.0,541.6 L1489.0,539.2 L1490.0,536.9 L1491.0,534.7 L1492.0,532.6 L1493.0,530.7 L1494.0,528.9 L1495.0,527.3 L1496.0,525.9 L1497.0,524.6 L1498.0,523.4 L1499.0,522.4 L1500.0,521.7 L1501.0,520.9 L1502.0,520.1 L1503.0,519.2 L1504.0,518.2 L1505.0,517.3 L1506.0,516.5 L1507.0,515.7 L1508.0,514.6 L1509.0,513.4 L1510.0,512.0 L1511.0,510.8 L1512.0,509.7 L1513.0,508.3 L1514.0,506.9 L1515.0,505.8 L1516.0,505.4 L1517.0,505.0 L1518.0,504.0 L1519.0,502.9 L1520.0,502.0 L1521.0,501.4 L1522.0,500.8 L1523.0,500.3 L1524.0,499.9 L1525.0,499.7 L1526.0,499.6 L1527.0,499.4 L1528.0,499.4 L1529.0,499.5 L1530.0,500.0 L1531.0,500.5 L1532.0,501.3 L1533.0,502.5 L1534.0,504.0 L1535.0,505.8 L1536.0,508.6 L1537.0,512.5 L1538.0,516.9 L1539.0,521.5 L1540.0,526.4 L1541.0,531.8 L1542.0,537.9 L1543.0,544.9 L1544.0,552.5 L1545.0,560.1 L1546.0,567.5 L1547.0,574.9 L1548.0,582.6 L1549.0,590.4 L1550.0,598.2 L1551.0,606.3 L1552.0,614.3 L1553.0,621.7 L1554.0,628.9 L1555.0,635.9 L1556.0,641.7 L1557.0,645.5 L1558.0,648.5 L1559.0,650.8 L1560.0,652.3 L1561.0,653.3 L1562.0,654.2 L1563.0,654.4 L1564.0,654.4 L1565.0,654.5 L1566.0,654.9 L1567.0,655.1 L1568.0,654.9 L1569.0,654.5 L1570.0,654.3 L1571.0,653.3 L1572.0,651.2 L1573.0,648.1 L1574.0,643.2 L1575.0,636.1 L1576.0,628.2 L1577.0,619.8 L1578.0,610.6 L1579.0,601.4 L1580.0,592.1 L1581.0,582.9 L1582.0,574.2 L1583.0,566.1 L1584.0,558.3 L1585.0,550.8 L1586.0,544.0 L1587.0,537.4 L1588.0,531.0 L1589.0,524.9 L1590.0,519.4 L1591.0,514.3 L1592.0,509.4 L1593.0,505.1 L1594.0,501.3 L1595.0,498.5 L1596.0,495.9 L1597.0,493.6 L1598.0,491.5 L1599.0,489.7 L1600.0,488.1 L1601.0,486.8 L1602.0,485.8 L1603.0,485.1 L1604.0,484.7 L1605.0,484.5 L1606.0,484.4 L1607.0,484.4 L1608.0,484.6 L1609.0,485.4 L1610.0,486.6 L1611.0,488.0 L1612.0,489.5 L1613.0,491.7 L1614.0,494.6 L1615.0,499.5 L1616.0,506.4 L1617.0,513.7 L1618.0,521.1 L1619.0,529.1 L1620.0,537.4 L1621.0,546.1 L1622.0,555.9 L1623.0,566.1 L1624.0,575.5 L1625.0,583.9 L1626.0,592.1 L1627.0,599.6 L1628.0,606.2 L1629.0,612.0 L1630.0,617.1 L1631.0,620.9 L1632.0,623.2 L1633.0,622.2 L1634.0,619.8 L1635.0,616.7 L1636.0,611.2 L1637.0,604.7 L1638.0,596.6 L1639.0,586.8 L1640.0,577.2 L1641.0,568.3 L1642.0,559.6 L1643.0,551.8 L1644.0,544.8 L1645.0,538.1 L1646.0,532.5 L1647.0,528.7 L1648.0,526.4 L1649.0,524.3 L1650.0,523.5 L1651.0,524.4 L1652.0,526.5 L1653.0,529.6 L1654.0,534.8 L1655.0,540.8 L1656.0,547.7 L1657.0,555.1 L1658.0,560.7 L1659.0,565.6 L1660.0,568.1 L1661.0,566.9 L1662.0,563.5 L1663.0,559.8 L1664.0,556.1 L1665.0,551.9 L1666.0,548.3 L1667.0,545.7 L1668.0,543.1 L1669.0,540.7 L1670.0,539.3 L1671.0,539.3 L1672.0,539.6 L1673.0,540.0 L1674.0,540.5 L1675.0,541.2 L1676.0,541.3 L1677.0,540.5 L1678.0,539.4 L1679.0,538.3 L1680.0,537.4 L1681.0,536.7 L1682.0,536.1 L1683.0,535.6 L1684.0,535.1 L1685.0,534.5 L1686.0,533.9 L1687.0,533.1 L1688.0,532.4 L1689.0,531.8 L1690.0,531.5 L1691.0,531.2 L1692.0,530.7 L1693.0,530.0 L1694.0,529.3 L1695.0,528.8 L1696.0,528.3 L1697.0,527.8 L1698.0,527.1 L1699.0,526.7 L1700.0,526.3 L1701.0,525.9 L1702.0,525.6 L1703.0,525.0 L1704.0,524.3 L1705.0,523.4 L1706.0,522.7 L1707.0,522.1 L1708.0,521.6 L1709.0,521.1 L1710.0,520.5 L1711.0,520.2 L1712.0,519.9 L1713.0,519.5 L1714.0,518.9 L1715.0,518.3 L1716.0,517.7 L1717.0,517.1 L1718.0,516.6 L1719.0,516.0 L1720.0,515.1 L1721.0,514.3 L1722.0,513.9 L1723.0,513.2 L1724.0,512.3 L1725.0,511.4 L1726.0,510.8 L1727.0,510.0 L1728.0,509.1 L1729.0,508.5 L1730.0,507.8 L1731.0,507.1 L1732.0,506.2 L1733.0,505.4 L1734.0,504.7 L1735.0,504.0 L1736.0,503.4 L1737.0,502.9 L1738.0,502.6 L1739.0,502.3 L1740.0,501.9 L1741.0,501.5 L1742.0,501.1 L1743.0,500.4 L1744.0,499.7 L1745.0,499.1 L1746.0,498.5 L1747.0,498.0 L1748.0,497.5 L1749.0,497.3 L1750.0,496.7 L1751.0,496.0 L1752.0,495.4 L1753.0,494.9 L1754.0,494.4 L1755.0,493.5 L1756.0,492.6 L1757.0,491.7 L1758.0,490.9 L1759.0,490.2 L1760.0,489.5 L1761.0,488.9 L1762.0,488.4 L1763.0,487.9 L1764.0,487.3 L1765.0,486.7 L1766.0,486.1 L1767.0,485.6 L1768.0,485.0 L1769.0,484.4 L1770.0,484.0 L1771.0,483.5 L1772.0,483.1 L1773.0,482.7 L1774.0,482.3 L1775.0,481.6 L1776.0,481.0 L1777.0,480.5 L1778.0,480.0 L1779.0,479.3 L1780.0,478.3 L1781.0,477.4 L1782.0,476.6 L1783.0,475.8 L1784.0,475.1 L1785.0,474.3 L1786.0,473.6 L1787.0,472.9 L1788.0,472.5 L1789.0,474.0 L1790.0,476.9 L1791.0,479.5 L1792.0,482.3 L1793.0,483.7 L1794.0,481.9 L1795.0,478.1 L1796.0,474.1 L1797.0,469.3 L1798.0,464.6 L1799.0,459.6 L1800.0,454.4 L1801.0,450.7 L1802.0,450.3 L1803.0,453.8 L1804.0,459.3 L1805.0,465.5 L1806.0,474.4 L1807.0,483.5 L1808.0,489.5 L1809.0,494.6 L1810.0,497.7 L1811.0,497.0 L1812.0,492.8 L1813.0,487.0 L1814.0,479.8 L1815.0,470.4 L1816.0,460.1 L1817.0,449.9 L1818.0,438.3 L1819.0,426.6 L1820.0,416.4 L1821.0,408.6 L1822.0,401.1 L1823.0,394.7 L1824.0,390.8 L1825.0,390.0 L1826.0,391.5 L1827.0,394.7 L1828.0,399.2 L1829.0,405.3 L1830.0,416.4 L1831.0,430.6 L1832.0,445.3 L1833.0,460.5 L1834.0,476.9 L1835.0,493.5 L1836.0,509.5 L1837.0,525.9 L1838.0,541.4 L1839.0,552.9 L1840.0,561.2 L1841.0,565.6 L1842.0,562.6 L1843.0,556.0 L1844.0,546.2 L1845.0,532.4 L1846.0,516.9 L1847.0,497.8 L1848.0,477.7 L1849.0,458.9 L1850.0,440.5 L1851.0,422.4 L1852.0,405.0 L1853.0,388.3 L1854.0,372.0 L1855.0,356.1 L1856.0,340.2 L1857.0,324.0 L1858.0,307.9 L1859.0,292.4 L1860.0,278.0 L1861.0,264.2 L1862.0,250.6 L1863.0,237.7 L1864.0,225.9 L1865.0,215.1 L1866.0,205.1 L1867.0,196.3 L1868.0,189.3 L1869.0,183.6 L1870.0,178.6 L1871.0,174.8 L1872.0,172.4 L1873.0,170.8 L1874.0,171.0 L1875.0,172.4 L1876.0,174.4 L1877.0,177.9 L1878.0,183.6 L1879.0,190.4 L1880.0,198.0 L1881.0,207.1 L1882.0,217.4 L1883.0,228.6 L1884.0,240.1 L1885.0,251.6 L1886.0,263.3 L1887.0,275.8 L1888.0,289.4 L1889.0,304.8 L1890.0,323.1 L1891.0,344.3 L1892.0,366.9 L1893.0,389.7 L1894.0,413.7 L1895.0,438.8 L1896.0,463.3 L1897.0,486.2 L1898.0,508.6 L1899.0,529.6 L1900.0,548.0 L1901.0,564.2 L1902.0,579.0 L1903.0,591.7 L1904.0,602.0 L1905.0,611.3 L1906.0,619.0 L1907.0,624.3 L1908.0,628.0 L1909.0,630.9 L1910.0,632.8 L1911.0,633.3 L1912.0,632.4 L1913.0,630.4 L1914.0,627.7 L1915.0,623.9 L1916.0,617.0 L1917.0,607.6 L1918.0,597.0 L1919.0,584.2 L1920.0,568.6 L1921.0,551.7 L1922.0,535.1 L1923.0,518.2 L1924.0,500.4 L1925.0,481.4 L1926.0,459.8 L1927.0,435.0 L1928.0,408.5 L1929.0,382.3 L1930.0,358.3 L1931.0,334.8 L1932.0,308.4 L1933.0,275.1 L1934.0,230.1 L1935.0,176.2 L1935.6,138.2" stroke="#c43cf0" stroke-width="2.0"/>
<path d="M1375.0,656.5 L1376.0,656.6 L1377.0,656.7 L1378.0,656.6 L1379.0,656.4 L1380.0,656.3 L1381.0,656.3 L1382.0,656.4 L1383.0,656.5 L1384.0,656.6 L1385.0,656.6 L1386.0,656.5 L1387.0,656.3 L1388.0,656.2 L1389.0,656.1 L1390.0,656.1 L1391.0,656.1 L1392.0,656.2 L1393.0,656.3 L1394.0,656.4 L1395.0,656.4 L1396.0,656.2 L1397.0,656.2 L1398.0,656.2 L1399.0,656.3 L1400.0,656.2 L1401.0,656.0 L1402.0,656.0 L1403.0,655.9 L1404.0,655.8 L1405.0,655.7 L1406.0,655.4 L1407.0,655.1 L1408.0,654.9 L1409.0,654.8 L1410.0,654.7 L1411.0,654.6 L1412.0,654.5 L1413.0,654.3 L1414.0,653.9 L1415.0,653.7 L1416.0,653.7 L1417.0,653.6 L1418.0,653.2 L1419.0,652.6 L1420.0,652.2 L1421.0,651.9 L1422.0,651.5 L1423.0,651.1 L1424.0,650.7 L1425.0,650.4 L1426.0,650.1 L1427.0,649.7 L1428.0,649.4 L1429.0,649.0 L1430.0,648.4 L1431.0,647.9 L1432.0,647.0 L1433.0,645.8 L1434.0,644.3 L1435.0,642.8 L1436.0,641.2 L1437.0,639.3 L1438.0,637.1 L1439.0,635.0 L1440.0,633.1 L1441.0,631.7 L1442.0,630.6 L1443.0,629.1 L1444.0,627.8 L1445.0,626.7 L1446.0,626.2 L1447.0,625.7 L1448.0,625.1 L1449.0,624.6 L1450.0,624.2 L1451.0,623.7 L1452.0,622.7 L1453.0,621.5 L1454.0,620.3 L1455.0,619.2 L1456.0,617.9 L1457.0,616.4 L1458.0,615.0 L1459.0,613.8 L1460.0,612.4 L1461.0,610.7 L1462.0,608.9 L1463.0,607.0 L1464.0,604.8 L1465.0,602.5 L1466.0,600.2 L1467.0,598.0 L1468.0,595.8 L1469.0,593.5 L1470.0,591.1 L1471.0,588.5 L1472.0,585.8 L1473.0,583.0 L1474.0,580.3 L1475.0,577.5 L1476.0,574.8 L1477.0,572.2 L1478.0,569.5 L1479.0,566.8 L1480.0,563.8 L1481.0,560.6 L1482.0,557.8 L1483.0,555.2 L1484.0,553.0 L1485.0,550.7 L1486.0,548.3 L1487.0,546.1 L1488.0,544.1 L1489.0,542.2 L1490.0,540.5 L1491.0,538.7 L1492.0,537.0 L1493.0,535.6 L1494.0,534.5 L1495.0,533.7 L1496.0,532.6 L1497.0,531.6 L1498.0,530.8 L1499.0,530.2 L1500.0,529.7 L1501.0,528.9 L1502.0,528.1 L1503.0,527.5 L1504.0,527.0 L1505.0,525.8 L1506.0,523.6 L1507.0,521.0 L1508.0,518.6 L1509.0,516.4 L1510.0,514.3 L1511.0,512.2 L1512.0,510.1 L1513.0,508.3 L1514.0,506.6 L1515.0,505.2 L1516.0,503.8 L1517.0,502.6 L1518.0,501.3 L1519.0,500.1 L1520.0,499.2 L1521.0,498.4 L1522.0,497.5 L1523.0,496.6 L1524.0,495.8 L1525.0,495.2 L1526.0,494.8 L1527.0,494.3 L1528.0,494.1 L1529.0,494.2 L1530.0,494.8 L1531.0,495.7 L1532.0,496.5 L1533.0,497.3 L1534.0,498.5 L1535.0,500.3 L1536.0,503.2 L1537.0,506.8 L1538.0,510.9 L1539.0,515.1 L1540.0,519.7 L1541.0,524.9 L1542.0,530.7 L1543.0,537.0 L1544.0,543.6 L1545.0,550.2 L1546.0,556.7 L1547.0,563.3 L1548.0,570.1 L1549.0,577.1 L1550.0,583.9 L1551.0,590.8 L1552.0,597.5 L1553.0,604.0 L1554.0,610.9 L1555.0,618.1 L1556.0,624.8 L1557.0,630.0 L1558.0,634.2 L1559.0,637.6 L1560.0,640.5 L1561.0,643.3 L1562.0,645.8 L1563.0,647.6 L1564.0,648.6 L1565.0,649.4 L1566.0,650.0 L1567.0,650.2 L1568.0,649.8 L1569.0,648.9 L1570.0,647.6 L1571.0,646.0 L1572.0,643.5 L1573.0,639.7 L1574.0,634.5 L1575.0,628.6 L1576.0,622.7 L1577.0,616.4 L1578.0,609.9 L1579.0,603.1 L1580.0,595.6 L1581.0,588.0 L1582.0,580.2 L1583.0,572.4 L1584.0,564.6 L1585.0,557.3 L1586.0,550.3 L1587.0,543.7 L1588.0,537.7 L1589.0,531.9 L1590.0,526.0 L1591.0,520.3 L1592.0,515.3 L1593.0,511.0 L1594.0,507.0 L1595.0,503.4 L1596.0,500.2 L1597.0,497.4 L1598.0,494.7 L1599.0,492.5 L1600.0,490.7 L1601.0,488.8 L1602.0,487.0 L1603.0,485.3 L1604.0,484.1 L1605.0,483.2 L1606.0,482.3 L1607.0,481.7 L1608.0,481.6 L1609.0,482.2 L1610.0,483.2 L1611.0,484.5 L1612.0,486.0 L1613.0,488.2 L1614.0,491.0 L1615.0,495.0 L1616.0,500.4 L1617.0,506.0 L1618.0,512.0 L1619.0,518.7 L1620.0,525.6 L1621.0,532.3 L1622.0,539.0 L1623.0,545.7 L1624.0,551.9 L1625.0,557.5 L1626.0,562.9 L1627.0,568.0 L1628.0,572.2 L1629.0,575.8 L1630.0,578.8 L1631.0,580.8 L1632.0,582.4 L1633.0,583.5 L1634.0,583.4 L1635.0,582.2 L1636.0,580.4 L1637.0,577.6 L1638.0,573.6 L1639.0,568.6 L1640.0,562.4 L1641.0,555.5 L1642.0,548.2 L1643.0,540.2 L1644.0,532.9 L1645.0,527.3 L1646.0,522.4 L1647.0,518.3 L1648.0,514.8 L1649.0,511.8 L1650.0,510.8 L1651.0,511.3 L1652.0,512.1 L1653.0,513.1 L1654.0,514.8 L1655.0,517.2 L1656.0,519.6 L1657.0,521.3 L1658.0,523.1 L1659.0,524.5 L1660.0,525.0 L1661.0,524.8 L1662.0,524.7 L1663.0,524.6 L1664.0,524.3 L1665.0,523.9 L1666.0,523.3 L1667.0,522.4 L1668.0,521.4 L1669.0,520.8 L1670.0,520.7 L1671.0,520.9 L1672.0,521.0 L1673.0,521.3 L1674.0,521.6 L1675.0,521.8 L1676.0,521.4 L1677.0,520.7 L1678.0,520.0 L1679.0,519.2 L1680.0,518.4 L1681.0,517.7 L1682.0,517.0 L1683.0,516.2 L1684.0,515.3 L1685.0,514.5 L1686.0,513.8 L1687.0,513.0 L1688.0,512.1 L1689.0,511.4 L1690.0,510.8 L1691.0,510.4 L1692.0,510.0 L1693.0,509.8 L1694.0,509.5 L1695.0,508.9 L1696.0,508.4 L1697.0,507.9 L1698.0,507.3 L1699.0,506.9 L1700.0,506.6 L1701.0,506.3 L1702.0,505.8 L1703.0,504.9 L1704.0,504.0 L1705.0,503.3 L1706.0,502.9 L1707.0,502.5 L1708.0,501.9 L1709.0,501.1 L1710.0,500.5 L1711.0,500.0 L1712.0,499.4 L1713.0,498.8 L1714.0,498.3 L1715.0,497.7 L1716.0,497.1 L1717.0,496.6 L1718.0,496.2 L1719.0,495.6 L1720.0,495.0 L1721.0,494.6 L1722.0,494.3 L1723.0,494.1 L1724.0,493.8 L1725.0,493.5 L1726.0,493.4 L1727.0,493.4 L1728.0,493.2 L1729.0,492.8 L1730.0,492.5 L1731.0,492.1 L1732.0,491.7 L1733.0,491.3 L1734.0,490.7 L1735.0,490.0 L1736.0,489.3 L1737.0,488.5 L1738.0,487.5 L1739.0,486.6 L1740.0,486.1 L1741.0,485.6 L1742.0,485.1 L1743.0,484.4 L1744.0,483.5 L1745.0,482.8 L1746.0,482.2 L1747.0,481.6 L1748.0,480.8 L1749.0,479.8 L1750.0,478.8 L1751.0,477.7 L1752.0,476.9 L1753.0,476.0 L1754.0,475.1 L1755.0,474.2 L1756.0,473.5 L1757.0,472.7 L1758.0,471.7 L1759.0,470.6 L1760.0,469.8 L1761.0,468.9 L1762.0,468.0 L1763.0,467.2 L1764.0,466.5 L1765.0,466.0 L1766.0,465.4 L1767.0,464.7 L1768.0,463.7 L1769.0,462.7 L1770.0,461.5 L1771.0,460.4 L1772.0,459.5 L1773.0,458.6 L1774.0,457.8 L1775.0,456.8 L1776.0,455.7 L1777.0,454.7 L1778.0,453.6 L1779.0,452.5 L1780.0,451.2 L1781.0,449.9 L1782.0,448.4 L1783.0,446.7 L1784.0,444.9 L1785.0,443.3 L1786.0,441.7 L1787.0,439.6 L1788.0,437.1 L1789.0,434.8 L1790.0,433.4 L1791.0,433.1 L1792.0,434.2 L1793.0,435.6 L1794.0,437.3 L1795.0,439.0 L1796.0,439.2 L1797.0,438.2 L1798.0,436.7 L1799.0,435.1 L1800.0,433.9 L1801.0,433.0 L1802.0,432.3 L1803.0,431.8 L1804.0,431.4 L1805.0,430.9 L1806.0,430.5 L1807.0,430.3 L1808.0,430.2 L1809.0,430.0 L1810.0,429.6 L1811.0,429.4 L1812.0,429.1 L1813.0,428.8 L1814.0,428.3 L1815.0,427.9 L1816.0,425.4 L1817.0,420.3 L1818.0,414.7 L1819.0,408.7 L1820.0,401.8 L1821.0,396.0 L1822.0,391.3 L1823.0,387.0 L1824.0,384.9 L1825.0,385.4 L1826.0,387.5 L1827.0,390.3 L1828.0,394.0 L1829.0,401.0 L1830.0,410.3 L1831.0,419.9 L1832.0,429.8 L1833.0,440.7 L1834.0,451.8 L1835.0,462.1 L1836.0,472.1 L1837.0,482.1 L1838.0,489.8 L1839.0,495.5 L1840.0,499.3 L1841.0,499.1 L1842.0,497.3 L1843.0,494.8 L1844.0,490.2 L1845.0,484.0 L1846.0,475.1 L1847.0,464.3 L1848.0,450.7 L1849.0,435.5 L1850.0,420.1 L1851.0,404.4 L1852.0,387.8 L1853.0,371.0 L1854.0,355.2 L1855.0,340.6 L1856.0,326.6 L1857.0,312.7 L1858.0,298.7 L1859.0,284.0 L1860.0,268.3 L1861.0,252.1 L1862.0,236.3 L1863.0,221.8 L1864.0,207.9 L1865.0,194.5 L1866.0,182.3 L1867.0,171.9 L1868.0,162.8 L1869.0,154.6 L1870.0,148.3 L1871.0,144.5 L1872.0,141.8 L1873.0,140.4 L1874.0,140.8 L1875.0,142.7 L1876.0,145.4 L1877.0,150.2 L1878.0,157.1 L1879.0,165.1 L1880.0,173.1 L1881.0,182.3 L1882.0,192.8 L1883.0,203.7 L1884.0,214.9 L1885.0,225.8 L1886.0,236.4 L1887.0,247.2 L1888.0,259.0 L1889.0,273.1 L1890.0,290.1 L1891.0,314.1 L1892.0,344.9 L1893.0,375.1 L1894.0,403.2 L1895.0,431.3 L1896.0,457.7 L1897.0,481.4 L1898.0,503.5 L1899.0,523.9 L1900.0,541.6 L1901.0,557.3 L1902.0,571.2 L1903.0,583.0 L1904.0,592.3 L1905.0,600.5 L1906.0,607.3 L1907.0,612.0 L1908.0,615.5 L1909.0,618.6 L1910.0,620.5 L1911.0,620.6 L1912.0,618.6 L1913.0,615.4 L1914.0,611.7 L1915.0,606.5 L1916.0,599.1 L1917.0,590.2 L1918.0,579.9 L1919.0,566.6 L1920.0,551.3 L1921.0,535.2 L1922.0,518.8 L1923.0,501.2 L1924.0,482.1 L1925.0,461.2 L1926.0,437.3 L1927.0,411.4 L1928.0,384.9 L1929.0,359.4 L1930.0,333.6 L1931.0,303.9 L1932.0,265.3 L1933.0,215.1 L1934.0,157.2 L1934.3,138.1" stroke="#e4203c" stroke-width="2.15"/>
<path d="M1374.7,121.6 L1375.7,121.9 L1376.7,122.3 L1377.7,122.6 L1378.7,122.9 L1379.7,123.3 L1380.7,123.5 L1381.7,123.8 L1382.7,124.0 L1383.7,124.3 L1384.7,124.8 L1385.7,125.0 L1386.7,125.3 L1387.7,125.4 L1388.7,125.5 L1389.7,125.8 L1390.7,126.1 L1391.7,126.5 L1392.7,126.8 L1393.7,126.9 L1394.7,126.8 L1395.7,126.9 L1396.7,126.9 L1397.7,127.0 L1398.7,127.2 L1399.7,127.4 L1400.7,127.5 L1401.7,127.5 L1402.7,127.6 L1403.7,127.6 L1404.7,127.3 L1405.7,127.1 L1406.7,127.1 L1407.7,127.6 L1408.7,128.1 L1409.7,128.5 L1410.7,129.1 L1411.7,129.7 L1412.7,130.2 L1413.7,130.8 L1414.7,131.3 L1415.7,131.9 L1416.7,132.3 L1417.7,132.7 L1418.7,133.2 L1419.7,133.8 L1420.7,134.2 L1421.7,134.5 L1422.7,134.9 L1423.7,135.3 L1424.7,135.6 L1425.7,135.7 L1426.7,135.8 L1427.7,136.1 L1428.7,136.5 L1429.7,136.9 L1430.7,137.0 L1431.7,137.4 L1432.7,137.9 L1433.7,138.5 L1434.7,138.9 L1435.7,139.2 L1436.7,139.7 L1437.7,140.4 L1438.7,141.1 L1439.7,141.5 L1440.7,141.8 L1441.7,142.3 L1442.7,143.0 L1443.7,143.9 L1444.7,145.0 L1445.7,145.9 L1446.7,146.5 L1447.7,146.7 L1448.7,146.6 L1449.7,146.6 L1450.7,146.5 L1451.7,146.5 L1452.7,146.6 L1453.7,146.5 L1454.7,146.4 L1455.7,146.3 L1456.7,146.5 L1457.7,146.9 L1458.7,147.6 L1459.7,148.6 L1460.7,149.7 L1461.7,150.9 L1462.7,152.1 L1463.7,153.3 L1464.7,154.5 L1465.7,155.7 L1466.7,157.2 L1467.7,159.0 L1468.7,160.8 L1469.7,162.6 L1470.7,164.3 L1471.7,165.9 L1472.7,167.6 L1473.7,169.5 L1474.7,171.5 L1475.7,173.2 L1476.7,174.9 L1477.7,176.4 L1478.7,177.9 L1479.7,179.7 L1480.7,181.6 L1481.7,183.5 L1482.7,185.1 L1483.7,186.6 L1484.7,188.1 L1485.7,189.7 L1486.7,191.1 L1487.7,192.4 L1488.7,193.5 L1489.7,194.9 L1490.7,196.5 L1491.7,198.4 L1492.7,200.0 L1493.7,201.5 L1494.7,202.7 L1495.7,203.7 L1496.7,204.8 L1497.7,206.3 L1498.7,208.0 L1499.7,209.4 L1500.7,210.6 L1501.7,211.8 L1502.7,213.1 L1503.7,214.4 L1504.7,215.5 L1505.7,216.5 L1506.7,217.6 L1507.7,218.8 L1508.7,220.1 L1509.7,221.5 L1510.7,222.9 L1511.7,224.3 L1512.7,225.4 L1513.7,226.7 L1514.7,228.1 L1515.7,229.2 L1516.7,230.2 L1517.7,231.1 L1518.7,232.0 L1519.7,232.8 L1520.7,233.9 L1521.7,234.9 L1522.7,235.8 L1523.7,236.6 L1524.7,237.5 L1525.7,238.3 L1526.7,239.2 L1527.7,240.2 L1528.7,240.9 L1529.7,241.7 L1530.7,242.6 L1531.7,243.8 L1532.7,244.9 L1533.7,246.1 L1534.7,247.4 L1535.7,248.5 L1536.7,249.7 L1537.7,251.2 L1538.7,253.1 L1539.7,255.4 L1540.7,257.8 L1541.7,260.2 L1542.7,263.0 L1543.7,266.1 L1544.7,269.6 L1545.7,272.9 L1546.7,276.1 L1547.7,279.4 L1548.7,283.3 L1549.7,287.3 L1550.7,290.8 L1551.7,293.3 L1552.7,295.2 L1553.7,296.7 L1554.7,298.5 L1555.7,300.3 L1556.7,301.9 L1557.7,303.5 L1558.7,305.0 L1559.7,306.4 L1560.7,307.4 L1561.7,308.0 L1562.7,308.7 L1563.7,309.3 L1564.7,309.5 L1565.7,309.8 L1566.7,310.0 L1567.7,309.8 L1568.7,309.2 L1569.7,308.6 L1570.7,308.2 L1571.7,308.1 L1572.7,307.6 L1573.7,307.1 L1574.7,306.6 L1575.7,306.0 L1576.7,305.2 L1577.7,304.2 L1578.7,303.4 L1579.7,302.7 L1580.7,302.1 L1581.7,301.5 L1582.7,301.2 L1583.7,300.8 L1584.7,300.4 L1585.7,300.0 L1586.7,299.5 L1587.7,299.3 L1588.7,299.5 L1589.7,299.6 L1590.7,299.6 L1591.7,299.5 L1592.7,299.6 L1593.7,299.6 L1594.7,299.6 L1595.7,299.6 L1596.7,300.0 L1597.7,300.6 L1598.7,301.0 L1599.7,301.2 L1600.7,301.3 L1601.7,301.6 L1602.7,301.7 L1603.7,301.7 L1604.7,301.9 L1605.7,302.4 L1606.7,303.0 L1607.7,303.5 L1608.7,304.1 L1609.7,304.8 L1610.7,305.8 L1611.7,307.0 L1612.7,308.0 L1613.7,309.1 L1614.7,310.1 L1615.7,311.3 L1616.7,312.7 L1617.7,314.4 L1618.7,316.3 L1619.7,317.9 L1620.7,319.6 L1621.7,321.5 L1622.7,323.4 L1623.7,325.1 L1624.7,326.3 L1625.7,327.5 L1626.7,328.5 L1627.7,329.3 L1628.7,329.9 L1629.7,330.4 L1630.7,330.9 L1631.7,331.0 L1632.7,331.1 L1633.7,331.2 L1634.7,331.4 L1635.7,331.3 L1636.7,331.1 L1637.7,331.3 L1638.7,331.9 L1639.7,332.3 L1640.7,332.4 L1641.7,332.4 L1642.7,332.8 L1643.7,333.1 L1644.7,333.1 L1645.7,333.2 L1646.7,333.5 L1647.7,334.0 L1648.7,334.5 L1649.7,335.1 L1650.7,335.8 L1651.7,336.6 L1652.7,337.3 L1653.7,337.9 L1654.7,338.6 L1655.7,339.3 L1656.7,340.2 L1657.7,340.9 L1658.7,341.4 L1659.7,341.9 L1660.7,342.4 L1661.7,343.0 L1662.7,343.5 L1663.7,343.7 L1664.7,343.9 L1665.7,344.2 L1666.7,344.8 L1667.7,345.2 L1668.7,345.6 L1669.7,346.0 L1670.7,346.4 L1671.7,346.7 L1672.7,347.2 L1673.7,347.8 L1674.7,348.4 L1675.7,349.0 L1676.7,349.6 L1677.7,350.3 L1678.7,351.0 L1679.7,351.7 L1680.7,352.3 L1681.7,353.0 L1682.7,353.7 L1683.7,354.6 L1684.7,355.3 L1685.7,355.9 L1686.7,356.7 L1687.7,357.3 L1688.7,358.0 L1689.7,358.5 L1690.7,359.2 L1691.7,360.2 L1692.7,361.3 L1693.7,362.1 L1694.7,362.5 L1695.7,363.0 L1696.7,363.7 L1697.7,364.6 L1698.7,365.4 L1699.7,366.2 L1700.7,366.8 L1701.7,367.5 L1702.7,368.1 L1703.7,368.5 L1704.7,369.1 L1705.7,369.9 L1706.7,370.8 L1707.7,371.4 L1708.7,371.8 L1709.7,372.3 L1710.7,373.0 L1711.7,373.7 L1712.7,374.4 L1713.7,375.0 L1714.7,375.6 L1715.7,376.4 L1716.7,377.1 L1717.7,377.7 L1718.7,378.3 L1719.7,379.1 L1720.7,379.9 L1721.7,380.4 L1722.7,380.7 L1723.7,381.2 L1724.7,382.0 L1725.7,382.9 L1726.7,383.8 L1727.7,384.5 L1728.7,385.1 L1729.7,385.6 L1730.7,386.1 L1731.7,386.9 L1732.7,387.6 L1733.7,388.2 L1734.7,389.0 L1735.7,389.7 L1736.7,390.2 L1737.7,390.6 L1738.7,391.1 L1739.7,391.8 L1740.7,392.5 L1741.7,393.2 L1742.7,393.9 L1743.7,394.5 L1744.7,394.9 L1745.7,395.5 L1746.7,396.3 L1747.7,397.0 L1748.7,398.0 L1749.7,398.9 L1750.7,399.8 L1751.7,400.2 L1752.7,400.7 L1753.7,401.4 L1754.7,402.3 L1755.7,403.0 L1756.7,403.6 L1757.7,404.4 L1758.7,405.1 L1759.7,405.6 L1760.7,406.1 L1761.7,406.9 L1762.7,407.6 L1763.7,408.3 L1764.7,408.9 L1765.7,409.7 L1766.7,410.6 L1767.7,411.3 L1768.7,411.9 L1769.7,412.4 L1770.7,412.6 L1771.7,412.9 L1772.7,413.1 L1773.7,413.3 L1774.7,413.6 L1775.7,413.8 L1776.7,413.9 L1777.7,414.2 L1778.7,414.5 L1779.7,414.7 L1780.7,415.1 L1781.7,415.5 L1782.7,415.8 L1783.7,416.0 L1784.7,416.7 L1785.7,417.7 L1786.7,418.7 L1787.7,419.7 L1788.7,420.8 L1789.7,421.6 L1790.7,422.4 L1791.7,423.2 L1792.7,424.2 L1793.7,425.3 L1794.7,426.4 L1795.7,427.4 L1796.7,428.1 L1797.7,428.8 L1798.7,429.2 L1799.7,429.5 L1800.7,429.7 L1801.7,429.9 L1802.7,430.3 L1803.7,430.7 L1804.7,430.8 L1805.7,430.8 L1806.7,430.8 L1807.7,430.8 L1808.7,431.0 L1809.7,431.3 L1810.7,431.5 L1811.7,431.7 L1812.7,431.8 L1813.7,431.9 L1814.7,432.0 L1815.7,431.8 L1816.7,432.0 L1817.7,433.3 L1818.7,435.2 L1819.7,437.2 L1820.7,438.8 L1821.7,440.3 L1822.7,442.0 L1823.7,443.5 L1824.7,445.2 L1825.7,446.7 L1826.7,448.1 L1827.7,449.3 L1828.7,450.5 L1829.7,452.0 L1830.7,453.3 L1831.7,454.2 L1832.7,454.8 L1833.7,455.6 L1834.7,456.6 L1835.7,457.6 L1836.7,458.4 L1837.7,459.4 L1838.7,460.5 L1839.7,461.5 L1840.7,462.3 L1841.7,462.9 L1842.7,463.6 L1843.7,464.2 L1844.7,464.6 L1845.7,465.0 L1846.7,465.5 L1847.7,465.9 L1848.7,465.9 L1849.7,465.8 L1850.7,465.9 L1851.7,466.0 L1852.7,466.0 L1853.7,465.8 L1854.7,465.7 L1855.7,465.8 L1856.7,466.0 L1857.7,466.2 L1858.7,466.0 L1859.7,465.8 L1860.7,465.6 L1861.7,465.4 L1862.7,465.1 L1863.7,464.8 L1864.7,464.5 L1865.7,464.1 L1866.7,463.9 L1867.7,463.7 L1868.7,463.6 L1869.7,463.3 L1870.7,463.0 L1871.7,463.1 L1872.7,464.0 L1873.7,465.4 L1874.7,466.6 L1875.7,467.8 L1876.7,469.0 L1877.7,470.4 L1878.7,472.0 L1879.7,473.9 L1880.7,476.2 L1881.7,479.2 L1882.7,482.2 L1883.7,485.0 L1884.7,487.5 L1885.7,489.4 L1886.7,491.1 L1887.7,492.7 L1888.7,494.4 L1889.7,495.9 L1890.7,497.2 L1891.7,498.6 L1892.7,500.1 L1893.7,501.4 L1894.7,502.0 L1895.7,502.2 L1896.7,502.3 L1897.7,502.5 L1898.7,502.4 L1899.7,502.2 L1900.7,502.2 L1901.7,502.4 L1902.7,502.3 L1903.7,501.8 L1904.7,501.3 L1905.7,500.8 L1906.7,500.4 L1907.7,500.1 L1908.7,500.4 L1909.7,501.3 L1910.7,502.3 L1911.7,503.2 L1912.7,504.3 L1913.7,505.6 L1914.7,507.0 L1915.7,508.5 L1916.7,509.9 L1917.7,511.3 L1918.7,512.7 L1919.7,514.2 L1920.7,515.9 L1921.7,517.3 L1922.7,518.4 L1923.7,519.6 L1924.7,521.0 L1925.7,522.7 L1926.7,524.4 L1927.7,526.0 L1928.7,527.6 L1929.7,529.0 L1930.7,530.6 L1931.7,532.4 L1932.7,534.1 L1933.7,535.8 L1934.7,537.2 L1935.7,538.8 L1936.7,540.4 L1937.4,541.5" stroke="#111" stroke-width="2.1"/>
</g>
<rect x="1373.0" y="114.3" width="567.0" height="550.7" fill="none" stroke="#000" stroke-width="3.6"/>
<line x1="1357" y1="128.8" x2="1373.0" y2="128.8" stroke="#000" stroke-width="3.0"/>
<line x1="1357" y1="307.5" x2="1373.0" y2="307.5" stroke="#000" stroke-width="3.0"/>
<line x1="1357" y1="486.0" x2="1373.0" y2="486.0" stroke="#000" stroke-width="3.0"/>
<line x1="1356.6" y1="665.0" x2="1373.0" y2="665.0" stroke="#000" stroke-width="3.6"/>
<text x="1341.5" y="142.4" font-size="30.5" text-anchor="end" fill="#111" stroke="#111" stroke-width="0.37">1</text>
<text x="1351" y="676.8" font-size="30.5" text-anchor="end" fill="#111" stroke="#111" stroke-width="0.37">0</text>
<text x="1337.3" y="303.0" font-size="27.5" text-anchor="middle" fill="#111" stroke="#111" stroke-width="0.33">2</text>
<line x1="1326.8" y1="307.8" x2="1347.8" y2="307.8" stroke="#000" stroke-width="2.0"/>
<text x="1337.3" y="335.3" font-size="27.5" text-anchor="middle" fill="#111" stroke="#111" stroke-width="0.33">3</text>
<text x="1337.3" y="481.8" font-size="27.5" text-anchor="middle" fill="#111" stroke="#111" stroke-width="0.33">1</text>
<line x1="1326.8" y1="486.6" x2="1347.8" y2="486.6" stroke="#000" stroke-width="2.0"/>
<text x="1337.3" y="514.0" font-size="27.5" text-anchor="middle" fill="#111" stroke="#111" stroke-width="0.33">3</text>
<line x1="1940.0" y1="250.0" x2="1956.0" y2="250.0" stroke="#000" stroke-width="3.0"/>
<text x="1960.0" y="260.6" font-size="30.5" textLength="35.5" lengthAdjust="spacingAndGlyphs" fill="#111" stroke="#111" stroke-width="0.37">30</text>
<line x1="1940.0" y1="385.0" x2="1956.0" y2="385.0" stroke="#000" stroke-width="3.0"/>
<text x="1960.0" y="395.6" font-size="30.5" textLength="35.5" lengthAdjust="spacingAndGlyphs" fill="#111" stroke="#111" stroke-width="0.37">20</text>
<line x1="1940.0" y1="520.0" x2="1956.0" y2="520.0" stroke="#000" stroke-width="3.0"/>
<text x="1960.0" y="530.6" font-size="30.5" textLength="35.5" lengthAdjust="spacingAndGlyphs" fill="#111" stroke="#111" stroke-width="0.37">10</text>
<line x1="1940.0" y1="655.0" x2="1956.0" y2="655.0" stroke="#000" stroke-width="3.0"/>
<text x="1960.0" y="665.6" font-size="30.5" fill="#111" stroke="#111" stroke-width="0.37">0</text>
<line x1="1564.2" y1="665.0" x2="1564.2" y2="681" stroke="#000" stroke-width="3.0"/>
<text x="1563.8" y="712.3" font-size="28.5" text-anchor="middle" fill="#111" stroke="#111" stroke-width="0.34">2</text>
<line x1="1553.8" y1="715.0" x2="1573.8" y2="715.0" stroke="#000" stroke-width="2.0"/>
<text x="1563.8" y="741.2" font-size="28.5" text-anchor="middle" fill="#111" stroke="#111" stroke-width="0.34">3</text>
<line x1="1633.0" y1="665.0" x2="1633.0" y2="681" stroke="#000" stroke-width="3.0"/>
<text x="1633.5" y="712.3" font-size="28.5" text-anchor="middle" fill="#111" stroke="#111" stroke-width="0.34">3</text>
<line x1="1623.5" y1="715.0" x2="1643.5" y2="715.0" stroke="#000" stroke-width="2.0"/>
<text x="1633.5" y="741.2" font-size="28.5" text-anchor="middle" fill="#111" stroke="#111" stroke-width="0.34">5</text>
<line x1="1664.2" y1="665.0" x2="1664.2" y2="681" stroke="#000" stroke-width="3.0"/>
<text x="1665.3" y="712.3" font-size="28.5" text-anchor="middle" fill="#111" stroke="#111" stroke-width="0.34">4</text>
<line x1="1652.3" y1="715.0" x2="1678.3" y2="715.0" stroke="#000" stroke-width="2.0"/>
<text x="1665.3" y="741.2" font-size="28.5" text-anchor="middle" fill="#111" stroke="#111" stroke-width="0.34">7</text>
<line x1="1812.4" y1="665.0" x2="1812.4" y2="681" stroke="#000" stroke-width="3.0"/>
<text x="1814.2" y="712.3" font-size="28.5" text-anchor="middle" fill="#111" stroke="#111" stroke-width="0.34">3</text>
<line x1="1801.2" y1="715.0" x2="1827.2" y2="715.0" stroke="#000" stroke-width="2.0"/>
<text x="1814.2" y="741.2" font-size="28.5" text-anchor="middle" fill="#111" stroke="#111" stroke-width="0.34">7</text>
<line x1="1842.6" y1="665.0" x2="1842.6" y2="681" stroke="#000" stroke-width="3.0"/>
<text x="1842.2" y="712.3" font-size="28.5" text-anchor="middle" fill="#111" stroke="#111" stroke-width="0.34">2</text>
<line x1="1832.2" y1="715.0" x2="1852.2" y2="715.0" stroke="#000" stroke-width="2.0"/>
<text x="1842.2" y="741.2" font-size="28.5" text-anchor="middle" fill="#111" stroke="#111" stroke-width="0.34">5</text>
<line x1="1911.6" y1="665.0" x2="1911.6" y2="681" stroke="#000" stroke-width="3.0"/>
<text x="1910.6" y="712.3" font-size="28.5" text-anchor="middle" fill="#111" stroke="#111" stroke-width="0.34">1</text>
<line x1="1900.6" y1="715.0" x2="1920.6" y2="715.0" stroke="#000" stroke-width="2.0"/>
<text x="1910.6" y="741.2" font-size="28.5" text-anchor="middle" fill="#111" stroke="#111" stroke-width="0.34">3</text>
<text x="1737" y="722.0" font-size="30" text-anchor="middle" fill="#111" stroke="#111" stroke-width="0.36">ν</text>
<text x="1314.5" y="65.0" font-size="36.5" textLength="39.5" lengthAdjust="spacingAndGlyphs" fill="#111" stroke="#111" stroke-width="0.44">(c)</text>
<text x="1378.2" y="89.7" font-size="29.5" textLength="15.5" lengthAdjust="spacingAndGlyphs" fill="#111" stroke="#111" stroke-width="0.35">σ</text>
<text x="1396.6" y="98.2" font-size="17.5" textLength="18.2" lengthAdjust="spacingAndGlyphs" fill="#111" stroke="#111" stroke-width="0.25">xy</text>
<text x="1421.6" y="89.7" font-size="29.5" textLength="24" lengthAdjust="spacingAndGlyphs" fill="#111" stroke="#111" stroke-width="0.35">(e</text>
<text x="1446.6" y="73.0" font-size="17.5" textLength="8.6" lengthAdjust="spacingAndGlyphs" fill="#111" stroke="#111" stroke-width="0.25">2</text>
<text x="1455.5" y="89.7" font-size="29.5" textLength="37.5" lengthAdjust="spacingAndGlyphs" fill="#111" stroke="#111" stroke-width="0.35">/h)</text>
<text x="1842.8" y="89.7" font-size="31" textLength="16.8" lengthAdjust="spacingAndGlyphs" fill="#111" stroke="#111" stroke-width="0.37">R</text>
<text x="1860.6" y="95.4" font-size="15.5" textLength="17.9" lengthAdjust="spacingAndGlyphs" fill="#111" stroke="#111" stroke-width="0.25">xx</text>
<text x="1884.4" y="89.7" font-size="31" textLength="57.8" lengthAdjust="spacingAndGlyphs" fill="#111" stroke="#111" stroke-width="0.37">(kΩ)</text>
<text x="1395.7" y="296.0" font-size="29" textLength="56.2" lengthAdjust="spacingAndGlyphs" fill="#111" stroke="#111" stroke-width="0.35">B(T)</text>
<line x1="1399.5" y1="337.2" x2="1440.6" y2="337.2" stroke="#111" stroke-width="2.2"/>
<text x="1457.5" y="346.0" font-size="30.5" textLength="32.6" lengthAdjust="spacingAndGlyphs" fill="#111" stroke="#111" stroke-width="0.37">25</text>
<line x1="1399.5" y1="375.4" x2="1440.6" y2="375.4" stroke="#e4283c" stroke-width="2.2"/>
<text x="1457.5" y="383.8" font-size="30.5" textLength="32.6" lengthAdjust="spacingAndGlyphs" fill="#111" stroke="#111" stroke-width="0.37">25</text>
<line x1="1399.5" y1="411.2" x2="1440.6" y2="411.2" stroke="#c43cf0" stroke-width="2.2"/>
<text x="1457.5" y="418.4" font-size="30.5" textLength="32.6" lengthAdjust="spacingAndGlyphs" fill="#111" stroke="#111" stroke-width="0.37">35</text>
<line x1="1399.5" y1="451.6" x2="1440.6" y2="451.6" stroke="#2a44e4" stroke-width="2.2"/>
<text x="1457.5" y="456.2" font-size="30.5" textLength="32.6" lengthAdjust="spacingAndGlyphs" fill="#111" stroke="#111" stroke-width="0.37">45</text>
<path d="M1479,192.5 L1444,192.5" stroke="#111" stroke-width="2.8" fill="none"/><polygon points="1432.5,192.5 1449.5,185.3 1446,192.5 1449.5,199.7" fill="#111"/>
<path d="M1889.5,192.5 L1921,192.5" stroke="#ee1c24" stroke-width="2.8" fill="none"/><polygon points="1932.8,192.5 1916,185.3 1919.5,192.5 1916,199.7" fill="#ee1c24"/>
<g font-size="57" font-weight="700" style="font-family:'Liberation Sans','Noto Sans CJK SC',sans-serif">
<text x="1572.5 1637 1715 1776 1832.5 1889.5" y="718 718 712.5 718 718 718" fill="#a9a9a9" transform="translate(2.8,2.8)">知乎@张稀桧</text>
<text x="1572.5 1637 1715 1776 1832.5 1889.5" y="718 718 712.5 718 718 718" fill="#ffffff">知乎@张稀桧</text>
</g>
</svg>
</body></html>
